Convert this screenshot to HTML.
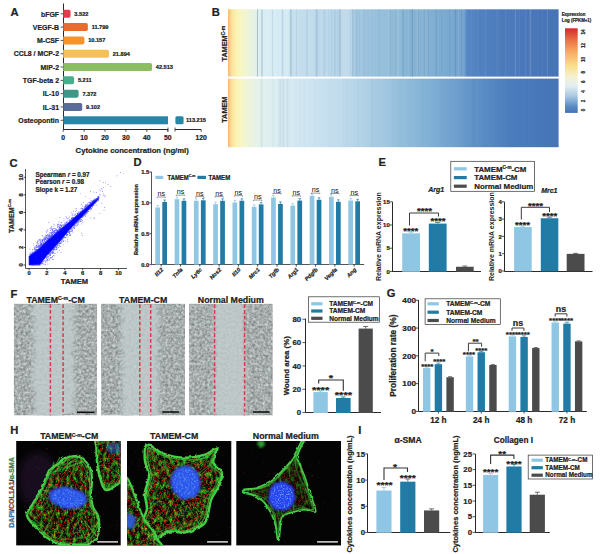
<!DOCTYPE html>
<html><head><meta charset="utf-8"><style>
html,body{margin:0;padding:0;background:#fff;}
svg{display:block;}
text{font-family:"Liberation Sans", sans-serif;}
text[font-weight=bold]{stroke:#222;stroke-width:0.22px;}
</style></head><body>
<svg width="600" height="554" viewBox="0 0 600 554" font-family='"Liberation Sans", sans-serif'>
<rect width="600" height="554" fill="#fff"/>
<text x="10.40" y="15.80" font-size="11.2" text-anchor="start" font-weight="bold" fill="#222">A</text>
<line x1="63.50" y1="3.50" x2="63.50" y2="129.50" stroke="#2a2a2a" stroke-width="1.0"/>
<line x1="63.20" y1="129.50" x2="168.00" y2="129.50" stroke="#2a2a2a" stroke-width="1.0"/>
<line x1="175.00" y1="129.50" x2="201.20" y2="129.50" stroke="#2a2a2a" stroke-width="1.0"/>
<line x1="168.00" y1="127.50" x2="168.00" y2="131.50" stroke="#2a2a2a" stroke-width="0.8"/>
<line x1="175.00" y1="127.50" x2="175.00" y2="131.50" stroke="#2a2a2a" stroke-width="0.8"/>
<line x1="63.20" y1="129.50" x2="63.20" y2="131.80" stroke="#2a2a2a" stroke-width="0.8"/>
<text x="63.20" y="140.00" font-size="6.8" text-anchor="middle" font-weight="bold" fill="#222">0</text>
<line x1="84.10" y1="129.50" x2="84.10" y2="131.80" stroke="#2a2a2a" stroke-width="0.8"/>
<text x="84.10" y="140.00" font-size="6.8" text-anchor="middle" font-weight="bold" fill="#222">10</text>
<line x1="105.00" y1="129.50" x2="105.00" y2="131.80" stroke="#2a2a2a" stroke-width="0.8"/>
<text x="105.00" y="140.00" font-size="6.8" text-anchor="middle" font-weight="bold" fill="#222">20</text>
<line x1="125.90" y1="129.50" x2="125.90" y2="131.80" stroke="#2a2a2a" stroke-width="0.8"/>
<text x="125.90" y="140.00" font-size="6.8" text-anchor="middle" font-weight="bold" fill="#222">30</text>
<line x1="146.80" y1="129.50" x2="146.80" y2="131.80" stroke="#2a2a2a" stroke-width="0.8"/>
<text x="146.80" y="140.00" font-size="6.8" text-anchor="middle" font-weight="bold" fill="#222">40</text>
<line x1="167.70" y1="129.50" x2="167.70" y2="131.80" stroke="#2a2a2a" stroke-width="0.8"/>
<text x="167.70" y="140.00" font-size="6.8" text-anchor="middle" font-weight="bold" fill="#222">50</text>
<line x1="201.20" y1="129.50" x2="201.20" y2="131.80" stroke="#2a2a2a" stroke-width="0.8"/>
<text x="201.20" y="140.00" font-size="6.8" text-anchor="middle" font-weight="bold" fill="#222">120</text>
<text x="132.20" y="153.20" font-size="7.7" text-anchor="middle" font-weight="bold" fill="#222">Cytokine concentration (ng/ml)</text>
<path d="M63.2 9.80H68.76Q70.56 9.80 70.56 11.60V16.00Q70.56 17.80 68.76 17.80H63.2Z" fill="#e8384c"/>
<line x1="60.60" y1="13.80" x2="63.20" y2="13.80" stroke="#2a2a2a" stroke-width="0.8"/>
<text transform="translate(59.00 16.56) scale(0.9 1)" font-size="7.7" text-anchor="end" font-weight="bold" fill="#222">bFGF</text>
<text x="74.36" y="15.80" font-size="5.6" text-anchor="start" font-weight="bold" fill="#222">3.522</text>
<path d="M63.2 23.11H86.06Q87.86 23.11 87.86 24.91V29.31Q87.86 31.11 86.06 31.11H63.2Z" fill="#ec6a2b"/>
<line x1="60.60" y1="27.11" x2="63.20" y2="27.11" stroke="#2a2a2a" stroke-width="0.8"/>
<text transform="translate(59.00 29.87) scale(0.9 1)" font-size="7.7" text-anchor="end" font-weight="bold" fill="#222">VEGF-B</text>
<text x="91.66" y="29.11" font-size="5.6" text-anchor="start" font-weight="bold" fill="#222">11.799</text>
<path d="M63.2 36.42H82.63Q84.43 36.42 84.43 38.22V42.62Q84.43 44.42 82.63 44.42H63.2Z" fill="#f3952a"/>
<line x1="60.60" y1="40.42" x2="63.20" y2="40.42" stroke="#2a2a2a" stroke-width="0.8"/>
<text transform="translate(59.00 43.18) scale(0.9 1)" font-size="7.7" text-anchor="end" font-weight="bold" fill="#222">M-CSF</text>
<text x="88.23" y="42.42" font-size="5.6" text-anchor="start" font-weight="bold" fill="#222">10.157</text>
<path d="M63.2 49.73H107.16Q108.96 49.73 108.96 51.53V55.93Q108.96 57.73 107.16 57.73H63.2Z" fill="#f6c056"/>
<line x1="60.60" y1="53.73" x2="63.20" y2="53.73" stroke="#2a2a2a" stroke-width="0.8"/>
<text transform="translate(59.00 56.49) scale(0.9 1)" font-size="7.7" text-anchor="end" font-weight="bold" fill="#222">CCL8 / MCP-2</text>
<text x="112.76" y="55.73" font-size="5.6" text-anchor="start" font-weight="bold" fill="#222">21.894</text>
<path d="M63.2 63.04H150.25Q152.05 63.04 152.05 64.84V69.24Q152.05 71.04 150.25 71.04H63.2Z" fill="#8bbe62"/>
<line x1="60.60" y1="67.04" x2="63.20" y2="67.04" stroke="#2a2a2a" stroke-width="0.8"/>
<text transform="translate(59.00 69.80) scale(0.9 1)" font-size="7.7" text-anchor="end" font-weight="bold" fill="#222">MIP-2</text>
<text x="155.85" y="69.04" font-size="5.6" text-anchor="start" font-weight="bold" fill="#222">42.513</text>
<path d="M63.2 76.35H72.29Q74.09 76.35 74.09 78.15V82.55Q74.09 84.35 72.29 84.35H63.2Z" fill="#49ae8c"/>
<line x1="60.60" y1="80.35" x2="63.20" y2="80.35" stroke="#2a2a2a" stroke-width="0.8"/>
<text transform="translate(59.00 83.11) scale(0.9 1)" font-size="7.7" text-anchor="end" font-weight="bold" fill="#222">TGF-beta 2</text>
<text x="77.89" y="82.35" font-size="5.6" text-anchor="start" font-weight="bold" fill="#222">5.211</text>
<path d="M63.2 89.66H76.81Q78.61 89.66 78.61 91.46V95.86Q78.61 97.66 76.81 97.66H63.2Z" fill="#3e9786"/>
<line x1="60.60" y1="93.66" x2="63.20" y2="93.66" stroke="#2a2a2a" stroke-width="0.8"/>
<text transform="translate(59.00 96.42) scale(0.9 1)" font-size="7.7" text-anchor="end" font-weight="bold" fill="#222">IL-10</text>
<text x="82.41" y="95.66" font-size="5.6" text-anchor="start" font-weight="bold" fill="#222">7.372</text>
<path d="M63.2 102.97H80.42Q82.22 102.97 82.22 104.77V109.17Q82.22 110.97 80.42 110.97H63.2Z" fill="#586d9a"/>
<line x1="60.60" y1="106.97" x2="63.20" y2="106.97" stroke="#2a2a2a" stroke-width="0.8"/>
<text transform="translate(59.00 109.73) scale(0.9 1)" font-size="7.7" text-anchor="end" font-weight="bold" fill="#222">IL-31</text>
<text x="86.02" y="108.97" font-size="5.6" text-anchor="start" font-weight="bold" fill="#222">9.102</text>
<rect x="63.20" y="116.28" width="104.80" height="8.00" fill="#2586a8"/>
<rect x="175.40" y="116.28" width="8.20" height="8.00" fill="#2586a8" rx="1.5"/>
<line x1="60.60" y1="120.28" x2="63.20" y2="120.28" stroke="#2a2a2a" stroke-width="0.8"/>
<text transform="translate(59.00 123.04) scale(0.9 1)" font-size="7.7" text-anchor="end" font-weight="bold" fill="#222">Osteopontin</text>
<text x="186.00" y="122.28" font-size="5.6" text-anchor="start" font-weight="bold" fill="#222">113.215</text>
<text x="211.80" y="16.20" font-size="11.2" text-anchor="start" font-weight="bold" fill="#222">B</text>
<defs><linearGradient id="hgl" x1="0" x2="1" y1="0" y2="0"><stop offset="0.0000" stop-color="#f2b274"/><stop offset="0.0048" stop-color="#f7cc8a"/><stop offset="0.0121" stop-color="#fbe39c"/><stop offset="0.0242" stop-color="#fbf2b0"/><stop offset="0.0393" stop-color="#f7f6c4"/><stop offset="0.0605" stop-color="#eef4d8"/><stop offset="0.0907" stop-color="#e4f2ec"/><stop offset="0.1422" stop-color="#dcedf2"/><stop offset="0.2178" stop-color="#d2e7f2"/><stop offset="0.3388" stop-color="#c0dbec"/><stop offset="0.4598" stop-color="#a6cae2"/><stop offset="0.5203" stop-color="#95bfdc"/><stop offset="0.6110" stop-color="#80b0d5"/><stop offset="0.7018" stop-color="#6c9ccc"/><stop offset="0.7713" stop-color="#5a8cc4"/><stop offset="0.8530" stop-color="#4b7dbe"/><stop offset="1.0000" stop-color="#4674b6"/></linearGradient></defs>
<defs><linearGradient id="hgu" x1="0" x2="1" y1="0" y2="0"><stop offset="0.0000" stop-color="#f2b274"/><stop offset="0.0048" stop-color="#f7cc8a"/><stop offset="0.0121" stop-color="#fbe39c"/><stop offset="0.0242" stop-color="#fbf2b0"/><stop offset="0.0393" stop-color="#f7f6c4"/><stop offset="0.0605" stop-color="#eef4d8"/><stop offset="0.0847" stop-color="#e2f0ea"/><stop offset="0.1059" stop-color="#daeef5"/><stop offset="0.1845" stop-color="#d4eaf3"/><stop offset="0.1906" stop-color="#c6dfee"/><stop offset="0.3327" stop-color="#b8d6ea"/><stop offset="0.3418" stop-color="#c2dbec"/><stop offset="0.3721" stop-color="#bcd8ea"/><stop offset="0.3811" stop-color="#a4c8e2"/><stop offset="0.5203" stop-color="#8ebad8"/><stop offset="0.6110" stop-color="#82b0d4"/><stop offset="0.7139" stop-color="#74a4cf"/><stop offset="0.7229" stop-color="#5686c2"/><stop offset="0.7925" stop-color="#4f7ebe"/><stop offset="0.8832" stop-color="#4a78ba"/><stop offset="1.0000" stop-color="#4674b6"/></linearGradient></defs>
<rect x="228.00" y="9.30" width="330.60" height="67.30" fill="url(#hgu)"/>
<rect x="228.00" y="78.60" width="330.60" height="68.60" fill="url(#hgl)"/>
<rect x="358.56" y="9.30" width="0.50" height="67.30" fill="#3f6f9f" opacity="0.05"/>
<rect x="503.81" y="9.30" width="0.40" height="67.30" fill="#3f6f9f" opacity="0.05"/>
<rect x="412.17" y="9.30" width="0.40" height="67.30" fill="#3f6f9f" opacity="0.10"/>
<rect x="334.27" y="9.30" width="1.20" height="67.30" fill="#3f6f9f" opacity="0.16"/>
<rect x="300.15" y="9.30" width="0.50" height="67.30" fill="#eaf4fa" opacity="0.14"/>
<rect x="282.06" y="9.30" width="1.20" height="67.30" fill="#3f6f9f" opacity="0.18"/>
<rect x="277.60" y="9.30" width="0.50" height="67.30" fill="#3f6f9f" opacity="0.06"/>
<rect x="298.40" y="9.30" width="0.70" height="67.30" fill="#eaf4fa" opacity="0.15"/>
<rect x="294.09" y="9.30" width="1.20" height="67.30" fill="#eaf4fa" opacity="0.11"/>
<rect x="423.94" y="9.30" width="0.40" height="67.30" fill="#eaf4fa" opacity="0.14"/>
<rect x="408.95" y="9.30" width="1.20" height="67.30" fill="#3f6f9f" opacity="0.08"/>
<rect x="434.98" y="9.30" width="0.90" height="67.30" fill="#3f6f9f" opacity="0.07"/>
<rect x="316.49" y="9.30" width="0.50" height="67.30" fill="#3f6f9f" opacity="0.08"/>
<rect x="408.57" y="9.30" width="0.70" height="67.30" fill="#eaf4fa" opacity="0.09"/>
<rect x="550.21" y="9.30" width="0.40" height="67.30" fill="#3f6f9f" opacity="0.06"/>
<rect x="363.88" y="9.30" width="0.90" height="67.30" fill="#3f6f9f" opacity="0.17"/>
<rect x="286.67" y="9.30" width="1.20" height="67.30" fill="#eaf4fa" opacity="0.18"/>
<rect x="355.61" y="9.30" width="1.60" height="67.30" fill="#3f6f9f" opacity="0.11"/>
<rect x="496.69" y="9.30" width="0.40" height="67.30" fill="#eaf4fa" opacity="0.19"/>
<rect x="402.44" y="9.30" width="1.60" height="67.30" fill="#3f6f9f" opacity="0.14"/>
<rect x="354.41" y="9.30" width="1.20" height="67.30" fill="#eaf4fa" opacity="0.17"/>
<rect x="347.10" y="9.30" width="0.90" height="67.30" fill="#eaf4fa" opacity="0.10"/>
<rect x="538.67" y="9.30" width="0.70" height="67.30" fill="#3f6f9f" opacity="0.06"/>
<rect x="281.21" y="9.30" width="0.70" height="67.30" fill="#3f6f9f" opacity="0.07"/>
<rect x="378.16" y="9.30" width="0.90" height="67.30" fill="#3f6f9f" opacity="0.10"/>
<rect x="424.44" y="9.30" width="0.50" height="67.30" fill="#eaf4fa" opacity="0.18"/>
<rect x="345.30" y="9.30" width="0.90" height="67.30" fill="#eaf4fa" opacity="0.15"/>
<rect x="375.09" y="9.30" width="0.50" height="67.30" fill="#3f6f9f" opacity="0.06"/>
<rect x="331.73" y="9.30" width="0.50" height="67.30" fill="#3f6f9f" opacity="0.16"/>
<rect x="317.24" y="9.30" width="0.70" height="67.30" fill="#3f6f9f" opacity="0.10"/>
<rect x="371.82" y="9.30" width="1.20" height="67.30" fill="#3f6f9f" opacity="0.06"/>
<rect x="514.89" y="9.30" width="1.20" height="67.30" fill="#eaf4fa" opacity="0.16"/>
<rect x="397.34" y="9.30" width="1.60" height="67.30" fill="#eaf4fa" opacity="0.11"/>
<rect x="380.50" y="9.30" width="0.40" height="67.30" fill="#3f6f9f" opacity="0.10"/>
<rect x="319.66" y="9.30" width="0.50" height="67.30" fill="#3f6f9f" opacity="0.06"/>
<rect x="439.41" y="9.30" width="0.40" height="67.30" fill="#3f6f9f" opacity="0.06"/>
<rect x="293.63" y="9.30" width="0.70" height="67.30" fill="#eaf4fa" opacity="0.06"/>
<rect x="324.72" y="9.30" width="0.90" height="67.30" fill="#3f6f9f" opacity="0.08"/>
<rect x="365.44" y="9.30" width="0.70" height="67.30" fill="#3f6f9f" opacity="0.06"/>
<rect x="406.52" y="9.30" width="0.90" height="67.30" fill="#3f6f9f" opacity="0.08"/>
<rect x="306.08" y="9.30" width="1.60" height="67.30" fill="#3f6f9f" opacity="0.08"/>
<rect x="506.03" y="9.30" width="0.50" height="67.30" fill="#3f6f9f" opacity="0.07"/>
<rect x="541.99" y="9.30" width="0.70" height="67.30" fill="#3f6f9f" opacity="0.12"/>
<rect x="271.90" y="9.30" width="1.20" height="67.30" fill="#3f6f9f" opacity="0.13"/>
<rect x="290.58" y="9.30" width="0.70" height="67.30" fill="#3f6f9f" opacity="0.17"/>
<rect x="367.86" y="9.30" width="0.50" height="67.30" fill="#3f6f9f" opacity="0.15"/>
<rect x="360.26" y="9.30" width="0.50" height="67.30" fill="#eaf4fa" opacity="0.17"/>
<rect x="485.43" y="9.30" width="0.50" height="67.30" fill="#eaf4fa" opacity="0.17"/>
<rect x="480.04" y="9.30" width="0.50" height="67.30" fill="#3f6f9f" opacity="0.11"/>
<rect x="477.45" y="9.30" width="0.40" height="67.30" fill="#eaf4fa" opacity="0.12"/>
<rect x="320.54" y="9.30" width="1.20" height="67.30" fill="#eaf4fa" opacity="0.12"/>
<rect x="537.61" y="9.30" width="0.70" height="67.30" fill="#eaf4fa" opacity="0.10"/>
<rect x="328.37" y="9.30" width="0.50" height="67.30" fill="#3f6f9f" opacity="0.09"/>
<rect x="404.93" y="9.30" width="1.20" height="67.30" fill="#eaf4fa" opacity="0.12"/>
<rect x="454.67" y="9.30" width="1.60" height="67.30" fill="#3f6f9f" opacity="0.13"/>
<rect x="529.65" y="9.30" width="1.60" height="67.30" fill="#eaf4fa" opacity="0.12"/>
<rect x="316.13" y="9.30" width="1.60" height="67.30" fill="#3f6f9f" opacity="0.15"/>
<rect x="547.72" y="9.30" width="0.90" height="67.30" fill="#3f6f9f" opacity="0.14"/>
<rect x="288.80" y="9.30" width="0.50" height="67.30" fill="#3f6f9f" opacity="0.06"/>
<rect x="308.14" y="9.30" width="0.90" height="67.30" fill="#eaf4fa" opacity="0.07"/>
<rect x="505.34" y="9.30" width="0.90" height="67.30" fill="#eaf4fa" opacity="0.10"/>
<rect x="424.21" y="9.30" width="0.50" height="67.30" fill="#3f6f9f" opacity="0.15"/>
<rect x="476.10" y="9.30" width="0.40" height="67.30" fill="#3f6f9f" opacity="0.17"/>
<rect x="390.67" y="9.30" width="0.50" height="67.30" fill="#eaf4fa" opacity="0.08"/>
<rect x="337.54" y="9.30" width="0.70" height="67.30" fill="#3f6f9f" opacity="0.15"/>
<rect x="359.19" y="9.30" width="1.20" height="67.30" fill="#3f6f9f" opacity="0.06"/>
<rect x="529.72" y="9.30" width="0.70" height="67.30" fill="#eaf4fa" opacity="0.15"/>
<rect x="501.99" y="9.30" width="1.20" height="67.30" fill="#3f6f9f" opacity="0.17"/>
<rect x="410.48" y="9.30" width="1.20" height="67.30" fill="#3f6f9f" opacity="0.11"/>
<rect x="518.86" y="9.30" width="0.50" height="67.30" fill="#eaf4fa" opacity="0.17"/>
<rect x="307.74" y="9.30" width="0.50" height="67.30" fill="#3f6f9f" opacity="0.14"/>
<rect x="426.49" y="9.30" width="0.70" height="67.30" fill="#eaf4fa" opacity="0.13"/>
<rect x="404.89" y="9.30" width="0.40" height="67.30" fill="#eaf4fa" opacity="0.06"/>
<rect x="319.86" y="9.30" width="0.40" height="67.30" fill="#eaf4fa" opacity="0.13"/>
<rect x="428.02" y="9.30" width="0.40" height="67.30" fill="#3f6f9f" opacity="0.13"/>
<rect x="411.62" y="9.30" width="1.20" height="67.30" fill="#3f6f9f" opacity="0.08"/>
<rect x="412.38" y="9.30" width="0.90" height="67.30" fill="#3f6f9f" opacity="0.07"/>
<rect x="416.78" y="9.30" width="0.70" height="67.30" fill="#eaf4fa" opacity="0.18"/>
<rect x="323.16" y="9.30" width="0.90" height="67.30" fill="#3f6f9f" opacity="0.06"/>
<rect x="393.10" y="9.30" width="0.40" height="67.30" fill="#eaf4fa" opacity="0.11"/>
<rect x="326.11" y="9.30" width="0.70" height="67.30" fill="#eaf4fa" opacity="0.18"/>
<rect x="309.10" y="9.30" width="1.60" height="67.30" fill="#eaf4fa" opacity="0.10"/>
<rect x="337.91" y="9.30" width="0.50" height="67.30" fill="#eaf4fa" opacity="0.08"/>
<rect x="542.13" y="9.30" width="0.90" height="67.30" fill="#eaf4fa" opacity="0.07"/>
<rect x="459.01" y="9.30" width="0.50" height="67.30" fill="#3f6f9f" opacity="0.10"/>
<rect x="414.56" y="9.30" width="0.70" height="67.30" fill="#3f6f9f" opacity="0.09"/>
<rect x="290.92" y="9.30" width="0.70" height="67.30" fill="#3f6f9f" opacity="0.12"/>
<rect x="392.61" y="9.30" width="0.40" height="67.30" fill="#3f6f9f" opacity="0.11"/>
<rect x="350.27" y="9.30" width="0.40" height="67.30" fill="#3f6f9f" opacity="0.17"/>
<rect x="330.74" y="9.30" width="0.40" height="67.30" fill="#3f6f9f" opacity="0.08"/>
<rect x="528.52" y="9.30" width="0.50" height="67.30" fill="#3f6f9f" opacity="0.06"/>
<rect x="387.30" y="9.30" width="1.60" height="67.30" fill="#eaf4fa" opacity="0.09"/>
<rect x="307.62" y="9.30" width="1.20" height="67.30" fill="#eaf4fa" opacity="0.16"/>
<rect x="290.12" y="9.30" width="0.40" height="67.30" fill="#eaf4fa" opacity="0.08"/>
<rect x="525.42" y="9.30" width="0.70" height="67.30" fill="#eaf4fa" opacity="0.15"/>
<rect x="498.08" y="9.30" width="0.40" height="67.30" fill="#eaf4fa" opacity="0.08"/>
<rect x="341.22" y="9.30" width="0.40" height="67.30" fill="#3f6f9f" opacity="0.09"/>
<rect x="425.49" y="9.30" width="0.70" height="67.30" fill="#eaf4fa" opacity="0.06"/>
<rect x="471.18" y="9.30" width="0.40" height="67.30" fill="#eaf4fa" opacity="0.09"/>
<rect x="316.89" y="9.30" width="0.70" height="67.30" fill="#eaf4fa" opacity="0.13"/>
<rect x="324.11" y="9.30" width="0.90" height="67.30" fill="#3f6f9f" opacity="0.06"/>
<rect x="365.32" y="9.30" width="0.40" height="67.30" fill="#eaf4fa" opacity="0.06"/>
<rect x="269.38" y="9.30" width="1.20" height="67.30" fill="#eaf4fa" opacity="0.08"/>
<rect x="402.63" y="9.30" width="0.90" height="67.30" fill="#3f6f9f" opacity="0.15"/>
<rect x="390.20" y="9.30" width="0.90" height="67.30" fill="#3f6f9f" opacity="0.16"/>
<rect x="547.33" y="9.30" width="0.70" height="67.30" fill="#eaf4fa" opacity="0.20"/>
<rect x="364.07" y="9.30" width="1.60" height="67.30" fill="#eaf4fa" opacity="0.07"/>
<rect x="552.92" y="9.30" width="0.40" height="67.30" fill="#eaf4fa" opacity="0.05"/>
<rect x="446.63" y="9.30" width="0.70" height="67.30" fill="#3f6f9f" opacity="0.05"/>
<rect x="458.25" y="9.30" width="0.90" height="67.30" fill="#eaf4fa" opacity="0.15"/>
<rect x="257.00" y="9.30" width="0.80" height="67.30" fill="#4a6f8a" opacity="0.45"/>
<rect x="261.60" y="9.30" width="0.80" height="67.30" fill="#4a6f8a" opacity="0.5"/>
<rect x="290.20" y="9.30" width="0.60" height="67.30" fill="#4a6f8a" opacity="0.25"/>
<rect x="296.00" y="9.30" width="0.60" height="67.30" fill="#4a6f8a" opacity="0.15"/>
<rect x="339.60" y="9.30" width="0.70" height="67.30" fill="#4a6f8a" opacity="0.5"/>
<rect x="352.50" y="9.30" width="0.60" height="67.30" fill="#4a6f8a" opacity="0.3"/>
<rect x="315.00" y="9.30" width="0.50" height="67.30" fill="#4a6f8a" opacity="0.15"/>
<rect x="395.00" y="9.30" width="0.60" height="67.30" fill="#4a6f8a" opacity="0.2"/>
<rect x="405.00" y="9.30" width="0.60" height="67.30" fill="#4a6f8a" opacity="0.2"/>
<rect x="412.00" y="9.30" width="0.80" height="67.30" fill="#4a6f8a" opacity="0.25"/>
<rect x="418.00" y="9.30" width="0.60" height="67.30" fill="#4a6f8a" opacity="0.25"/>
<rect x="424.00" y="9.30" width="0.60" height="67.30" fill="#4a6f8a" opacity="0.2"/>
<rect x="428.00" y="9.30" width="0.50" height="67.30" fill="#4a6f8a" opacity="0.2"/>
<rect x="436.00" y="9.30" width="0.90" height="67.30" fill="#4a6f8a" opacity="0.2"/>
<rect x="441.00" y="9.30" width="0.60" height="67.30" fill="#4a6f8a" opacity="0.2"/>
<rect x="449.00" y="9.30" width="0.70" height="67.30" fill="#4a6f8a" opacity="0.2"/>
<rect x="455.00" y="9.30" width="0.60" height="67.30" fill="#4a6f8a" opacity="0.25"/>
<rect x="461.00" y="9.30" width="0.80" height="67.30" fill="#4a6f8a" opacity="0.2"/>
<rect x="343.45" y="78.60" width="0.80" height="68.60" fill="#3f6f9f" opacity="0.04"/>
<rect x="273.39" y="78.60" width="0.80" height="68.60" fill="#3f6f9f" opacity="0.02"/>
<rect x="391.96" y="78.60" width="1.20" height="68.60" fill="#3f6f9f" opacity="0.03"/>
<rect x="357.36" y="78.60" width="1.20" height="68.60" fill="#3f6f9f" opacity="0.03"/>
<rect x="545.84" y="78.60" width="1.20" height="68.60" fill="#3f6f9f" opacity="0.03"/>
<rect x="314.16" y="78.60" width="1.20" height="68.60" fill="#3f6f9f" opacity="0.03"/>
<rect x="400.49" y="78.60" width="0.80" height="68.60" fill="#3f6f9f" opacity="0.03"/>
<rect x="489.77" y="78.60" width="0.50" height="68.60" fill="#3f6f9f" opacity="0.03"/>
<rect x="286.57" y="78.60" width="2.00" height="68.60" fill="#3f6f9f" opacity="0.04"/>
<rect x="376.62" y="78.60" width="1.20" height="68.60" fill="#3f6f9f" opacity="0.03"/>
<rect x="328.91" y="78.60" width="0.80" height="68.60" fill="#3f6f9f" opacity="0.04"/>
<rect x="471.93" y="78.60" width="2.00" height="68.60" fill="#3f6f9f" opacity="0.04"/>
<rect x="473.32" y="78.60" width="2.00" height="68.60" fill="#3f6f9f" opacity="0.02"/>
<rect x="474.35" y="78.60" width="0.80" height="68.60" fill="#3f6f9f" opacity="0.02"/>
<rect x="507.25" y="78.60" width="2.00" height="68.60" fill="#3f6f9f" opacity="0.04"/>
<rect x="500.42" y="78.60" width="0.80" height="68.60" fill="#3f6f9f" opacity="0.05"/>
<rect x="482.85" y="78.60" width="0.50" height="68.60" fill="#3f6f9f" opacity="0.04"/>
<rect x="432.88" y="78.60" width="0.80" height="68.60" fill="#3f6f9f" opacity="0.02"/>
<rect x="272.39" y="78.60" width="1.20" height="68.60" fill="#3f6f9f" opacity="0.05"/>
<rect x="371.48" y="78.60" width="2.00" height="68.60" fill="#3f6f9f" opacity="0.04"/>
<rect x="445.82" y="78.60" width="0.80" height="68.60" fill="#3f6f9f" opacity="0.03"/>
<rect x="260.98" y="78.60" width="0.50" height="68.60" fill="#3f6f9f" opacity="0.04"/>
<rect x="408.88" y="78.60" width="0.50" height="68.60" fill="#3f6f9f" opacity="0.04"/>
<rect x="279.55" y="78.60" width="2.00" height="68.60" fill="#3f6f9f" opacity="0.03"/>
<rect x="282.04" y="78.60" width="1.20" height="68.60" fill="#3f6f9f" opacity="0.03"/>
<rect x="483.91" y="78.60" width="0.80" height="68.60" fill="#3f6f9f" opacity="0.04"/>
<rect x="548.82" y="78.60" width="2.00" height="68.60" fill="#3f6f9f" opacity="0.05"/>
<rect x="282.72" y="78.60" width="1.20" height="68.60" fill="#3f6f9f" opacity="0.04"/>
<rect x="442.62" y="78.60" width="0.80" height="68.60" fill="#3f6f9f" opacity="0.02"/>
<rect x="303.64" y="78.60" width="1.20" height="68.60" fill="#3f6f9f" opacity="0.04"/>
<rect x="465.09" y="78.60" width="0.80" height="68.60" fill="#3f6f9f" opacity="0.02"/>
<rect x="277.96" y="78.60" width="1.20" height="68.60" fill="#3f6f9f" opacity="0.05"/>
<rect x="289.46" y="78.60" width="0.80" height="68.60" fill="#3f6f9f" opacity="0.04"/>
<rect x="346.09" y="78.60" width="1.20" height="68.60" fill="#3f6f9f" opacity="0.03"/>
<rect x="398.04" y="78.60" width="0.50" height="68.60" fill="#3f6f9f" opacity="0.05"/>
<rect x="422.53" y="78.60" width="1.20" height="68.60" fill="#3f6f9f" opacity="0.05"/>
<rect x="537.13" y="78.60" width="0.50" height="68.60" fill="#3f6f9f" opacity="0.03"/>
<rect x="282.63" y="78.60" width="2.00" height="68.60" fill="#3f6f9f" opacity="0.05"/>
<rect x="374.51" y="78.60" width="0.80" height="68.60" fill="#3f6f9f" opacity="0.02"/>
<rect x="286.73" y="78.60" width="1.20" height="68.60" fill="#3f6f9f" opacity="0.05"/>
<rect x="299.25" y="78.60" width="1.20" height="68.60" fill="#3f6f9f" opacity="0.05"/>
<rect x="468.19" y="78.60" width="0.80" height="68.60" fill="#3f6f9f" opacity="0.03"/>
<rect x="519.34" y="78.60" width="2.00" height="68.60" fill="#3f6f9f" opacity="0.02"/>
<rect x="261.06" y="78.60" width="2.00" height="68.60" fill="#3f6f9f" opacity="0.04"/>
<rect x="380.00" y="78.60" width="0.80" height="68.60" fill="#3f6f9f" opacity="0.03"/>
<rect x="371.33" y="78.60" width="0.50" height="68.60" fill="#3f6f9f" opacity="0.05"/>
<rect x="260.52" y="78.60" width="1.20" height="68.60" fill="#3f6f9f" opacity="0.05"/>
<rect x="295.53" y="78.60" width="0.80" height="68.60" fill="#3f6f9f" opacity="0.04"/>
<rect x="526.86" y="78.60" width="1.20" height="68.60" fill="#3f6f9f" opacity="0.03"/>
<rect x="279.23" y="78.60" width="2.00" height="68.60" fill="#3f6f9f" opacity="0.05"/>
<text transform="translate(227.2 61.4) rotate(-90)" font-size="7.2" font-weight="bold" fill="#222">TAMEM<tspan font-size="5.0" dy="-2.2">C-m</tspan></text>
<text transform="translate(227.0 122.8) rotate(-90)" font-size="7.3" font-weight="bold" fill="#222">TAMEM</text>
<text transform="translate(561.70 16.20) scale(0.88 1)" font-size="5.0" text-anchor="start" font-weight="bold" fill="#222">Expression</text>
<text transform="translate(561.70 21.80) scale(0.88 1)" font-size="5.0" text-anchor="start" font-weight="bold" fill="#222">Log (FPKM+1)</text>
<defs><linearGradient id="cbg" x1="0" x2="0" y1="0" y2="1"><stop offset="0" stop-color="#d22b2b"/><stop offset="0.16" stop-color="#ee7a48"/><stop offset="0.29" stop-color="#f8ae66"/><stop offset="0.45" stop-color="#f9e08e"/><stop offset="0.58" stop-color="#f4f2d4"/><stop offset="0.68" stop-color="#e2eef2"/><stop offset="0.8" stop-color="#a9c9e1"/><stop offset="0.92" stop-color="#5d8cc4"/><stop offset="1" stop-color="#4470b2"/></linearGradient></defs>
<rect x="565.00" y="28.30" width="12.70" height="84.60" fill="url(#cbg)"/>
<text transform="translate(585.4 110.00) rotate(-90) scale(0.9 1)" font-size="5.0" font-weight="bold" fill="#222" text-anchor="middle">0</text>
<text transform="translate(585.4 101.00) rotate(-90) scale(0.9 1)" font-size="5.0" font-weight="bold" fill="#222" text-anchor="middle">2</text>
<text transform="translate(585.4 91.50) rotate(-90) scale(0.9 1)" font-size="5.0" font-weight="bold" fill="#222" text-anchor="middle">4</text>
<text transform="translate(585.4 81.80) rotate(-90) scale(0.9 1)" font-size="5.0" font-weight="bold" fill="#222" text-anchor="middle">6</text>
<text transform="translate(585.4 72.20) rotate(-90) scale(0.9 1)" font-size="5.0" font-weight="bold" fill="#222" text-anchor="middle">8</text>
<text transform="translate(585.4 59.50) rotate(-90) scale(0.9 1)" font-size="5.0" font-weight="bold" fill="#222" text-anchor="middle">10</text>
<text transform="translate(585.4 45.40) rotate(-90) scale(0.9 1)" font-size="5.0" font-weight="bold" fill="#222" text-anchor="middle">12</text>
<text transform="translate(585.4 32.10) rotate(-90) scale(0.9 1)" font-size="5.0" font-weight="bold" fill="#222" text-anchor="middle">14</text>
<text x="9.40" y="166.50" font-size="11.2" text-anchor="start" font-weight="bold" fill="#222">C</text>
<line x1="25.50" y1="169.00" x2="25.50" y2="268.50" stroke="#555" stroke-width="1.0"/>
<line x1="25.50" y1="268.50" x2="127.00" y2="268.50" stroke="#555" stroke-width="1.0"/>
<line x1="29.10" y1="268.00" x2="29.10" y2="270.20" stroke="#2a2a2a" stroke-width="0.8"/>
<text x="29.10" y="275.00" font-size="5.8" text-anchor="middle" font-weight="bold" fill="#222">0</text>
<line x1="23.80" y1="265.00" x2="26.00" y2="265.00" stroke="#2a2a2a" stroke-width="0.8"/>
<text transform="translate(22.6 265.00) rotate(-90)" font-size="5.8" font-weight="bold" fill="#222" text-anchor="middle">0</text>
<line x1="46.96" y1="268.00" x2="46.96" y2="270.20" stroke="#2a2a2a" stroke-width="0.8"/>
<text x="46.96" y="275.00" font-size="5.8" text-anchor="middle" font-weight="bold" fill="#222">2</text>
<line x1="23.80" y1="247.46" x2="26.00" y2="247.46" stroke="#2a2a2a" stroke-width="0.8"/>
<text transform="translate(22.6 247.46) rotate(-90)" font-size="5.8" font-weight="bold" fill="#222" text-anchor="middle">2</text>
<line x1="64.82" y1="268.00" x2="64.82" y2="270.20" stroke="#2a2a2a" stroke-width="0.8"/>
<text x="64.82" y="275.00" font-size="5.8" text-anchor="middle" font-weight="bold" fill="#222">4</text>
<line x1="23.80" y1="229.92" x2="26.00" y2="229.92" stroke="#2a2a2a" stroke-width="0.8"/>
<text transform="translate(22.6 229.92) rotate(-90)" font-size="5.8" font-weight="bold" fill="#222" text-anchor="middle">4</text>
<line x1="82.68" y1="268.00" x2="82.68" y2="270.20" stroke="#2a2a2a" stroke-width="0.8"/>
<text x="82.68" y="275.00" font-size="5.8" text-anchor="middle" font-weight="bold" fill="#222">6</text>
<line x1="23.80" y1="212.38" x2="26.00" y2="212.38" stroke="#2a2a2a" stroke-width="0.8"/>
<text transform="translate(22.6 212.38) rotate(-90)" font-size="5.8" font-weight="bold" fill="#222" text-anchor="middle">6</text>
<line x1="100.54" y1="268.00" x2="100.54" y2="270.20" stroke="#2a2a2a" stroke-width="0.8"/>
<text x="100.54" y="275.00" font-size="5.8" text-anchor="middle" font-weight="bold" fill="#222">8</text>
<line x1="23.80" y1="194.84" x2="26.00" y2="194.84" stroke="#2a2a2a" stroke-width="0.8"/>
<text transform="translate(22.6 194.84) rotate(-90)" font-size="5.8" font-weight="bold" fill="#222" text-anchor="middle">8</text>
<line x1="118.40" y1="268.00" x2="118.40" y2="270.20" stroke="#2a2a2a" stroke-width="0.8"/>
<text x="118.40" y="275.00" font-size="5.8" text-anchor="middle" font-weight="bold" fill="#222">10</text>
<line x1="23.80" y1="177.30" x2="26.00" y2="177.30" stroke="#2a2a2a" stroke-width="0.8"/>
<text transform="translate(22.6 177.30) rotate(-90)" font-size="5.8" font-weight="bold" fill="#222" text-anchor="middle">10</text>
<text x="74.50" y="284.20" font-size="7.6" text-anchor="middle" font-weight="bold" fill="#222">TAMEM</text>
<text transform="translate(13.6 233.0) rotate(-90)" font-size="7.2" font-weight="bold" fill="#222">TAMEM<tspan font-size="4.2" dy="-2.9">C-m</tspan></text>
<text x="35.50" y="177.00" font-size="6.3" text-anchor="start" font-weight="bold" fill="#222">Spearman <tspan font-style="italic">r</tspan> = 0.97</text>
<text x="35.50" y="184.30" font-size="6.3" text-anchor="start" font-weight="bold" fill="#222">Pearson <tspan font-style="italic">r</tspan> = 0.98</text>
<text x="35.50" y="191.60" font-size="6.3" text-anchor="start" font-weight="bold" fill="#222">Slope k = 1.27</text>
<polygon points="29.10,256.23 38.03,249.65 46.96,240.88 59.46,230.36 71.96,219.83 85.36,208.43 94.29,200.54 98.31,198.17 98.31,199.23 94.29,203.61 85.36,213.26 71.96,226.85 59.46,241.76 46.96,255.35 39.82,264.56 29.10,265.00" fill="#0000ff" stroke="#0000ff" stroke-width="0.7"/>
<path d="M36.4 250.4h0.7v0.7h-0.7zM62.0 227.0h0.7v0.7h-0.7zM84.9 206.2h0.7v0.7h-0.7zM53.5 250.9h0.7v0.7h-0.7zM52.2 234.9h0.7v0.7h-0.7zM73.9 225.1h0.7v0.7h-0.7zM97.2 198.0h0.7v0.7h-0.7zM46.6 261.5h0.7v0.7h-0.7zM58.6 224.7h0.7v0.7h-0.7zM59.4 245.0h0.7v0.7h-0.7zM32.2 252.3h0.7v0.7h-0.7zM77.4 212.7h0.7v0.7h-0.7zM56.0 247.3h0.7v0.7h-0.7zM53.8 231.2h0.7v0.7h-0.7zM58.6 229.4h0.7v0.7h-0.7zM63.7 236.8h0.7v0.7h-0.7zM42.4 262.3h0.7v0.7h-0.7zM94.3 200.4h0.7v0.7h-0.7zM37.7 249.0h0.7v0.7h-0.7zM80.2 218.8h0.7v0.7h-0.7zM76.0 215.2h0.7v0.7h-0.7zM64.7 224.1h0.7v0.7h-0.7zM39.2 247.8h0.7v0.7h-0.7zM52.5 235.4h0.7v0.7h-0.7zM51.1 252.6h0.7v0.7h-0.7zM86.3 212.5h0.7v0.7h-0.7zM74.7 215.8h0.7v0.7h-0.7zM47.6 237.0h0.7v0.7h-0.7zM79.3 219.6h0.7v0.7h-0.7zM31.2 253.1h0.7v0.7h-0.7zM55.8 246.6h0.7v0.7h-0.7zM69.7 219.5h0.7v0.7h-0.7zM74.1 228.2h0.7v0.7h-0.7zM32.0 252.3h0.7v0.7h-0.7zM67.6 234.4h0.7v0.7h-0.7zM34.4 249.7h0.7v0.7h-0.7zM55.5 246.7h0.7v0.7h-0.7zM52.3 236.3h0.7v0.7h-0.7zM46.0 257.5h0.7v0.7h-0.7zM97.8 200.0h0.7v0.7h-0.7zM94.0 204.7h0.7v0.7h-0.7zM92.0 202.0h0.7v0.7h-0.7zM62.8 244.6h0.7v0.7h-0.7zM58.3 226.2h0.7v0.7h-0.7zM52.4 234.8h0.7v0.7h-0.7zM97.1 198.2h0.7v0.7h-0.7zM49.0 235.5h0.7v0.7h-0.7zM64.5 237.6h0.7v0.7h-0.7zM34.4 251.2h0.7v0.7h-0.7zM61.7 224.9h0.7v0.7h-0.7zM34.8 264.9h0.7v0.7h-0.7zM67.2 238.7h0.7v0.7h-0.7zM65.5 224.4h0.7v0.7h-0.7zM91.5 202.9h0.7v0.7h-0.7zM59.0 228.9h0.7v0.7h-0.7zM39.1 245.9h0.7v0.7h-0.7zM76.1 210.4h0.7v0.7h-0.7zM58.5 221.5h0.7v0.7h-0.7zM47.7 234.9h0.7v0.7h-0.7zM97.2 198.5h0.7v0.7h-0.7zM65.7 224.5h0.7v0.7h-0.7zM97.4 197.5h0.7v0.7h-0.7zM49.1 253.5h0.7v0.7h-0.7zM60.6 243.3h0.7v0.7h-0.7zM59.9 229.7h0.7v0.7h-0.7zM46.2 235.5h0.7v0.7h-0.7zM90.7 203.3h0.7v0.7h-0.7zM66.6 234.4h0.7v0.7h-0.7zM40.1 241.8h0.7v0.7h-0.7zM41.3 244.6h0.7v0.7h-0.7zM44.6 243.2h0.7v0.7h-0.7zM98.4 197.7h0.7v0.7h-0.7zM45.6 239.3h0.7v0.7h-0.7zM88.4 210.9h0.7v0.7h-0.7zM50.2 238.0h0.7v0.7h-0.7zM53.5 248.7h0.7v0.7h-0.7zM51.0 232.2h0.7v0.7h-0.7zM62.3 224.5h0.7v0.7h-0.7zM36.1 250.4h0.7v0.7h-0.7zM97.7 198.5h0.7v0.7h-0.7zM47.9 254.6h0.7v0.7h-0.7zM81.0 210.5h0.7v0.7h-0.7zM97.4 198.1h0.7v0.7h-0.7zM75.7 216.2h0.7v0.7h-0.7zM56.3 230.4h0.7v0.7h-0.7zM60.1 228.4h0.7v0.7h-0.7zM71.0 217.9h0.7v0.7h-0.7zM89.6 203.5h0.7v0.7h-0.7zM52.4 251.2h0.7v0.7h-0.7zM74.4 217.1h0.7v0.7h-0.7zM84.8 206.1h0.7v0.7h-0.7zM35.8 245.5h0.7v0.7h-0.7zM96.6 198.3h0.7v0.7h-0.7zM50.8 233.1h0.7v0.7h-0.7zM49.6 236.2h0.7v0.7h-0.7zM62.5 240.7h0.7v0.7h-0.7zM59.8 227.0h0.7v0.7h-0.7zM41.3 244.0h0.7v0.7h-0.7zM46.0 241.1h0.7v0.7h-0.7zM90.2 208.3h0.7v0.7h-0.7zM60.5 228.7h0.7v0.7h-0.7zM57.0 246.8h0.7v0.7h-0.7zM51.5 233.9h0.7v0.7h-0.7zM47.4 237.8h0.7v0.7h-0.7zM60.1 227.3h0.7v0.7h-0.7zM70.5 220.6h0.7v0.7h-0.7zM70.9 219.0h0.7v0.7h-0.7zM71.0 228.0h0.7v0.7h-0.7zM34.2 249.3h0.7v0.7h-0.7zM60.8 222.0h0.7v0.7h-0.7zM52.6 232.3h0.7v0.7h-0.7zM54.1 232.3h0.7v0.7h-0.7zM56.7 232.5h0.7v0.7h-0.7zM59.0 229.2h0.7v0.7h-0.7zM54.9 249.2h0.7v0.7h-0.7zM56.7 229.7h0.7v0.7h-0.7zM62.1 227.6h0.7v0.7h-0.7zM40.6 243.4h0.7v0.7h-0.7zM82.0 220.0h0.7v0.7h-0.7zM69.1 219.5h0.7v0.7h-0.7zM90.8 200.4h0.7v0.7h-0.7zM46.9 238.0h0.7v0.7h-0.7zM85.1 205.1h0.7v0.7h-0.7zM54.7 232.2h0.7v0.7h-0.7zM53.9 230.7h0.7v0.7h-0.7zM86.6 206.0h0.7v0.7h-0.7zM41.8 235.2h0.7v0.7h-0.7zM30.5 254.9h0.7v0.7h-0.7zM42.8 239.6h0.7v0.7h-0.7zM48.4 233.7h0.7v0.7h-0.7zM84.7 215.3h0.7v0.7h-0.7zM36.4 264.8h0.7v0.7h-0.7zM86.1 205.4h0.7v0.7h-0.7zM36.7 246.1h0.7v0.7h-0.7zM78.5 220.3h0.7v0.7h-0.7zM86.4 212.2h0.7v0.7h-0.7zM96.3 198.2h0.7v0.7h-0.7zM69.6 221.0h0.7v0.7h-0.7zM39.1 264.7h0.7v0.7h-0.7zM71.2 218.4h0.7v0.7h-0.7zM53.7 231.5h0.7v0.7h-0.7zM71.8 217.7h0.7v0.7h-0.7zM53.6 230.9h0.7v0.7h-0.7zM86.4 205.0h0.7v0.7h-0.7zM42.4 244.7h0.7v0.7h-0.7zM53.4 259.1h0.7v0.7h-0.7zM88.7 204.5h0.7v0.7h-0.7zM92.6 200.0h0.7v0.7h-0.7zM64.7 222.5h0.7v0.7h-0.7zM34.7 248.2h0.7v0.7h-0.7zM29.6 248.7h0.7v0.7h-0.7zM88.4 205.2h0.7v0.7h-0.7zM31.6 251.4h0.7v0.7h-0.7zM95.9 199.4h0.7v0.7h-0.7zM94.6 200.1h0.7v0.7h-0.7zM64.2 225.3h0.7v0.7h-0.7zM83.9 208.5h0.7v0.7h-0.7zM42.7 241.4h0.7v0.7h-0.7zM35.1 249.7h0.7v0.7h-0.7zM55.3 230.2h0.7v0.7h-0.7zM64.5 222.7h0.7v0.7h-0.7zM98.5 196.4h0.7v0.7h-0.7zM95.3 198.5h0.7v0.7h-0.7zM92.8 201.8h0.7v0.7h-0.7zM70.3 221.1h0.7v0.7h-0.7zM57.2 230.5h0.7v0.7h-0.7zM68.7 232.1h0.7v0.7h-0.7zM50.2 236.7h0.7v0.7h-0.7zM85.6 207.7h0.7v0.7h-0.7zM42.3 241.5h0.7v0.7h-0.7zM98.6 197.5h0.7v0.7h-0.7zM85.2 214.1h0.7v0.7h-0.7zM49.2 236.9h0.7v0.7h-0.7zM89.3 209.1h0.7v0.7h-0.7zM52.5 235.3h0.7v0.7h-0.7zM48.9 238.4h0.7v0.7h-0.7zM36.2 250.7h0.7v0.7h-0.7zM47.8 256.7h0.7v0.7h-0.7zM44.9 259.9h0.7v0.7h-0.7zM64.3 222.8h0.7v0.7h-0.7zM98.3 196.7h0.7v0.7h-0.7zM57.1 231.4h0.7v0.7h-0.7zM53.6 248.8h0.7v0.7h-0.7zM67.4 222.8h0.7v0.7h-0.7zM70.3 229.3h0.7v0.7h-0.7zM78.6 212.5h0.7v0.7h-0.7zM54.2 228.0h0.7v0.7h-0.7zM53.6 231.4h0.7v0.7h-0.7zM55.7 246.6h0.7v0.7h-0.7zM78.6 220.3h0.7v0.7h-0.7zM81.9 217.6h0.7v0.7h-0.7zM46.0 240.0h0.7v0.7h-0.7zM59.3 228.8h0.7v0.7h-0.7zM38.2 241.4h0.7v0.7h-0.7zM85.3 216.0h0.7v0.7h-0.7zM46.6 241.2h0.7v0.7h-0.7zM57.3 245.2h0.7v0.7h-0.7zM66.2 234.0h0.7v0.7h-0.7zM75.6 208.5h0.7v0.7h-0.7zM95.2 199.6h0.7v0.7h-0.7zM63.6 220.4h0.7v0.7h-0.7zM52.4 235.3h0.7v0.7h-0.7zM97.2 198.0h0.7v0.7h-0.7zM50.4 255.0h0.7v0.7h-0.7zM58.9 249.7h0.7v0.7h-0.7zM94.9 200.0h0.7v0.7h-0.7zM51.5 251.5h0.7v0.7h-0.7zM59.9 225.1h0.7v0.7h-0.7zM59.5 243.3h0.7v0.7h-0.7zM88.0 205.6h0.7v0.7h-0.7zM93.3 205.3h0.7v0.7h-0.7zM34.0 248.4h0.7v0.7h-0.7zM46.9 239.9h0.7v0.7h-0.7zM97.2 197.3h0.7v0.7h-0.7zM88.0 205.5h0.7v0.7h-0.7zM65.3 225.4h0.7v0.7h-0.7zM49.7 238.4h0.7v0.7h-0.7zM59.3 229.7h0.7v0.7h-0.7zM94.7 200.1h0.7v0.7h-0.7zM47.4 238.6h0.7v0.7h-0.7zM42.3 239.9h0.7v0.7h-0.7zM59.9 224.1h0.7v0.7h-0.7zM43.9 237.1h0.7v0.7h-0.7zM72.7 217.2h0.7v0.7h-0.7zM42.2 241.1h0.7v0.7h-0.7zM87.3 205.3h0.7v0.7h-0.7zM55.5 229.5h0.7v0.7h-0.7zM52.5 252.6h0.7v0.7h-0.7zM87.8 205.5h0.7v0.7h-0.7zM88.7 202.0h0.7v0.7h-0.7zM50.4 236.0h0.7v0.7h-0.7zM40.8 242.7h0.7v0.7h-0.7zM41.4 245.3h0.7v0.7h-0.7zM70.4 220.4h0.7v0.7h-0.7zM53.4 252.1h0.7v0.7h-0.7zM52.9 233.6h0.7v0.7h-0.7zM83.0 209.8h0.7v0.7h-0.7zM78.2 214.3h0.7v0.7h-0.7zM49.6 254.2h0.7v0.7h-0.7zM59.9 229.4h0.7v0.7h-0.7zM33.4 251.8h0.7v0.7h-0.7zM51.8 250.8h0.7v0.7h-0.7zM52.6 233.2h0.7v0.7h-0.7zM89.9 204.3h0.7v0.7h-0.7zM83.4 209.4h0.7v0.7h-0.7zM92.1 201.7h0.7v0.7h-0.7zM61.4 225.5h0.7v0.7h-0.7zM52.4 230.8h0.7v0.7h-0.7zM50.8 231.7h0.7v0.7h-0.7zM52.3 252.0h0.7v0.7h-0.7zM97.6 198.2h0.7v0.7h-0.7zM53.2 232.8h0.7v0.7h-0.7zM56.1 229.9h0.7v0.7h-0.7zM49.2 255.1h0.7v0.7h-0.7zM89.6 208.8h0.7v0.7h-0.7zM73.4 227.7h0.7v0.7h-0.7zM51.6 250.7h0.7v0.7h-0.7zM95.3 199.6h0.7v0.7h-0.7zM78.7 213.5h0.7v0.7h-0.7zM53.3 250.1h0.7v0.7h-0.7zM90.5 208.3h0.7v0.7h-0.7zM53.7 230.5h0.7v0.7h-0.7zM43.9 243.4h0.7v0.7h-0.7zM57.6 231.3h0.7v0.7h-0.7zM90.8 202.8h0.7v0.7h-0.7zM42.4 240.6h0.7v0.7h-0.7zM57.3 244.9h0.7v0.7h-0.7zM91.8 206.8h0.7v0.7h-0.7zM45.0 262.0h0.7v0.7h-0.7zM33.9 250.9h0.7v0.7h-0.7zM47.4 239.6h0.7v0.7h-0.7zM51.4 257.1h0.7v0.7h-0.7zM46.9 238.4h0.7v0.7h-0.7zM43.8 243.3h0.7v0.7h-0.7zM41.7 245.4h0.7v0.7h-0.7zM98.4 197.8h0.7v0.7h-0.7zM87.4 203.5h0.7v0.7h-0.7zM66.2 222.1h0.7v0.7h-0.7zM49.7 254.3h0.7v0.7h-0.7zM40.6 243.0h0.7v0.7h-0.7zM98.0 199.7h0.7v0.7h-0.7zM41.1 243.3h0.7v0.7h-0.7zM94.7 203.3h0.7v0.7h-0.7zM60.8 241.1h0.7v0.7h-0.7zM58.6 229.5h0.7v0.7h-0.7zM30.7 253.6h0.7v0.7h-0.7zM43.4 261.3h0.7v0.7h-0.7zM91.2 203.2h0.7v0.7h-0.7zM71.2 218.9h0.7v0.7h-0.7zM95.1 199.6h0.7v0.7h-0.7zM54.7 232.5h0.7v0.7h-0.7zM85.4 207.8h0.7v0.7h-0.7zM47.3 259.3h0.7v0.7h-0.7zM54.3 232.0h0.7v0.7h-0.7zM50.0 235.6h0.7v0.7h-0.7zM95.1 199.4h0.7v0.7h-0.7zM54.2 249.4h0.7v0.7h-0.7zM29.5 254.1h0.7v0.7h-0.7zM44.0 241.6h0.7v0.7h-0.7zM97.4 198.4h0.7v0.7h-0.7zM98.5 197.6h0.7v0.7h-0.7zM40.8 242.2h0.7v0.7h-0.7zM52.2 233.8h0.7v0.7h-0.7zM41.5 245.0h0.7v0.7h-0.7zM82.4 210.3h0.7v0.7h-0.7zM50.4 227.4h0.7v0.7h-0.7zM70.7 229.7h0.7v0.7h-0.7zM89.4 202.4h0.7v0.7h-0.7zM79.8 221.4h0.7v0.7h-0.7zM41.2 263.5h0.7v0.7h-0.7zM58.4 245.4h0.7v0.7h-0.7zM41.8 244.2h0.7v0.7h-0.7zM89.2 203.6h0.7v0.7h-0.7zM52.5 251.9h0.7v0.7h-0.7zM35.7 247.3h0.7v0.7h-0.7zM50.7 235.9h0.7v0.7h-0.7zM32.1 252.8h0.7v0.7h-0.7zM55.9 232.3h0.7v0.7h-0.7zM89.8 201.4h0.7v0.7h-0.7zM48.4 238.4h0.7v0.7h-0.7zM60.3 227.4h0.7v0.7h-0.7zM47.4 258.8h0.7v0.7h-0.7zM53.3 252.7h0.7v0.7h-0.7zM73.5 217.1h0.7v0.7h-0.7zM37.6 245.9h0.7v0.7h-0.7zM84.7 207.4h0.7v0.7h-0.7zM94.7 203.6h0.7v0.7h-0.7zM63.3 225.6h0.7v0.7h-0.7zM50.5 234.6h0.7v0.7h-0.7zM78.7 213.2h0.7v0.7h-0.7zM86.5 206.3h0.7v0.7h-0.7zM78.1 214.0h0.7v0.7h-0.7zM43.8 264.6h0.7v0.7h-0.7zM48.6 237.9h0.7v0.7h-0.7zM53.1 255.0h0.7v0.7h-0.7zM54.4 233.4h0.7v0.7h-0.7zM43.7 240.0h0.7v0.7h-0.7zM72.1 218.2h0.7v0.7h-0.7zM77.9 221.1h0.7v0.7h-0.7zM35.2 251.5h0.7v0.7h-0.7zM48.9 237.4h0.7v0.7h-0.7zM48.2 239.2h0.7v0.7h-0.7zM89.4 203.4h0.7v0.7h-0.7zM83.7 207.9h0.7v0.7h-0.7zM44.5 242.9h0.7v0.7h-0.7zM92.7 201.8h0.7v0.7h-0.7zM53.5 223.7h0.7v0.7h-0.7zM86.9 204.0h0.7v0.7h-0.7zM51.1 235.2h0.7v0.7h-0.7zM50.7 237.3h0.7v0.7h-0.7zM93.9 199.4h0.7v0.7h-0.7zM31.8 253.2h0.7v0.7h-0.7zM98.3 197.4h0.7v0.7h-0.7zM59.4 228.2h0.7v0.7h-0.7zM40.9 241.1h0.7v0.7h-0.7zM59.0 230.2h0.7v0.7h-0.7zM69.5 231.2h0.7v0.7h-0.7zM58.7 229.5h0.7v0.7h-0.7zM43.5 239.1h0.7v0.7h-0.7zM94.4 200.2h0.7v0.7h-0.7zM61.3 222.5h0.7v0.7h-0.7zM60.3 228.1h0.7v0.7h-0.7zM96.6 201.2h0.7v0.7h-0.7zM64.2 226.2h0.7v0.7h-0.7zM80.6 220.6h0.7v0.7h-0.7zM92.0 200.7h0.7v0.7h-0.7zM74.1 228.3h0.7v0.7h-0.7zM52.0 234.1h0.7v0.7h-0.7zM54.3 231.7h0.7v0.7h-0.7zM46.4 241.1h0.7v0.7h-0.7zM83.8 215.0h0.7v0.7h-0.7zM65.7 225.0h0.7v0.7h-0.7zM42.3 244.1h0.7v0.7h-0.7zM86.2 206.7h0.7v0.7h-0.7zM50.1 252.4h0.7v0.7h-0.7zM50.4 252.3h0.7v0.7h-0.7zM43.9 240.2h0.7v0.7h-0.7zM83.8 206.5h0.7v0.7h-0.7zM46.4 241.4h0.7v0.7h-0.7zM46.1 258.6h0.7v0.7h-0.7zM97.5 197.9h0.7v0.7h-0.7zM98.3 198.0h0.7v0.7h-0.7zM73.0 217.5h0.7v0.7h-0.7zM47.3 238.8h0.7v0.7h-0.7zM32.0 252.5h0.7v0.7h-0.7zM69.3 231.7h0.7v0.7h-0.7zM85.4 205.3h0.7v0.7h-0.7zM32.8 252.1h0.7v0.7h-0.7zM98.3 199.2h0.7v0.7h-0.7zM48.6 258.3h0.7v0.7h-0.7zM47.5 239.8h0.7v0.7h-0.7zM85.4 206.3h0.7v0.7h-0.7zM54.6 247.5h0.7v0.7h-0.7zM33.0 253.3h0.7v0.7h-0.7zM86.4 206.5h0.7v0.7h-0.7zM77.1 214.9h0.7v0.7h-0.7zM35.3 264.9h0.7v0.7h-0.7zM71.0 218.7h0.7v0.7h-0.7zM78.2 222.9h0.7v0.7h-0.7zM58.6 228.7h0.7v0.7h-0.7zM77.3 213.8h0.7v0.7h-0.7zM39.5 245.0h0.7v0.7h-0.7zM58.0 247.1h0.7v0.7h-0.7zM51.2 233.3h0.7v0.7h-0.7zM36.0 242.4h0.7v0.7h-0.7zM45.4 236.9h0.7v0.7h-0.7zM42.0 238.9h0.7v0.7h-0.7zM92.9 200.8h0.7v0.7h-0.7zM43.3 242.8h0.7v0.7h-0.7zM36.3 249.6h0.7v0.7h-0.7zM91.1 207.9h0.7v0.7h-0.7zM67.8 218.0h0.7v0.7h-0.7zM86.7 211.9h0.7v0.7h-0.7zM42.9 242.3h0.7v0.7h-0.7zM46.3 236.8h0.7v0.7h-0.7zM49.7 253.5h0.7v0.7h-0.7zM37.4 241.8h0.7v0.7h-0.7zM97.9 198.0h0.7v0.7h-0.7zM38.9 240.4h0.7v0.7h-0.7zM60.3 242.6h0.7v0.7h-0.7zM39.8 240.7h0.7v0.7h-0.7zM97.5 198.4h0.7v0.7h-0.7zM47.4 230.6h0.7v0.7h-0.7zM57.1 225.7h0.7v0.7h-0.7zM35.6 249.8h0.7v0.7h-0.7zM73.8 225.1h0.7v0.7h-0.7zM96.2 199.3h0.7v0.7h-0.7zM81.4 208.0h0.7v0.7h-0.7zM46.6 241.2h0.7v0.7h-0.7zM50.2 230.0h0.7v0.7h-0.7zM70.4 231.3h0.7v0.7h-0.7zM29.9 255.6h0.7v0.7h-0.7zM60.8 224.8h0.7v0.7h-0.7zM44.2 241.8h0.7v0.7h-0.7zM35.1 249.1h0.7v0.7h-0.7zM46.3 235.1h0.7v0.7h-0.7zM38.4 243.5h0.7v0.7h-0.7zM37.3 242.6h0.7v0.7h-0.7zM87.1 211.7h0.7v0.7h-0.7zM41.6 245.5h0.7v0.7h-0.7zM79.8 211.8h0.7v0.7h-0.7zM36.3 246.0h0.7v0.7h-0.7zM50.4 257.6h0.7v0.7h-0.7zM74.6 214.3h0.7v0.7h-0.7zM30.4 254.1h0.7v0.7h-0.7zM84.7 214.2h0.7v0.7h-0.7zM53.3 249.2h0.7v0.7h-0.7zM50.2 252.2h0.7v0.7h-0.7zM87.9 205.5h0.7v0.7h-0.7zM35.9 244.8h0.7v0.7h-0.7zM52.7 226.4h0.7v0.7h-0.7zM59.0 229.9h0.7v0.7h-0.7zM52.7 235.3h0.7v0.7h-0.7zM74.7 224.5h0.7v0.7h-0.7zM77.2 214.1h0.7v0.7h-0.7zM85.3 208.2h0.7v0.7h-0.7zM56.6 230.3h0.7v0.7h-0.7zM75.7 226.2h0.7v0.7h-0.7zM46.8 239.9h0.7v0.7h-0.7zM77.9 214.8h0.7v0.7h-0.7zM52.0 250.9h0.7v0.7h-0.7zM83.7 209.8h0.7v0.7h-0.7zM43.7 241.9h0.7v0.7h-0.7zM55.6 229.0h0.7v0.7h-0.7zM98.1 200.5h0.7v0.7h-0.7zM72.2 230.6h0.7v0.7h-0.7zM52.1 228.6h0.7v0.7h-0.7zM73.8 217.3h0.7v0.7h-0.7zM44.4 239.5h0.7v0.7h-0.7zM97.9 196.1h0.7v0.7h-0.7zM88.1 205.0h0.7v0.7h-0.7zM77.5 213.0h0.7v0.7h-0.7zM61.2 228.5h0.7v0.7h-0.7zM67.9 217.8h0.7v0.7h-0.7zM43.0 243.1h0.7v0.7h-0.7zM52.8 249.3h0.7v0.7h-0.7zM84.2 207.3h0.7v0.7h-0.7zM39.9 246.1h0.7v0.7h-0.7zM68.9 231.2h0.7v0.7h-0.7zM74.0 227.5h0.7v0.7h-0.7zM98.0 198.1h0.7v0.7h-0.7zM55.2 247.4h0.7v0.7h-0.7zM49.7 253.1h0.7v0.7h-0.7zM52.9 234.9h0.7v0.7h-0.7zM87.5 205.0h0.7v0.7h-0.7zM97.3 198.7h0.7v0.7h-0.7zM57.5 244.9h0.7v0.7h-0.7zM43.2 242.7h0.7v0.7h-0.7zM39.1 247.3h0.7v0.7h-0.7zM41.7 243.0h0.7v0.7h-0.7zM57.4 224.1h0.7v0.7h-0.7zM97.6 196.5h0.7v0.7h-0.7zM81.9 208.0h0.7v0.7h-0.7zM85.4 207.1h0.7v0.7h-0.7zM81.1 211.0h0.7v0.7h-0.7zM96.2 198.7h0.7v0.7h-0.7zM43.3 242.8h0.7v0.7h-0.7zM58.9 242.8h0.7v0.7h-0.7zM96.4 199.2h0.7v0.7h-0.7zM46.4 237.5h0.7v0.7h-0.7zM61.4 226.7h0.7v0.7h-0.7zM38.5 265.0h0.7v0.7h-0.7zM95.7 198.3h0.7v0.7h-0.7zM75.2 213.9h0.7v0.7h-0.7zM42.4 262.8h0.7v0.7h-0.7zM47.5 263.7h0.7v0.7h-0.7zM98.1 198.1h0.7v0.7h-0.7zM77.6 213.1h0.7v0.7h-0.7zM38.8 264.8h0.7v0.7h-0.7zM90.3 202.1h0.7v0.7h-0.7zM37.7 240.2h0.7v0.7h-0.7zM54.4 249.0h0.7v0.7h-0.7zM59.4 229.2h0.7v0.7h-0.7zM58.7 226.8h0.7v0.7h-0.7zM56.4 231.6h0.7v0.7h-0.7zM83.0 215.8h0.7v0.7h-0.7zM41.7 239.1h0.7v0.7h-0.7zM86.4 207.3h0.7v0.7h-0.7zM77.2 214.9h0.7v0.7h-0.7zM40.7 244.2h0.7v0.7h-0.7zM71.2 217.5h0.7v0.7h-0.7zM37.9 245.2h0.7v0.7h-0.7zM80.9 210.7h0.7v0.7h-0.7zM60.5 246.3h0.7v0.7h-0.7zM49.4 235.7h0.7v0.7h-0.7zM79.9 208.8h0.7v0.7h-0.7zM76.6 222.8h0.7v0.7h-0.7zM63.1 237.7h0.7v0.7h-0.7zM86.9 206.6h0.7v0.7h-0.7zM62.3 238.5h0.7v0.7h-0.7zM69.9 233.9h0.7v0.7h-0.7zM48.9 236.7h0.7v0.7h-0.7zM92.7 201.1h0.7v0.7h-0.7zM83.7 209.8h0.7v0.7h-0.7zM57.2 245.1h0.7v0.7h-0.7zM45.3 264.0h0.7v0.7h-0.7zM52.4 256.8h0.7v0.7h-0.7zM98.4 198.0h0.7v0.7h-0.7zM76.7 215.4h0.7v0.7h-0.7zM41.2 245.8h0.7v0.7h-0.7zM78.3 213.7h0.7v0.7h-0.7zM32.9 252.2h0.7v0.7h-0.7zM52.0 230.2h0.7v0.7h-0.7zM90.4 210.4h0.7v0.7h-0.7zM96.8 198.9h0.7v0.7h-0.7zM39.4 248.3h0.7v0.7h-0.7zM48.4 238.9h0.7v0.7h-0.7zM44.9 241.5h0.7v0.7h-0.7zM98.2 196.2h0.7v0.7h-0.7zM59.1 230.5h0.7v0.7h-0.7zM64.4 236.5h0.7v0.7h-0.7zM98.7 196.4h0.7v0.7h-0.7zM72.4 219.0h0.7v0.7h-0.7zM77.4 214.5h0.7v0.7h-0.7zM69.8 220.8h0.7v0.7h-0.7zM59.8 227.7h0.7v0.7h-0.7zM71.8 212.9h0.7v0.7h-0.7zM45.6 258.6h0.7v0.7h-0.7zM97.9 196.2h0.7v0.7h-0.7zM45.5 237.4h0.7v0.7h-0.7zM66.9 235.5h0.7v0.7h-0.7zM95.1 202.8h0.7v0.7h-0.7zM56.2 249.2h0.7v0.7h-0.7zM52.4 249.8h0.7v0.7h-0.7zM74.7 215.5h0.7v0.7h-0.7zM69.2 231.1h0.7v0.7h-0.7zM59.3 243.6h0.7v0.7h-0.7zM38.3 249.1h0.7v0.7h-0.7zM95.3 199.8h0.7v0.7h-0.7zM66.9 220.7h0.7v0.7h-0.7zM43.7 238.6h0.7v0.7h-0.7zM97.6 196.7h0.7v0.7h-0.7zM36.2 249.7h0.7v0.7h-0.7zM91.4 202.5h0.7v0.7h-0.7zM85.4 213.5h0.7v0.7h-0.7zM48.9 237.5h0.7v0.7h-0.7zM52.0 253.1h0.7v0.7h-0.7zM55.7 231.6h0.7v0.7h-0.7zM40.7 246.3h0.7v0.7h-0.7zM73.6 215.2h0.7v0.7h-0.7zM49.5 232.2h0.7v0.7h-0.7zM96.4 199.1h0.7v0.7h-0.7zM96.6 198.1h0.7v0.7h-0.7zM70.9 220.1h0.7v0.7h-0.7zM53.5 234.9h0.7v0.7h-0.7zM85.9 207.6h0.7v0.7h-0.7zM57.9 246.8h0.7v0.7h-0.7zM47.5 235.2h0.7v0.7h-0.7zM46.9 259.8h0.7v0.7h-0.7zM96.3 199.3h0.7v0.7h-0.7zM37.1 240.9h0.7v0.7h-0.7zM59.0 243.1h0.7v0.7h-0.7zM98.4 197.6h0.7v0.7h-0.7zM58.4 231.1h0.7v0.7h-0.7zM78.6 221.9h0.7v0.7h-0.7zM50.7 232.3h0.7v0.7h-0.7zM96.5 198.6h0.7v0.7h-0.7zM69.1 231.9h0.7v0.7h-0.7zM86.1 207.1h0.7v0.7h-0.7zM49.8 236.9h0.7v0.7h-0.7zM56.8 248.0h0.7v0.7h-0.7zM41.7 242.8h0.7v0.7h-0.7zM85.5 207.7h0.7v0.7h-0.7zM96.8 198.2h0.7v0.7h-0.7zM86.9 207.0h0.7v0.7h-0.7zM58.7 221.4h0.7v0.7h-0.7zM51.2 235.8h0.7v0.7h-0.7zM59.2 229.8h0.7v0.7h-0.7zM92.2 206.9h0.7v0.7h-0.7zM55.6 232.9h0.7v0.7h-0.7zM52.7 235.3h0.7v0.7h-0.7zM42.4 263.6h0.7v0.7h-0.7zM45.0 238.7h0.7v0.7h-0.7zM54.9 249.6h0.7v0.7h-0.7zM98.5 196.8h0.7v0.7h-0.7zM36.1 248.7h0.7v0.7h-0.7zM42.5 235.8h0.7v0.7h-0.7zM76.9 214.6h0.7v0.7h-0.7zM36.7 248.9h0.7v0.7h-0.7zM89.9 203.6h0.7v0.7h-0.7zM58.9 230.5h0.7v0.7h-0.7zM42.6 261.1h0.7v0.7h-0.7zM49.2 254.0h0.7v0.7h-0.7zM63.0 241.1h0.7v0.7h-0.7zM35.2 251.2h0.7v0.7h-0.7zM56.7 230.6h0.7v0.7h-0.7zM56.7 230.2h0.7v0.7h-0.7zM37.3 246.9h0.7v0.7h-0.7zM57.1 227.1h0.7v0.7h-0.7zM39.4 246.0h0.7v0.7h-0.7zM39.2 246.8h0.7v0.7h-0.7zM36.4 250.5h0.7v0.7h-0.7zM61.5 227.5h0.7v0.7h-0.7zM41.7 239.5h0.7v0.7h-0.7zM59.2 229.2h0.7v0.7h-0.7zM46.3 240.7h0.7v0.7h-0.7zM77.3 214.1h0.7v0.7h-0.7zM80.2 211.6h0.7v0.7h-0.7zM69.4 233.1h0.7v0.7h-0.7zM51.8 236.1h0.7v0.7h-0.7zM48.5 256.5h0.7v0.7h-0.7zM73.2 218.0h0.7v0.7h-0.7zM59.3 227.1h0.7v0.7h-0.7zM58.3 226.3h0.7v0.7h-0.7zM94.9 199.7h0.7v0.7h-0.7zM74.8 212.9h0.7v0.7h-0.7zM49.5 253.0h0.7v0.7h-0.7zM79.0 212.7h0.7v0.7h-0.7zM98.7 197.6h0.7v0.7h-0.7zM97.3 198.3h0.7v0.7h-0.7zM90.7 203.0h0.7v0.7h-0.7zM44.2 243.2h0.7v0.7h-0.7zM42.6 244.5h0.7v0.7h-0.7zM86.4 213.0h0.7v0.7h-0.7zM72.2 214.5h0.7v0.7h-0.7zM33.8 252.7h0.7v0.7h-0.7zM63.3 240.7h0.7v0.7h-0.7zM58.6 243.1h0.7v0.7h-0.7zM52.1 256.1h0.7v0.7h-0.7zM57.2 244.3h0.7v0.7h-0.7zM37.0 249.8h0.7v0.7h-0.7zM40.1 247.6h0.7v0.7h-0.7zM93.9 200.0h0.7v0.7h-0.7zM40.4 238.7h0.7v0.7h-0.7zM92.2 206.1h0.7v0.7h-0.7zM42.7 243.4h0.7v0.7h-0.7zM40.7 240.4h0.7v0.7h-0.7zM39.6 242.5h0.7v0.7h-0.7zM73.0 217.7h0.7v0.7h-0.7zM85.1 203.9h0.7v0.7h-0.7zM95.5 199.3h0.7v0.7h-0.7zM38.1 247.3h0.7v0.7h-0.7zM80.9 207.8h0.7v0.7h-0.7zM39.9 244.2h0.7v0.7h-0.7zM47.3 235.8h0.7v0.7h-0.7zM36.7 242.9h0.7v0.7h-0.7zM55.6 246.6h0.7v0.7h-0.7zM84.5 208.6h0.7v0.7h-0.7zM33.6 245.5h0.7v0.7h-0.7zM75.6 216.3h0.7v0.7h-0.7zM56.4 228.8h0.7v0.7h-0.7zM83.3 215.4h0.7v0.7h-0.7zM50.7 236.5h0.7v0.7h-0.7zM57.1 229.9h0.7v0.7h-0.7zM63.5 224.9h0.7v0.7h-0.7zM93.7 199.5h0.7v0.7h-0.7zM45.2 237.7h0.7v0.7h-0.7zM30.4 252.1h0.7v0.7h-0.7zM82.2 216.8h0.7v0.7h-0.7zM32.4 249.6h0.7v0.7h-0.7zM77.9 224.1h0.7v0.7h-0.7zM81.1 212.0h0.7v0.7h-0.7zM64.4 223.9h0.7v0.7h-0.7zM96.8 197.7h0.7v0.7h-0.7zM83.6 209.6h0.7v0.7h-0.7zM66.3 235.6h0.7v0.7h-0.7zM71.5 220.2h0.7v0.7h-0.7zM73.6 227.1h0.7v0.7h-0.7zM45.5 238.1h0.7v0.7h-0.7zM74.2 225.6h0.7v0.7h-0.7zM79.0 213.0h0.7v0.7h-0.7zM81.9 208.7h0.7v0.7h-0.7zM47.9 255.9h0.7v0.7h-0.7zM51.0 234.4h0.7v0.7h-0.7zM43.4 237.7h0.7v0.7h-0.7zM51.3 252.9h0.7v0.7h-0.7zM69.2 220.4h0.7v0.7h-0.7zM92.1 201.5h0.7v0.7h-0.7zM41.9 240.2h0.7v0.7h-0.7zM54.9 232.6h0.7v0.7h-0.7zM39.9 243.7h0.7v0.7h-0.7zM86.3 204.3h0.7v0.7h-0.7zM54.3 234.0h0.7v0.7h-0.7zM54.3 233.5h0.7v0.7h-0.7zM90.1 204.0h0.7v0.7h-0.7zM57.7 243.8h0.7v0.7h-0.7zM35.4 246.6h0.7v0.7h-0.7zM80.9 220.7h0.7v0.7h-0.7zM48.3 233.9h0.7v0.7h-0.7zM58.9 230.0h0.7v0.7h-0.7zM59.3 242.7h0.7v0.7h-0.7zM80.4 210.9h0.7v0.7h-0.7zM68.3 232.0h0.7v0.7h-0.7zM42.2 244.4h0.7v0.7h-0.7zM53.9 235.0h0.7v0.7h-0.7zM62.1 238.6h0.7v0.7h-0.7zM84.7 214.2h0.7v0.7h-0.7zM51.2 226.2h0.7v0.7h-0.7zM65.2 237.3h0.7v0.7h-0.7zM54.3 247.7h0.7v0.7h-0.7zM45.4 236.8h0.7v0.7h-0.7zM64.4 237.0h0.7v0.7h-0.7zM50.0 252.8h0.7v0.7h-0.7zM60.8 226.1h0.7v0.7h-0.7zM38.5 245.7h0.7v0.7h-0.7zM89.9 208.7h0.7v0.7h-0.7zM97.5 197.1h0.7v0.7h-0.7zM98.7 196.3h0.7v0.7h-0.7zM90.9 203.2h0.7v0.7h-0.7zM59.4 229.0h0.7v0.7h-0.7zM72.8 217.1h0.7v0.7h-0.7zM54.7 232.8h0.7v0.7h-0.7zM76.9 222.8h0.7v0.7h-0.7zM37.1 250.1h0.7v0.7h-0.7zM44.2 238.8h0.7v0.7h-0.7zM38.2 249.0h0.7v0.7h-0.7zM65.7 237.3h0.7v0.7h-0.7zM59.4 246.0h0.7v0.7h-0.7zM66.3 224.5h0.7v0.7h-0.7zM72.3 216.7h0.7v0.7h-0.7zM49.0 235.1h0.7v0.7h-0.7zM76.9 214.5h0.7v0.7h-0.7zM33.0 252.3h0.7v0.7h-0.7zM45.7 236.6h0.7v0.7h-0.7zM56.5 232.7h0.7v0.7h-0.7zM45.0 242.4h0.7v0.7h-0.7zM59.7 227.9h0.7v0.7h-0.7zM52.5 234.3h0.7v0.7h-0.7zM62.7 240.3h0.7v0.7h-0.7zM58.2 230.4h0.7v0.7h-0.7zM52.4 235.9h0.7v0.7h-0.7zM87.5 205.8h0.7v0.7h-0.7zM37.0 249.6h0.7v0.7h-0.7zM51.7 252.6h0.7v0.7h-0.7zM29.8 252.9h0.7v0.7h-0.7zM50.6 232.0h0.7v0.7h-0.7zM47.7 236.5h0.7v0.7h-0.7zM90.0 202.4h0.7v0.7h-0.7zM96.1 201.6h0.7v0.7h-0.7zM49.8 238.1h0.7v0.7h-0.7zM72.9 218.6h0.7v0.7h-0.7zM47.4 234.9h0.7v0.7h-0.7zM71.1 231.1h0.7v0.7h-0.7zM41.5 246.0h0.7v0.7h-0.7zM50.6 228.2h0.7v0.7h-0.7zM58.7 243.4h0.7v0.7h-0.7zM60.3 228.7h0.7v0.7h-0.7zM51.4 227.7h0.7v0.7h-0.7zM81.6 210.6h0.7v0.7h-0.7zM72.3 227.4h0.7v0.7h-0.7zM86.3 212.4h0.7v0.7h-0.7zM40.2 246.5h0.7v0.7h-0.7zM34.5 247.8h0.7v0.7h-0.7zM48.3 236.4h0.7v0.7h-0.7zM61.7 226.1h0.7v0.7h-0.7zM96.1 199.1h0.7v0.7h-0.7zM55.7 246.8h0.7v0.7h-0.7zM46.6 257.5h0.7v0.7h-0.7zM39.3 245.3h0.7v0.7h-0.7zM71.8 218.6h0.7v0.7h-0.7zM82.2 209.8h0.7v0.7h-0.7zM41.5 262.8h0.7v0.7h-0.7zM46.1 232.2h0.7v0.7h-0.7zM50.3 252.7h0.7v0.7h-0.7zM96.1 198.8h0.7v0.7h-0.7zM59.6 230.2h0.7v0.7h-0.7zM54.4 252.9h0.7v0.7h-0.7zM40.2 244.9h0.7v0.7h-0.7zM98.1 197.5h0.7v0.7h-0.7zM94.3 200.4h0.7v0.7h-0.7zM65.0 223.8h0.7v0.7h-0.7zM71.7 214.8h0.7v0.7h-0.7zM76.8 213.1h0.7v0.7h-0.7zM93.4 199.3h0.7v0.7h-0.7zM58.7 228.2h0.7v0.7h-0.7zM55.7 246.1h0.7v0.7h-0.7zM89.7 204.0h0.7v0.7h-0.7zM96.9 197.7h0.7v0.7h-0.7zM76.9 214.8h0.7v0.7h-0.7zM70.3 235.2h0.7v0.7h-0.7zM85.6 213.4h0.7v0.7h-0.7zM46.8 229.6h0.7v0.7h-0.7zM66.0 235.0h0.7v0.7h-0.7zM43.6 263.5h0.7v0.7h-0.7zM77.3 213.2h0.7v0.7h-0.7zM58.0 230.9h0.7v0.7h-0.7zM59.6 224.8h0.7v0.7h-0.7zM75.7 225.2h0.7v0.7h-0.7zM59.2 229.1h0.7v0.7h-0.7zM67.6 237.4h0.7v0.7h-0.7zM64.8 240.5h0.7v0.7h-0.7zM78.0 221.0h0.7v0.7h-0.7zM56.5 232.7h0.7v0.7h-0.7zM69.7 221.2h0.7v0.7h-0.7zM37.6 246.7h0.7v0.7h-0.7zM65.3 224.2h0.7v0.7h-0.7zM50.2 254.5h0.7v0.7h-0.7zM69.9 221.3h0.7v0.7h-0.7zM50.9 236.8h0.7v0.7h-0.7zM76.6 222.4h0.7v0.7h-0.7zM92.0 202.0h0.7v0.7h-0.7zM49.0 234.2h0.7v0.7h-0.7zM37.4 243.7h0.7v0.7h-0.7zM55.5 232.3h0.7v0.7h-0.7zM44.8 238.2h0.7v0.7h-0.7zM52.2 229.2h0.7v0.7h-0.7zM58.9 243.5h0.7v0.7h-0.7zM91.0 202.4h0.7v0.7h-0.7zM36.5 249.4h0.7v0.7h-0.7zM58.6 230.0h0.7v0.7h-0.7zM58.7 226.0h0.7v0.7h-0.7zM82.9 209.7h0.7v0.7h-0.7zM50.7 252.6h0.7v0.7h-0.7zM80.8 210.9h0.7v0.7h-0.7zM80.6 212.2h0.7v0.7h-0.7zM60.1 225.0h0.7v0.7h-0.7zM73.5 216.9h0.7v0.7h-0.7zM59.0 227.2h0.7v0.7h-0.7zM52.1 259.1h0.7v0.7h-0.7zM46.4 239.6h0.7v0.7h-0.7zM33.8 264.9h0.7v0.7h-0.7zM95.3 199.0h0.7v0.7h-0.7zM69.0 233.3h0.7v0.7h-0.7zM43.6 243.8h0.7v0.7h-0.7zM56.4 246.8h0.7v0.7h-0.7zM48.1 238.1h0.7v0.7h-0.7zM80.7 211.8h0.7v0.7h-0.7zM96.6 198.7h0.7v0.7h-0.7zM51.9 235.8h0.7v0.7h-0.7zM59.5 217.3h0.7v0.7h-0.7zM79.2 212.8h0.7v0.7h-0.7zM60.7 225.8h0.7v0.7h-0.7zM30.2 254.1h0.7v0.7h-0.7zM89.5 204.7h0.7v0.7h-0.7zM84.5 209.1h0.7v0.7h-0.7zM88.4 202.0h0.7v0.7h-0.7zM68.5 220.4h0.7v0.7h-0.7zM80.5 221.3h0.7v0.7h-0.7zM63.5 224.9h0.7v0.7h-0.7zM40.3 244.1h0.7v0.7h-0.7zM65.8 223.3h0.7v0.7h-0.7zM60.4 225.0h0.7v0.7h-0.7zM90.1 203.5h0.7v0.7h-0.7zM89.2 204.1h0.7v0.7h-0.7zM43.9 237.8h0.7v0.7h-0.7zM93.4 204.8h0.7v0.7h-0.7zM69.4 221.8h0.7v0.7h-0.7zM60.7 228.7h0.7v0.7h-0.7zM49.3 259.8h0.7v0.7h-0.7zM48.1 254.1h0.7v0.7h-0.7zM83.1 209.9h0.7v0.7h-0.7zM62.3 227.4h0.7v0.7h-0.7zM69.5 235.2h0.7v0.7h-0.7zM98.2 198.1h0.7v0.7h-0.7zM79.2 220.7h0.7v0.7h-0.7zM37.3 249.0h0.7v0.7h-0.7zM57.1 231.7h0.7v0.7h-0.7zM49.9 257.7h0.7v0.7h-0.7zM36.3 250.2h0.7v0.7h-0.7zM56.2 248.6h0.7v0.7h-0.7zM66.6 234.5h0.7v0.7h-0.7zM45.1 234.7h0.7v0.7h-0.7zM51.3 237.1h0.7v0.7h-0.7zM49.9 253.3h0.7v0.7h-0.7zM77.9 221.6h0.7v0.7h-0.7zM46.5 256.2h0.7v0.7h-0.7zM82.6 208.6h0.7v0.7h-0.7zM51.8 232.1h0.7v0.7h-0.7zM45.9 239.6h0.7v0.7h-0.7zM49.2 238.1h0.7v0.7h-0.7zM92.4 201.7h0.7v0.7h-0.7zM53.2 248.7h0.7v0.7h-0.7zM53.6 248.5h0.7v0.7h-0.7zM81.2 219.1h0.7v0.7h-0.7zM93.1 200.5h0.7v0.7h-0.7zM52.3 234.8h0.7v0.7h-0.7zM56.3 246.6h0.7v0.7h-0.7zM40.6 242.4h0.7v0.7h-0.7zM36.2 264.8h0.7v0.7h-0.7zM55.2 229.7h0.7v0.7h-0.7zM38.3 248.1h0.7v0.7h-0.7zM48.7 258.8h0.7v0.7h-0.7zM43.8 243.2h0.7v0.7h-0.7zM97.7 197.6h0.7v0.7h-0.7zM69.2 216.6h0.7v0.7h-0.7zM93.5 204.8h0.7v0.7h-0.7zM83.3 215.8h0.7v0.7h-0.7zM56.2 232.3h0.7v0.7h-0.7zM51.5 234.6h0.7v0.7h-0.7zM49.2 238.4h0.7v0.7h-0.7zM38.4 243.9h0.7v0.7h-0.7zM75.3 215.9h0.7v0.7h-0.7zM77.6 221.4h0.7v0.7h-0.7zM62.4 239.2h0.7v0.7h-0.7zM71.9 228.3h0.7v0.7h-0.7zM47.5 239.9h0.7v0.7h-0.7zM77.8 211.8h0.7v0.7h-0.7zM53.2 228.2h0.7v0.7h-0.7zM73.5 225.5h0.7v0.7h-0.7zM37.0 264.7h0.7v0.7h-0.7zM80.5 219.4h0.7v0.7h-0.7zM38.4 246.3h0.7v0.7h-0.7zM60.9 242.5h0.7v0.7h-0.7zM85.7 206.6h0.7v0.7h-0.7zM53.5 249.8h0.7v0.7h-0.7zM44.0 243.2h0.7v0.7h-0.7zM48.3 236.8h0.7v0.7h-0.7zM44.9 261.3h0.7v0.7h-0.7zM86.7 212.5h0.7v0.7h-0.7zM63.6 218.4h0.7v0.7h-0.7zM64.4 225.8h0.7v0.7h-0.7zM64.5 225.9h0.7v0.7h-0.7zM63.2 224.5h0.7v0.7h-0.7zM73.2 227.0h0.7v0.7h-0.7zM80.6 211.6h0.7v0.7h-0.7zM48.2 236.2h0.7v0.7h-0.7zM53.8 248.2h0.7v0.7h-0.7zM39.1 239.2h0.7v0.7h-0.7zM63.9 236.9h0.7v0.7h-0.7zM69.3 220.7h0.7v0.7h-0.7zM55.6 229.1h0.7v0.7h-0.7zM77.4 224.6h0.7v0.7h-0.7zM49.9 236.7h0.7v0.7h-0.7zM98.5 197.5h0.7v0.7h-0.7zM67.9 232.1h0.7v0.7h-0.7zM86.3 207.4h0.7v0.7h-0.7zM48.4 222.2h0.7v0.7h-0.7zM53.4 252.7h0.7v0.7h-0.7zM61.0 240.3h0.7v0.7h-0.7zM50.4 256.9h0.7v0.7h-0.7zM38.6 248.2h0.7v0.7h-0.7zM55.7 231.3h0.7v0.7h-0.7zM97.1 198.9h0.7v0.7h-0.7zM53.6 248.7h0.7v0.7h-0.7zM51.4 229.1h0.7v0.7h-0.7zM42.7 243.9h0.7v0.7h-0.7zM36.0 249.1h0.7v0.7h-0.7zM66.6 221.3h0.7v0.7h-0.7zM75.0 215.4h0.7v0.7h-0.7zM76.8 225.2h0.7v0.7h-0.7zM58.9 230.8h0.7v0.7h-0.7zM93.4 199.8h0.7v0.7h-0.7zM35.0 251.3h0.7v0.7h-0.7zM51.2 234.4h0.7v0.7h-0.7zM87.9 211.3h0.7v0.7h-0.7zM36.5 250.6h0.7v0.7h-0.7zM54.4 230.0h0.7v0.7h-0.7zM87.1 206.6h0.7v0.7h-0.7zM54.4 224.7h0.7v0.7h-0.7zM77.2 222.2h0.7v0.7h-0.7zM53.5 248.4h0.7v0.7h-0.7zM97.9 197.1h0.7v0.7h-0.7zM47.6 260.1h0.7v0.7h-0.7zM91.7 201.6h0.7v0.7h-0.7zM52.6 229.9h0.7v0.7h-0.7zM32.4 253.6h0.7v0.7h-0.7zM52.3 231.8h0.7v0.7h-0.7zM45.0 241.8h0.7v0.7h-0.7zM82.0 209.9h0.7v0.7h-0.7zM67.1 234.4h0.7v0.7h-0.7zM66.2 217.6h0.7v0.7h-0.7zM85.7 213.5h0.7v0.7h-0.7zM35.2 250.8h0.7v0.7h-0.7zM95.9 198.8h0.7v0.7h-0.7zM34.2 252.0h0.7v0.7h-0.7zM46.0 260.0h0.7v0.7h-0.7zM72.5 217.7h0.7v0.7h-0.7zM50.6 234.8h0.7v0.7h-0.7zM49.7 228.5h0.7v0.7h-0.7zM53.6 231.8h0.7v0.7h-0.7zM69.2 221.9h0.7v0.7h-0.7zM42.2 262.9h0.7v0.7h-0.7zM71.2 219.1h0.7v0.7h-0.7zM65.6 216.2h0.7v0.7h-0.7zM88.0 205.5h0.7v0.7h-0.7zM50.0 255.4h0.7v0.7h-0.7zM52.4 235.2h0.7v0.7h-0.7zM71.3 228.7h0.7v0.7h-0.7zM38.7 239.3h0.7v0.7h-0.7zM75.3 224.4h0.7v0.7h-0.7zM72.2 229.9h0.7v0.7h-0.7zM93.4 200.2h0.7v0.7h-0.7zM29.6 254.5h0.7v0.7h-0.7zM44.6 240.7h0.7v0.7h-0.7zM98.2 199.3h0.7v0.7h-0.7zM55.9 248.8h0.7v0.7h-0.7zM57.7 228.7h0.7v0.7h-0.7zM62.9 237.8h0.7v0.7h-0.7zM55.0 247.6h0.7v0.7h-0.7zM52.0 236.2h0.7v0.7h-0.7zM69.6 232.5h0.7v0.7h-0.7zM43.9 259.9h0.7v0.7h-0.7zM84.0 208.5h0.7v0.7h-0.7zM86.9 205.7h0.7v0.7h-0.7zM37.3 247.1h0.7v0.7h-0.7zM46.1 241.3h0.7v0.7h-0.7zM47.7 237.7h0.7v0.7h-0.7zM61.5 241.5h0.7v0.7h-0.7zM83.2 215.7h0.7v0.7h-0.7zM33.1 242.9h0.7v0.7h-0.7zM88.6 204.1h0.7v0.7h-0.7zM98.2 196.2h0.7v0.7h-0.7zM51.8 234.3h0.7v0.7h-0.7zM97.9 198.3h0.7v0.7h-0.7zM44.9 239.3h0.7v0.7h-0.7zM98.6 196.3h0.7v0.7h-0.7zM40.1 246.7h0.7v0.7h-0.7zM81.3 219.0h0.7v0.7h-0.7zM45.9 239.6h0.7v0.7h-0.7zM96.4 198.8h0.7v0.7h-0.7zM54.9 232.9h0.7v0.7h-0.7zM96.1 201.8h0.7v0.7h-0.7zM76.8 215.2h0.7v0.7h-0.7zM92.6 200.9h0.7v0.7h-0.7zM40.8 243.8h0.7v0.7h-0.7zM78.8 211.6h0.7v0.7h-0.7zM59.3 229.0h0.7v0.7h-0.7zM80.1 220.5h0.7v0.7h-0.7zM40.2 245.4h0.7v0.7h-0.7zM96.2 199.2h0.7v0.7h-0.7zM42.7 241.8h0.7v0.7h-0.7zM87.2 203.5h0.7v0.7h-0.7zM65.9 222.6h0.7v0.7h-0.7zM33.9 247.0h0.7v0.7h-0.7zM85.0 207.5h0.7v0.7h-0.7zM76.8 213.9h0.7v0.7h-0.7zM52.7 249.5h0.7v0.7h-0.7zM88.3 205.0h0.7v0.7h-0.7zM45.1 241.0h0.7v0.7h-0.7zM33.1 265.0h0.7v0.7h-0.7zM56.3 232.3h0.7v0.7h-0.7zM58.6 230.5h0.7v0.7h-0.7zM36.5 245.6h0.7v0.7h-0.7zM31.8 265.0h0.7v0.7h-0.7zM41.4 263.0h0.7v0.7h-0.7zM77.7 214.7h0.7v0.7h-0.7zM71.4 219.8h0.7v0.7h-0.7zM36.5 247.3h0.7v0.7h-0.7zM90.7 208.9h0.7v0.7h-0.7zM60.0 242.8h0.7v0.7h-0.7zM34.6 249.5h0.7v0.7h-0.7zM67.6 222.1h0.7v0.7h-0.7zM47.1 234.1h0.7v0.7h-0.7zM69.3 221.9h0.7v0.7h-0.7zM57.6 230.0h0.7v0.7h-0.7zM53.1 231.3h0.7v0.7h-0.7zM69.9 220.0h0.7v0.7h-0.7zM63.0 226.5h0.7v0.7h-0.7zM41.4 246.1h0.7v0.7h-0.7zM49.5 233.2h0.7v0.7h-0.7zM84.3 208.3h0.7v0.7h-0.7zM91.2 208.5h0.7v0.7h-0.7zM70.3 221.1h0.7v0.7h-0.7zM48.4 235.1h0.7v0.7h-0.7zM40.6 245.1h0.7v0.7h-0.7zM77.5 222.2h0.7v0.7h-0.7zM80.8 211.5h0.7v0.7h-0.7zM73.7 226.2h0.7v0.7h-0.7zM93.9 198.7h0.7v0.7h-0.7zM55.4 246.5h0.7v0.7h-0.7zM91.3 200.8h0.7v0.7h-0.7zM66.3 222.3h0.7v0.7h-0.7zM50.5 235.1h0.7v0.7h-0.7zM93.4 200.4h0.7v0.7h-0.7zM66.5 233.8h0.7v0.7h-0.7zM90.1 203.8h0.7v0.7h-0.7zM57.0 224.7h0.7v0.7h-0.7zM87.6 211.1h0.7v0.7h-0.7zM33.6 264.9h0.7v0.7h-0.7zM98.3 198.1h0.7v0.7h-0.7zM54.5 255.5h0.7v0.7h-0.7zM56.7 232.1h0.7v0.7h-0.7zM63.7 224.5h0.7v0.7h-0.7zM41.0 244.2h0.7v0.7h-0.7zM76.0 223.6h0.7v0.7h-0.7zM37.4 249.3h0.7v0.7h-0.7zM40.5 264.1h0.7v0.7h-0.7zM65.8 224.2h0.7v0.7h-0.7zM73.3 218.1h0.7v0.7h-0.7zM78.5 214.3h0.7v0.7h-0.7zM49.6 254.6h0.7v0.7h-0.7zM70.8 230.5h0.7v0.7h-0.7zM39.8 264.7h0.7v0.7h-0.7zM47.1 256.9h0.7v0.7h-0.7zM40.4 245.1h0.7v0.7h-0.7zM83.3 209.9h0.7v0.7h-0.7zM98.6 198.0h0.7v0.7h-0.7zM59.4 229.5h0.7v0.7h-0.7zM35.5 251.0h0.7v0.7h-0.7zM88.5 205.3h0.7v0.7h-0.7zM66.9 233.7h0.7v0.7h-0.7zM64.4 225.6h0.7v0.7h-0.7zM51.8 236.2h0.7v0.7h-0.7zM82.6 216.2h0.7v0.7h-0.7zM56.2 235.1h0.7v0.7h-0.7zM103.7 209.7h0.7v0.7h-0.7zM35.2 256.3h0.7v0.7h-0.7zM93.6 191.7h0.7v0.7h-0.7zM60.7 252.3h0.7v0.7h-0.7zM61.8 227.5h0.7v0.7h-0.7zM36.3 259.2h0.7v0.7h-0.7zM32.5 253.7h0.7v0.7h-0.7zM88.9 202.0h0.7v0.7h-0.7zM58.3 224.2h0.7v0.7h-0.7zM77.5 213.5h0.7v0.7h-0.7zM73.6 218.4h0.7v0.7h-0.7zM99.7 194.5h0.7v0.7h-0.7zM90.9 208.8h0.7v0.7h-0.7zM101.5 202.7h0.7v0.7h-0.7zM104.4 196.2h0.7v0.7h-0.7zM57.8 233.8h0.7v0.7h-0.7zM83.3 202.1h0.7v0.7h-0.7zM42.3 253.4h0.7v0.7h-0.7zM57.3 251.7h0.7v0.7h-0.7zM39.8 239.8h0.7v0.7h-0.7zM49.4 251.1h0.7v0.7h-0.7zM72.3 230.8h0.7v0.7h-0.7zM81.3 232.8h0.7v0.7h-0.7zM103.2 187.3h0.7v0.7h-0.7zM55.2 242.5h0.7v0.7h-0.7zM38.5 263.1h0.7v0.7h-0.7zM82.1 205.8h0.7v0.7h-0.7zM89.6 205.9h0.7v0.7h-0.7zM99.6 213.1h0.7v0.7h-0.7zM93.6 217.6h0.7v0.7h-0.7zM69.2 234.6h0.7v0.7h-0.7zM46.1 231.1h0.7v0.7h-0.7zM49.3 237.9h0.7v0.7h-0.7zM57.6 223.5h0.7v0.7h-0.7zM81.2 223.5h0.7v0.7h-0.7zM102.1 189.4h0.7v0.7h-0.7zM50.9 257.9h0.7v0.7h-0.7zM89.7 197.9h0.7v0.7h-0.7zM99.5 180.6h0.7v0.7h-0.7zM46.4 250.2h0.7v0.7h-0.7zM90.3 191.2h0.7v0.7h-0.7zM72.2 229.6h0.7v0.7h-0.7zM38.5 245.2h0.7v0.7h-0.7zM46.7 253.6h0.7v0.7h-0.7zM73.5 225.5h0.7v0.7h-0.7zM93.8 218.6h0.7v0.7h-0.7zM90.1 206.6h0.7v0.7h-0.7zM80.9 204.2h0.7v0.7h-0.7zM81.3 217.1h0.7v0.7h-0.7zM102.7 195.5h0.7v0.7h-0.7zM54.8 228.3h0.7v0.7h-0.7zM69.5 226.6h0.7v0.7h-0.7zM32.4 249.0h0.7v0.7h-0.7zM103.3 182.3h0.7v0.7h-0.7zM58.2 236.9h0.7v0.7h-0.7zM76.3 208.4h0.7v0.7h-0.7zM78.8 216.7h0.7v0.7h-0.7zM41.7 255.2h0.7v0.7h-0.7zM71.3 211.9h0.7v0.7h-0.7zM101.2 188.1h0.7v0.7h-0.7zM61.6 226.7h0.7v0.7h-0.7zM75.3 211.0h0.7v0.7h-0.7zM72.6 231.9h0.7v0.7h-0.7zM89.6 202.3h0.7v0.7h-0.7zM54.8 240.0h0.7v0.7h-0.7zM54.8 253.2h0.7v0.7h-0.7zM73.1 210.8h0.7v0.7h-0.7zM82.1 216.3h0.7v0.7h-0.7zM57.3 239.0h0.7v0.7h-0.7zM90.5 217.5h0.7v0.7h-0.7zM93.4 199.8h0.7v0.7h-0.7zM103.3 193.7h0.7v0.7h-0.7zM43.4 244.6h0.7v0.7h-0.7zM98.5 196.2h0.7v0.7h-0.7zM52.4 236.5h0.7v0.7h-0.7zM96.2 192.2h0.7v0.7h-0.7zM45.2 246.4h0.7v0.7h-0.7zM104.1 207.1h0.7v0.7h-0.7zM99.5 193.9h0.7v0.7h-0.7zM43.5 248.5h0.7v0.7h-0.7zM44.7 236.2h0.7v0.7h-0.7zM63.0 237.5h0.7v0.7h-0.7zM100.5 190.5h0.7v0.7h-0.7zM57.4 239.2h0.7v0.7h-0.7zM74.4 224.0h0.7v0.7h-0.7zM88.9 207.6h0.7v0.7h-0.7zM47.0 255.7h0.7v0.7h-0.7zM92.4 205.4h0.7v0.7h-0.7zM96.5 204.7h0.7v0.7h-0.7zM87.0 209.4h0.7v0.7h-0.7zM92.3 202.0h0.7v0.7h-0.7zM67.1 233.8h0.7v0.7h-0.7zM81.9 235.3h0.7v0.7h-0.7zM67.3 241.3h0.7v0.7h-0.7zM57.3 230.8h0.7v0.7h-0.7zM72.5 217.7h0.7v0.7h-0.7zM79.9 192.9h0.7v0.7h-0.7zM40.3 260.9h0.7v0.7h-0.7zM36.1 256.8h0.7v0.7h-0.7zM58.5 230.1h0.7v0.7h-0.7zM36.1 259.2h0.7v0.7h-0.7zM67.2 218.4h0.7v0.7h-0.7zM41.6 252.6h0.7v0.7h-0.7zM82.5 221.7h0.7v0.7h-0.7zM104.7 195.1h0.7v0.7h-0.7zM85.2 196.4h0.7v0.7h-0.7zM52.1 242.3h0.7v0.7h-0.7zM116.6 175.5h0.7v0.7h-0.7zM120.2 172.0h0.7v0.7h-0.7zM105.0 182.6h0.7v0.7h-0.7zM107.7 184.3h0.7v0.7h-0.7zM122.9 172.9h0.7v0.7h-0.7zM102.3 191.3h0.7v0.7h-0.7zM98.8 189.6h0.7v0.7h-0.7zM110.4 186.1h0.7v0.7h-0.7z" fill="#2a2aff" opacity="0.8"/>
<text x="133.60" y="165.80" font-size="11.2" text-anchor="start" font-weight="bold" fill="#222">D</text>
<line x1="151.50" y1="171.80" x2="151.50" y2="264.60" stroke="#555" stroke-width="1.0"/>
<line x1="151.50" y1="264.50" x2="364.20" y2="264.50" stroke="#555" stroke-width="1.0"/>
<line x1="149.40" y1="264.60" x2="151.60" y2="264.60" stroke="#2a2a2a" stroke-width="0.8"/>
<text x="149.20" y="266.68" font-size="5.8" text-anchor="end" font-weight="bold" fill="#222">0.0</text>
<line x1="149.40" y1="233.75" x2="151.60" y2="233.75" stroke="#2a2a2a" stroke-width="0.8"/>
<text x="149.20" y="235.83" font-size="5.8" text-anchor="end" font-weight="bold" fill="#222">0.5</text>
<line x1="149.40" y1="202.90" x2="151.60" y2="202.90" stroke="#2a2a2a" stroke-width="0.8"/>
<text x="149.20" y="204.98" font-size="5.8" text-anchor="end" font-weight="bold" fill="#222">1.0</text>
<line x1="149.40" y1="172.05" x2="151.60" y2="172.05" stroke="#2a2a2a" stroke-width="0.8"/>
<text x="149.20" y="174.13" font-size="5.8" text-anchor="end" font-weight="bold" fill="#222">1.5</text>
<text transform="translate(138.2 219.5) rotate(-90)" font-size="5.6" font-weight="bold" fill="#222" text-anchor="middle">Relative mRNA expression</text>
<rect x="155.40" y="175.80" width="7.80" height="3.20" fill="#8fc6e4"/>
<text transform="translate(167.6 179.69) scale(0.92 1)" font-size="6.4" font-weight="bold" fill="#222">TAMEM<tspan font-size="3.8" dy="-2.6">C-m</tspan></text>
<rect x="197.40" y="175.80" width="8.60" height="3.20" fill="#217ba4"/>
<text transform="translate(208.40 179.69) scale(0.95 1)" font-size="6.4" text-anchor="start" font-weight="bold" fill="#222">TAMEM</text>
<rect x="155.30" y="207.50" width="4.70" height="57.10" fill="#8fc6e4"/>
<line x1="157.65" y1="205.50" x2="157.65" y2="207.50" stroke="#8fc6e4" stroke-width="0.7"/>
<line x1="156.35" y1="205.50" x2="158.95" y2="205.50" stroke="#8fc6e4" stroke-width="0.7"/>
<rect x="162.30" y="202.00" width="4.70" height="62.60" fill="#217ba4"/>
<line x1="164.65" y1="200.00" x2="164.65" y2="202.00" stroke="#217ba4" stroke-width="0.7"/>
<line x1="163.35" y1="200.00" x2="165.95" y2="200.00" stroke="#217ba4" stroke-width="0.7"/>
<line x1="161.20" y1="264.60" x2="161.20" y2="266.60" stroke="#2a2a2a" stroke-width="0.8"/>
<text transform="translate(163.70 270.10) rotate(-45)" font-size="5.6" font-weight="bold" font-style="italic" fill="#222" text-anchor="end">Il12</text>
<line x1="157.00" y1="197.00" x2="165.40" y2="197.00" stroke="#333" stroke-width="0.5"/>
<line x1="157.00" y1="197.00" x2="157.00" y2="197.90" stroke="#333" stroke-width="0.5"/>
<line x1="165.40" y1="197.00" x2="165.40" y2="197.90" stroke="#333" stroke-width="0.5"/>
<text x="161.20" y="196.20" font-size="7.2" text-anchor="middle" font-weight="normal" fill="#111">ns</text>
<rect x="174.60" y="199.20" width="4.70" height="65.40" fill="#8fc6e4"/>
<line x1="176.95" y1="197.20" x2="176.95" y2="199.20" stroke="#8fc6e4" stroke-width="0.7"/>
<line x1="175.65" y1="197.20" x2="178.25" y2="197.20" stroke="#8fc6e4" stroke-width="0.7"/>
<rect x="181.60" y="200.80" width="4.70" height="63.80" fill="#217ba4"/>
<line x1="183.95" y1="198.80" x2="183.95" y2="200.80" stroke="#217ba4" stroke-width="0.7"/>
<line x1="182.65" y1="198.80" x2="185.25" y2="198.80" stroke="#217ba4" stroke-width="0.7"/>
<line x1="180.50" y1="264.60" x2="180.50" y2="266.60" stroke="#2a2a2a" stroke-width="0.8"/>
<text transform="translate(183.00 270.10) rotate(-45)" font-size="5.6" font-weight="bold" font-style="italic" fill="#222" text-anchor="end">Tnfa</text>
<line x1="176.30" y1="195.10" x2="184.70" y2="195.10" stroke="#333" stroke-width="0.5"/>
<line x1="176.30" y1="195.10" x2="176.30" y2="196.00" stroke="#333" stroke-width="0.5"/>
<line x1="184.70" y1="195.10" x2="184.70" y2="196.00" stroke="#333" stroke-width="0.5"/>
<text x="180.50" y="194.30" font-size="7.2" text-anchor="middle" font-weight="normal" fill="#111">ns</text>
<rect x="193.90" y="200.80" width="4.70" height="63.80" fill="#8fc6e4"/>
<line x1="196.25" y1="198.80" x2="196.25" y2="200.80" stroke="#8fc6e4" stroke-width="0.7"/>
<line x1="194.95" y1="198.80" x2="197.55" y2="198.80" stroke="#8fc6e4" stroke-width="0.7"/>
<rect x="200.90" y="200.30" width="4.70" height="64.30" fill="#217ba4"/>
<line x1="203.25" y1="198.30" x2="203.25" y2="200.30" stroke="#217ba4" stroke-width="0.7"/>
<line x1="201.95" y1="198.30" x2="204.55" y2="198.30" stroke="#217ba4" stroke-width="0.7"/>
<line x1="199.80" y1="264.60" x2="199.80" y2="266.60" stroke="#2a2a2a" stroke-width="0.8"/>
<text transform="translate(202.30 270.10) rotate(-45)" font-size="5.6" font-weight="bold" font-style="italic" fill="#222" text-anchor="end">Ly6c</text>
<line x1="195.60" y1="196.60" x2="204.00" y2="196.60" stroke="#333" stroke-width="0.5"/>
<line x1="195.60" y1="196.60" x2="195.60" y2="197.50" stroke="#333" stroke-width="0.5"/>
<line x1="204.00" y1="196.60" x2="204.00" y2="197.50" stroke="#333" stroke-width="0.5"/>
<text x="199.80" y="195.80" font-size="7.2" text-anchor="middle" font-weight="normal" fill="#111">ns</text>
<rect x="213.20" y="204.20" width="4.70" height="60.40" fill="#8fc6e4"/>
<line x1="215.55" y1="202.20" x2="215.55" y2="204.20" stroke="#8fc6e4" stroke-width="0.7"/>
<line x1="214.25" y1="202.20" x2="216.85" y2="202.20" stroke="#8fc6e4" stroke-width="0.7"/>
<rect x="220.20" y="200.80" width="4.70" height="63.80" fill="#217ba4"/>
<line x1="222.55" y1="198.80" x2="222.55" y2="200.80" stroke="#217ba4" stroke-width="0.7"/>
<line x1="221.25" y1="198.80" x2="223.85" y2="198.80" stroke="#217ba4" stroke-width="0.7"/>
<line x1="219.10" y1="264.60" x2="219.10" y2="266.60" stroke="#2a2a2a" stroke-width="0.8"/>
<text transform="translate(221.60 270.10) rotate(-45)" font-size="5.6" font-weight="bold" font-style="italic" fill="#222" text-anchor="end">Nos2</text>
<line x1="214.90" y1="196.60" x2="223.30" y2="196.60" stroke="#333" stroke-width="0.5"/>
<line x1="214.90" y1="196.60" x2="214.90" y2="197.50" stroke="#333" stroke-width="0.5"/>
<line x1="223.30" y1="196.60" x2="223.30" y2="197.50" stroke="#333" stroke-width="0.5"/>
<text x="219.10" y="195.80" font-size="7.2" text-anchor="middle" font-weight="normal" fill="#111">ns</text>
<rect x="232.50" y="202.50" width="4.70" height="62.10" fill="#8fc6e4"/>
<line x1="234.85" y1="200.50" x2="234.85" y2="202.50" stroke="#8fc6e4" stroke-width="0.7"/>
<line x1="233.55" y1="200.50" x2="236.15" y2="200.50" stroke="#8fc6e4" stroke-width="0.7"/>
<rect x="239.50" y="200.80" width="4.70" height="63.80" fill="#217ba4"/>
<line x1="241.85" y1="198.80" x2="241.85" y2="200.80" stroke="#217ba4" stroke-width="0.7"/>
<line x1="240.55" y1="198.80" x2="243.15" y2="198.80" stroke="#217ba4" stroke-width="0.7"/>
<line x1="238.40" y1="264.60" x2="238.40" y2="266.60" stroke="#2a2a2a" stroke-width="0.8"/>
<text transform="translate(240.90 270.10) rotate(-45)" font-size="5.6" font-weight="bold" font-style="italic" fill="#222" text-anchor="end">Il10</text>
<line x1="234.20" y1="195.70" x2="242.60" y2="195.70" stroke="#333" stroke-width="0.5"/>
<line x1="234.20" y1="195.70" x2="234.20" y2="196.60" stroke="#333" stroke-width="0.5"/>
<line x1="242.60" y1="195.70" x2="242.60" y2="196.60" stroke="#333" stroke-width="0.5"/>
<text x="238.40" y="194.90" font-size="7.2" text-anchor="middle" font-weight="normal" fill="#111">ns</text>
<rect x="251.80" y="206.90" width="4.70" height="57.70" fill="#8fc6e4"/>
<line x1="254.15" y1="204.90" x2="254.15" y2="206.90" stroke="#8fc6e4" stroke-width="0.7"/>
<line x1="252.85" y1="204.90" x2="255.45" y2="204.90" stroke="#8fc6e4" stroke-width="0.7"/>
<rect x="258.80" y="204.40" width="4.70" height="60.20" fill="#217ba4"/>
<line x1="261.15" y1="202.40" x2="261.15" y2="204.40" stroke="#217ba4" stroke-width="0.7"/>
<line x1="259.85" y1="202.40" x2="262.45" y2="202.40" stroke="#217ba4" stroke-width="0.7"/>
<line x1="257.70" y1="264.60" x2="257.70" y2="266.60" stroke="#2a2a2a" stroke-width="0.8"/>
<text transform="translate(260.20 270.10) rotate(-45)" font-size="5.6" font-weight="bold" font-style="italic" fill="#222" text-anchor="end">Mrc1</text>
<line x1="253.50" y1="200.00" x2="261.90" y2="200.00" stroke="#333" stroke-width="0.5"/>
<line x1="253.50" y1="200.00" x2="253.50" y2="200.90" stroke="#333" stroke-width="0.5"/>
<line x1="261.90" y1="200.00" x2="261.90" y2="200.90" stroke="#333" stroke-width="0.5"/>
<text x="257.70" y="199.20" font-size="7.2" text-anchor="middle" font-weight="normal" fill="#111">ns</text>
<rect x="271.10" y="197.50" width="4.70" height="67.10" fill="#8fc6e4"/>
<line x1="273.45" y1="195.50" x2="273.45" y2="197.50" stroke="#8fc6e4" stroke-width="0.7"/>
<line x1="272.15" y1="195.50" x2="274.75" y2="195.50" stroke="#8fc6e4" stroke-width="0.7"/>
<rect x="278.10" y="203.90" width="4.70" height="60.70" fill="#217ba4"/>
<line x1="280.45" y1="201.90" x2="280.45" y2="203.90" stroke="#217ba4" stroke-width="0.7"/>
<line x1="279.15" y1="201.90" x2="281.75" y2="201.90" stroke="#217ba4" stroke-width="0.7"/>
<line x1="277.00" y1="264.60" x2="277.00" y2="266.60" stroke="#2a2a2a" stroke-width="0.8"/>
<text transform="translate(279.50 270.10) rotate(-45)" font-size="5.6" font-weight="bold" font-style="italic" fill="#222" text-anchor="end">Tgfb</text>
<line x1="272.80" y1="193.50" x2="281.20" y2="193.50" stroke="#333" stroke-width="0.5"/>
<line x1="272.80" y1="193.50" x2="272.80" y2="194.40" stroke="#333" stroke-width="0.5"/>
<line x1="281.20" y1="193.50" x2="281.20" y2="194.40" stroke="#333" stroke-width="0.5"/>
<text x="277.00" y="192.70" font-size="7.2" text-anchor="middle" font-weight="normal" fill="#111">ns</text>
<rect x="290.40" y="205.60" width="4.70" height="59.00" fill="#8fc6e4"/>
<line x1="292.75" y1="203.60" x2="292.75" y2="205.60" stroke="#8fc6e4" stroke-width="0.7"/>
<line x1="291.45" y1="203.60" x2="294.05" y2="203.60" stroke="#8fc6e4" stroke-width="0.7"/>
<rect x="297.40" y="200.60" width="4.70" height="64.00" fill="#217ba4"/>
<line x1="299.75" y1="198.60" x2="299.75" y2="200.60" stroke="#217ba4" stroke-width="0.7"/>
<line x1="298.45" y1="198.60" x2="301.05" y2="198.60" stroke="#217ba4" stroke-width="0.7"/>
<line x1="296.30" y1="264.60" x2="296.30" y2="266.60" stroke="#2a2a2a" stroke-width="0.8"/>
<text transform="translate(298.80 270.10) rotate(-45)" font-size="5.6" font-weight="bold" font-style="italic" fill="#222" text-anchor="end">Arg1</text>
<line x1="292.10" y1="195.80" x2="300.50" y2="195.80" stroke="#333" stroke-width="0.5"/>
<line x1="292.10" y1="195.80" x2="292.10" y2="196.70" stroke="#333" stroke-width="0.5"/>
<line x1="300.50" y1="195.80" x2="300.50" y2="196.70" stroke="#333" stroke-width="0.5"/>
<text x="296.30" y="195.00" font-size="7.2" text-anchor="middle" font-weight="normal" fill="#111">ns</text>
<rect x="309.70" y="196.00" width="4.70" height="68.60" fill="#8fc6e4"/>
<line x1="312.05" y1="194.00" x2="312.05" y2="196.00" stroke="#8fc6e4" stroke-width="0.7"/>
<line x1="310.75" y1="194.00" x2="313.35" y2="194.00" stroke="#8fc6e4" stroke-width="0.7"/>
<rect x="316.70" y="199.80" width="4.70" height="64.80" fill="#217ba4"/>
<line x1="319.05" y1="197.80" x2="319.05" y2="199.80" stroke="#217ba4" stroke-width="0.7"/>
<line x1="317.75" y1="197.80" x2="320.35" y2="197.80" stroke="#217ba4" stroke-width="0.7"/>
<line x1="315.60" y1="264.60" x2="315.60" y2="266.60" stroke="#2a2a2a" stroke-width="0.8"/>
<text transform="translate(318.10 270.10) rotate(-45)" font-size="5.6" font-weight="bold" font-style="italic" fill="#222" text-anchor="end">Pdgfb</text>
<line x1="311.40" y1="193.10" x2="319.80" y2="193.10" stroke="#333" stroke-width="0.5"/>
<line x1="311.40" y1="193.10" x2="311.40" y2="194.00" stroke="#333" stroke-width="0.5"/>
<line x1="319.80" y1="193.10" x2="319.80" y2="194.00" stroke="#333" stroke-width="0.5"/>
<text x="315.60" y="192.30" font-size="7.2" text-anchor="middle" font-weight="normal" fill="#111">ns</text>
<rect x="329.00" y="196.80" width="4.70" height="67.80" fill="#8fc6e4"/>
<line x1="331.35" y1="194.80" x2="331.35" y2="196.80" stroke="#8fc6e4" stroke-width="0.7"/>
<line x1="330.05" y1="194.80" x2="332.65" y2="194.80" stroke="#8fc6e4" stroke-width="0.7"/>
<rect x="336.00" y="201.80" width="4.70" height="62.80" fill="#217ba4"/>
<line x1="338.35" y1="199.80" x2="338.35" y2="201.80" stroke="#217ba4" stroke-width="0.7"/>
<line x1="337.05" y1="199.80" x2="339.65" y2="199.80" stroke="#217ba4" stroke-width="0.7"/>
<line x1="334.90" y1="264.60" x2="334.90" y2="266.60" stroke="#2a2a2a" stroke-width="0.8"/>
<text transform="translate(337.40 270.10) rotate(-45)" font-size="5.6" font-weight="bold" font-style="italic" fill="#222" text-anchor="end">Vegfa</text>
<line x1="330.70" y1="193.50" x2="339.10" y2="193.50" stroke="#333" stroke-width="0.5"/>
<line x1="330.70" y1="193.50" x2="330.70" y2="194.40" stroke="#333" stroke-width="0.5"/>
<line x1="339.10" y1="193.50" x2="339.10" y2="194.40" stroke="#333" stroke-width="0.5"/>
<text x="334.90" y="192.70" font-size="7.2" text-anchor="middle" font-weight="normal" fill="#111">ns</text>
<rect x="348.30" y="200.60" width="4.70" height="64.00" fill="#8fc6e4"/>
<line x1="350.65" y1="198.60" x2="350.65" y2="200.60" stroke="#8fc6e4" stroke-width="0.7"/>
<line x1="349.35" y1="198.60" x2="351.95" y2="198.60" stroke="#8fc6e4" stroke-width="0.7"/>
<rect x="355.30" y="201.30" width="4.70" height="63.30" fill="#217ba4"/>
<line x1="357.65" y1="199.30" x2="357.65" y2="201.30" stroke="#217ba4" stroke-width="0.7"/>
<line x1="356.35" y1="199.30" x2="358.95" y2="199.30" stroke="#217ba4" stroke-width="0.7"/>
<line x1="354.20" y1="264.60" x2="354.20" y2="266.60" stroke="#2a2a2a" stroke-width="0.8"/>
<text transform="translate(356.70 270.10) rotate(-45)" font-size="5.6" font-weight="bold" font-style="italic" fill="#222" text-anchor="end">Ang</text>
<line x1="350.00" y1="195.40" x2="358.40" y2="195.40" stroke="#333" stroke-width="0.5"/>
<line x1="350.00" y1="195.40" x2="350.00" y2="196.30" stroke="#333" stroke-width="0.5"/>
<line x1="358.40" y1="195.40" x2="358.40" y2="196.30" stroke="#333" stroke-width="0.5"/>
<text x="354.20" y="194.60" font-size="7.2" text-anchor="middle" font-weight="normal" fill="#111">ns</text>
<text x="378.60" y="165.80" font-size="11.2" text-anchor="start" font-weight="bold" fill="#222">E</text>
<rect x="450.80" y="161.30" width="83.80" height="30.00" fill="none" stroke="#333" stroke-width="0.7"/>
<rect x="453.90" y="167.20" width="12.80" height="3.20" fill="#8fc6e4"/>
<rect x="453.90" y="176.00" width="12.80" height="3.20" fill="#217ba4"/>
<rect x="453.90" y="184.60" width="12.80" height="3.20" fill="#4b4b4b"/>
<text x="474.2" y="171.63" font-size="7.9" font-weight="bold" fill="#222">TAMEM<tspan font-size="4.6" dy="-2.37">C-m</tspan><tspan dy="2.37">-CM</tspan></text>
<text x="474.20" y="180.43" font-size="7.9" text-anchor="start" font-weight="bold" fill="#222">TAMEM-CM</text>
<text x="474.20" y="189.03" font-size="7.9" text-anchor="start" font-weight="bold" fill="#222">Normal Medium</text>
<text x="436.30" y="191.81" font-size="7.0" text-anchor="middle" font-weight="bold" fill="#222" font-style="italic">Arg1</text>
<line x1="392.50" y1="201.60" x2="392.50" y2="271.40" stroke="#2a2a2a" stroke-width="1.0"/>
<line x1="392.00" y1="271.50" x2="481.00" y2="271.50" stroke="#2a2a2a" stroke-width="1.0"/>
<line x1="389.80" y1="271.40" x2="392.00" y2="271.40" stroke="#2a2a2a" stroke-width="0.8"/>
<text x="389.80" y="273.55" font-size="6.0" text-anchor="end" font-weight="bold" fill="#222">0</text>
<line x1="389.80" y1="248.20" x2="392.00" y2="248.20" stroke="#2a2a2a" stroke-width="0.8"/>
<text x="389.80" y="250.35" font-size="6.0" text-anchor="end" font-weight="bold" fill="#222">5</text>
<line x1="389.80" y1="225.00" x2="392.00" y2="225.00" stroke="#2a2a2a" stroke-width="0.8"/>
<text x="389.80" y="227.15" font-size="6.0" text-anchor="end" font-weight="bold" fill="#222">10</text>
<line x1="389.80" y1="201.80" x2="392.00" y2="201.80" stroke="#2a2a2a" stroke-width="0.8"/>
<text x="389.80" y="203.95" font-size="6.0" text-anchor="end" font-weight="bold" fill="#222">15</text>
<rect x="402.20" y="233.35" width="17.80" height="38.45" fill="#8fc6e4"/>
<line x1="411.10" y1="232.19" x2="411.10" y2="233.35" stroke="#8fc6e4" stroke-width="0.8"/>
<line x1="408.60" y1="232.19" x2="413.60" y2="232.19" stroke="#8fc6e4" stroke-width="0.8"/>
<rect x="428.80" y="223.61" width="17.80" height="48.19" fill="#217ba4"/>
<line x1="437.70" y1="222.45" x2="437.70" y2="223.61" stroke="#217ba4" stroke-width="0.8"/>
<line x1="435.20" y1="222.45" x2="440.20" y2="222.45" stroke="#217ba4" stroke-width="0.8"/>
<rect x="456.00" y="266.76" width="17.70" height="5.04" fill="#4b4b4b"/>
<line x1="464.85" y1="266.06" x2="464.85" y2="266.76" stroke="#4b4b4b" stroke-width="0.8"/>
<line x1="462.35" y1="266.06" x2="467.35" y2="266.06" stroke="#4b4b4b" stroke-width="0.8"/>
<text transform="translate(380.8 236.6) rotate(-90)" font-size="7.0" font-weight="700" fill="#222" text-anchor="middle">Relative mRNA expression</text>
<text transform="translate(410.80 234.02) scale(1.15 1)" font-size="8.4" text-anchor="middle" font-weight="bold" fill="#222">****</text>
<text transform="translate(438.00 224.22) scale(1.15 1)" font-size="8.4" text-anchor="middle" font-weight="bold" fill="#222">****</text>
<path d="M409.50 225.50V213.00H438.50V216.50" stroke="#333" stroke-width="0.95" fill="none"/>
<text transform="translate(424.50 214.02) scale(1.15 1)" font-size="8.4" text-anchor="middle" font-weight="bold" fill="#222">****</text>
<text x="549.30" y="192.51" font-size="7.0" text-anchor="middle" font-weight="bold" fill="#222" font-style="italic">Mrc1</text>
<line x1="504.50" y1="201.80" x2="504.50" y2="271.00" stroke="#2a2a2a" stroke-width="1.0"/>
<line x1="504.20" y1="271.50" x2="592.50" y2="271.50" stroke="#2a2a2a" stroke-width="1.0"/>
<line x1="502.00" y1="271.00" x2="504.20" y2="271.00" stroke="#2a2a2a" stroke-width="0.8"/>
<text x="501.80" y="273.15" font-size="6.0" text-anchor="end" font-weight="bold" fill="#222">0</text>
<line x1="502.00" y1="253.70" x2="504.20" y2="253.70" stroke="#2a2a2a" stroke-width="0.8"/>
<text x="501.80" y="255.85" font-size="6.0" text-anchor="end" font-weight="bold" fill="#222">1</text>
<line x1="502.00" y1="236.40" x2="504.20" y2="236.40" stroke="#2a2a2a" stroke-width="0.8"/>
<text x="501.80" y="238.55" font-size="6.0" text-anchor="end" font-weight="bold" fill="#222">2</text>
<line x1="502.00" y1="219.10" x2="504.20" y2="219.10" stroke="#2a2a2a" stroke-width="0.8"/>
<text x="501.80" y="221.25" font-size="6.0" text-anchor="end" font-weight="bold" fill="#222">3</text>
<line x1="502.00" y1="201.80" x2="504.20" y2="201.80" stroke="#2a2a2a" stroke-width="0.8"/>
<text x="501.80" y="203.95" font-size="6.0" text-anchor="end" font-weight="bold" fill="#222">4</text>
<rect x="514.10" y="227.06" width="17.60" height="44.34" fill="#8fc6e4"/>
<line x1="522.90" y1="226.19" x2="522.90" y2="227.06" stroke="#8fc6e4" stroke-width="0.8"/>
<line x1="520.40" y1="226.19" x2="525.40" y2="226.19" stroke="#8fc6e4" stroke-width="0.8"/>
<rect x="540.80" y="218.24" width="17.50" height="53.16" fill="#217ba4"/>
<line x1="549.55" y1="217.20" x2="549.55" y2="218.24" stroke="#217ba4" stroke-width="0.8"/>
<line x1="547.05" y1="217.20" x2="552.05" y2="217.20" stroke="#217ba4" stroke-width="0.8"/>
<rect x="566.70" y="253.87" width="17.80" height="17.53" fill="#4b4b4b"/>
<line x1="575.60" y1="253.35" x2="575.60" y2="253.87" stroke="#4b4b4b" stroke-width="0.8"/>
<line x1="573.10" y1="253.35" x2="578.10" y2="253.35" stroke="#4b4b4b" stroke-width="0.8"/>
<text transform="translate(494.4 236.6) rotate(-90)" font-size="7.0" font-weight="700" fill="#222" text-anchor="middle">Relative mRNA expression</text>
<text transform="translate(522.40 227.62) scale(1.15 1)" font-size="8.4" text-anchor="middle" font-weight="bold" fill="#222">****</text>
<text transform="translate(549.80 219.02) scale(1.15 1)" font-size="8.4" text-anchor="middle" font-weight="bold" fill="#222">****</text>
<path d="M521.30 219.50V207.30H549.50V212.00" stroke="#333" stroke-width="0.95" fill="none"/>
<text transform="translate(535.60 209.22) scale(1.15 1)" font-size="8.4" text-anchor="middle" font-weight="bold" fill="#222">****</text>
<text x="10.40" y="297.60" font-size="11.2" text-anchor="start" font-weight="bold" fill="#222">F</text>
<defs><filter id="wn1" x="0" y="0" width="100%" height="100%" color-interpolation-filters="sRGB"><feTurbulence type="fractalNoise" baseFrequency="0.38" numOctaves="3" seed="5" result="n"/><feColorMatrix in="n" type="matrix" values="0.48 0 0 0 0.41  0.48 0 0 0 0.435  0.48 0 0 0 0.435  0 0 0 0 1" result="c0"/><feGaussianBlur in="c0" stdDeviation="0.5" result="c"/><feComposite in="c" in2="SourceAlpha" operator="in"/></filter><filter id="wn2" x="0" y="0" width="100%" height="100%" color-interpolation-filters="sRGB"><feTurbulence type="fractalNoise" baseFrequency="0.38" numOctaves="3" seed="10" result="n"/><feColorMatrix in="n" type="matrix" values="0.48 0 0 0 0.41  0.48 0 0 0 0.435  0.48 0 0 0 0.435  0 0 0 0 1" result="c0"/><feGaussianBlur in="c0" stdDeviation="0.5" result="c"/><feComposite in="c" in2="SourceAlpha" operator="in"/></filter><filter id="wn3" x="0" y="0" width="100%" height="100%" color-interpolation-filters="sRGB"><feTurbulence type="fractalNoise" baseFrequency="0.38" numOctaves="3" seed="15" result="n"/><feColorMatrix in="n" type="matrix" values="0.48 0 0 0 0.41  0.48 0 0 0 0.435  0.48 0 0 0 0.435  0 0 0 0 1" result="c0"/><feGaussianBlur in="c0" stdDeviation="0.5" result="c"/><feComposite in="c" in2="SourceAlpha" operator="in"/></filter><filter id="wd" x="-5%" y="0" width="110%" height="100%"><feTurbulence type="fractalNoise" baseFrequency="0.05 0.12" numOctaves="2" seed="9" result="t"/><feDisplacementMap in="SourceGraphic" in2="t" scale="9" xChannelSelector="R" yChannelSelector="G"/></filter></defs>
<text x="55.6" y="302.88" font-size="8.8" font-weight="bold" fill="#222" text-anchor="middle">TAMEM<tspan font-size="5.2" dy="-2.6">C-m</tspan><tspan dy="2.6">-CM</tspan></text>
<text x="143.20" y="302.88" font-size="8.8" text-anchor="middle" font-weight="bold" fill="#222">TAMEM-CM</text>
<text x="230.80" y="302.88" font-size="8.8" text-anchor="middle" font-weight="bold" fill="#222">Normal Medium</text>
<rect x="13.90" y="303.80" width="83.15" height="111.50" fill="#b0b8b8" filter="url(#wn1)"/>
<defs><linearGradient id="wg1" x1="0" x2="1" y1="0" y2="0"><stop offset="0" stop-color="#c2cdcd" stop-opacity="0"/><stop offset="0.194" stop-color="#c2cdcd" stop-opacity="0"/><stop offset="0.278" stop-color="#c2cdcd" stop-opacity="0.8"/><stop offset="0.687" stop-color="#c2cdcd" stop-opacity="0.8"/><stop offset="0.771" stop-color="#c2cdcd" stop-opacity="0"/><stop offset="1" stop-color="#c2cdcd" stop-opacity="0"/></linearGradient></defs>
<rect x="13.90" y="303.80" width="83.15" height="111.50" fill="url(#wg1)" filter="url(#wd)"/>
<line x1="50.40" y1="304.30" x2="50.40" y2="415.30" stroke="#d43c4c" stroke-width="1.5" stroke-dasharray="3.6 2.2"/>
<line x1="63.10" y1="304.30" x2="63.10" y2="415.30" stroke="#d43c4c" stroke-width="1.5" stroke-dasharray="3.6 2.2"/>
<line x1="77.00" y1="412.30" x2="94.50" y2="412.30" stroke="#111" stroke-width="1.6"/>
<rect x="101.10" y="303.80" width="83.90" height="111.50" fill="#b0b8b8" filter="url(#wn2)"/>
<defs><linearGradient id="wg2" x1="0" x2="1" y1="0" y2="0"><stop offset="0" stop-color="#c2cdcd" stop-opacity="0"/><stop offset="0.201" stop-color="#c2cdcd" stop-opacity="0"/><stop offset="0.285" stop-color="#c2cdcd" stop-opacity="0.8"/><stop offset="0.642" stop-color="#c2cdcd" stop-opacity="0.8"/><stop offset="0.726" stop-color="#c2cdcd" stop-opacity="0"/><stop offset="1" stop-color="#c2cdcd" stop-opacity="0"/></linearGradient></defs>
<rect x="101.10" y="303.80" width="83.90" height="111.50" fill="url(#wg2)" filter="url(#wd)"/>
<line x1="139.80" y1="304.30" x2="139.80" y2="415.30" stroke="#d43c4c" stroke-width="1.5" stroke-dasharray="3.6 2.2"/>
<line x1="150.70" y1="304.30" x2="150.70" y2="415.30" stroke="#d43c4c" stroke-width="1.5" stroke-dasharray="3.6 2.2"/>
<line x1="162.30" y1="412.00" x2="179.10" y2="412.00" stroke="#111" stroke-width="1.6"/>
<rect x="189.00" y="303.80" width="83.70" height="111.50" fill="#b0b8b8" filter="url(#wn3)"/>
<defs><linearGradient id="wg3" x1="0" x2="1" y1="0" y2="0"><stop offset="0" stop-color="#c2cdcd" stop-opacity="0"/><stop offset="0.251" stop-color="#c2cdcd" stop-opacity="0"/><stop offset="0.335" stop-color="#c2cdcd" stop-opacity="0.8"/><stop offset="0.633" stop-color="#c2cdcd" stop-opacity="0.8"/><stop offset="0.717" stop-color="#c2cdcd" stop-opacity="0"/><stop offset="1" stop-color="#c2cdcd" stop-opacity="0"/></linearGradient></defs>
<rect x="189.00" y="303.80" width="83.70" height="111.50" fill="url(#wg3)" filter="url(#wd)"/>
<line x1="214.60" y1="304.30" x2="214.60" y2="415.30" stroke="#d43c4c" stroke-width="1.5" stroke-dasharray="3.6 2.2"/>
<line x1="244.60" y1="304.30" x2="244.60" y2="415.30" stroke="#d43c4c" stroke-width="1.5" stroke-dasharray="3.6 2.2"/>
<line x1="252.80" y1="412.00" x2="269.60" y2="412.00" stroke="#111" stroke-width="1.6"/>
<rect x="308.40" y="296.80" width="71.00" height="25.40" fill="none" stroke="#333" stroke-width="0.7"/>
<rect x="311.20" y="302.20" width="11.30" height="3.20" fill="#8fc6e4"/>
<rect x="311.20" y="309.40" width="11.30" height="3.20" fill="#217ba4"/>
<rect x="311.20" y="316.70" width="11.30" height="3.20" fill="#4b4b4b"/>
<text x="329.2" y="306.16" font-size="6.6" font-weight="bold" fill="#222">TAMEM<tspan font-size="3.9" dy="-1.98">C-m</tspan><tspan dy="1.98">-CM</tspan></text>
<text x="329.20" y="313.36" font-size="6.6" text-anchor="start" font-weight="bold" fill="#222">TAMEM-CM</text>
<text x="329.20" y="320.66" font-size="6.6" text-anchor="start" font-weight="bold" fill="#222">Normal Medium</text>
<line x1="305.50" y1="318.60" x2="305.50" y2="412.60" stroke="#2a2a2a" stroke-width="1.0"/>
<line x1="305.30" y1="412.50" x2="381.00" y2="412.50" stroke="#2a2a2a" stroke-width="1.0"/>
<line x1="302.50" y1="412.60" x2="305.30" y2="412.60" stroke="#2a2a2a" stroke-width="0.8"/>
<text x="301.20" y="415.39" font-size="7.8" text-anchor="end" font-weight="bold" fill="#222">0</text>
<line x1="302.50" y1="389.26" x2="305.30" y2="389.26" stroke="#2a2a2a" stroke-width="0.8"/>
<text x="301.20" y="392.05" font-size="7.8" text-anchor="end" font-weight="bold" fill="#222">20</text>
<line x1="302.50" y1="365.92" x2="305.30" y2="365.92" stroke="#2a2a2a" stroke-width="0.8"/>
<text x="301.20" y="368.71" font-size="7.8" text-anchor="end" font-weight="bold" fill="#222">40</text>
<line x1="302.50" y1="342.58" x2="305.30" y2="342.58" stroke="#2a2a2a" stroke-width="0.8"/>
<text x="301.20" y="345.37" font-size="7.8" text-anchor="end" font-weight="bold" fill="#222">60</text>
<line x1="302.50" y1="319.24" x2="305.30" y2="319.24" stroke="#2a2a2a" stroke-width="0.8"/>
<text x="301.20" y="322.03" font-size="7.8" text-anchor="end" font-weight="bold" fill="#222">80</text>
<rect x="313.40" y="392.06" width="14.40" height="20.94" fill="#8fc6e4"/>
<line x1="320.60" y1="391.01" x2="320.60" y2="392.06" stroke="#8fc6e4" stroke-width="0.8"/>
<line x1="318.10" y1="391.01" x2="323.10" y2="391.01" stroke="#8fc6e4" stroke-width="0.8"/>
<rect x="336.00" y="398.01" width="14.60" height="14.99" fill="#217ba4"/>
<line x1="343.30" y1="396.96" x2="343.30" y2="398.01" stroke="#217ba4" stroke-width="0.8"/>
<line x1="340.80" y1="396.96" x2="345.80" y2="396.96" stroke="#217ba4" stroke-width="0.8"/>
<rect x="358.60" y="328.58" width="14.20" height="84.42" fill="#4b4b4b"/>
<line x1="365.70" y1="326.48" x2="365.70" y2="328.58" stroke="#4b4b4b" stroke-width="0.8"/>
<line x1="363.20" y1="326.48" x2="368.20" y2="326.48" stroke="#4b4b4b" stroke-width="0.8"/>
<text transform="translate(288.8 365.8) rotate(-90)" font-size="7.85" font-weight="bold" fill="#222" text-anchor="middle">Wound area (%)</text>
<text transform="translate(320.60 392.77) scale(1.25 1)" font-size="8.9" text-anchor="middle" font-weight="bold" fill="#222">****</text>
<text transform="translate(343.40 398.47) scale(1.25 1)" font-size="8.9" text-anchor="middle" font-weight="bold" fill="#222">****</text>
<path d="M318.70 383.60V380.00H343.30V390.80" stroke="#333" stroke-width="1.1" fill="none"/>
<text transform="translate(330.80 381.27) scale(1.25 1)" font-size="8.9" text-anchor="middle" font-weight="bold" fill="#222">*</text>
<text x="386.80" y="297.40" font-size="11.2" text-anchor="start" font-weight="bold" fill="#222">G</text>
<rect x="425.10" y="298.80" width="75.20" height="25.70" fill="none" stroke="#333" stroke-width="0.7"/>
<rect x="427.50" y="302.20" width="11.30" height="3.20" fill="#8fc6e4"/>
<rect x="427.50" y="310.60" width="11.30" height="3.20" fill="#217ba4"/>
<rect x="427.50" y="318.90" width="11.30" height="3.20" fill="#4b4b4b"/>
<text x="446.2" y="306.16" font-size="6.6" font-weight="bold" fill="#222">TAMEM<tspan font-size="4.1" dy="-1.98">C-m</tspan><tspan dy="1.98">-CM</tspan></text>
<text x="446.20" y="314.56" font-size="6.6" text-anchor="start" font-weight="bold" fill="#222">TAMEM-CM</text>
<text x="446.20" y="322.86" font-size="6.6" text-anchor="start" font-weight="bold" fill="#222">Normal Medium</text>
<line x1="418.50" y1="300.00" x2="418.50" y2="411.40" stroke="#2a2a2a" stroke-width="1.0"/>
<line x1="418.30" y1="411.50" x2="586.80" y2="411.50" stroke="#2a2a2a" stroke-width="1.0"/>
<line x1="415.90" y1="411.40" x2="418.30" y2="411.40" stroke="#2a2a2a" stroke-width="0.8"/>
<text transform="translate(416.00 414.19) scale(1.05 1)" font-size="7.8" text-anchor="end" font-weight="bold" fill="#222">0</text>
<line x1="415.90" y1="383.62" x2="418.30" y2="383.62" stroke="#2a2a2a" stroke-width="0.8"/>
<text transform="translate(416.00 386.41) scale(1.05 1)" font-size="7.8" text-anchor="end" font-weight="bold" fill="#222">100</text>
<line x1="415.90" y1="355.84" x2="418.30" y2="355.84" stroke="#2a2a2a" stroke-width="0.8"/>
<text transform="translate(416.00 358.63) scale(1.05 1)" font-size="7.8" text-anchor="end" font-weight="bold" fill="#222">200</text>
<line x1="415.90" y1="328.06" x2="418.30" y2="328.06" stroke="#2a2a2a" stroke-width="0.8"/>
<text transform="translate(416.00 330.85) scale(1.05 1)" font-size="7.8" text-anchor="end" font-weight="bold" fill="#222">300</text>
<line x1="415.90" y1="300.28" x2="418.30" y2="300.28" stroke="#2a2a2a" stroke-width="0.8"/>
<text transform="translate(416.00 303.07) scale(1.05 1)" font-size="7.8" text-anchor="end" font-weight="bold" fill="#222">400</text>
<text transform="translate(396.0 355.6) rotate(-90)" font-size="8.4" font-weight="bold" fill="#222" text-anchor="middle">Proliferation rate (%)</text>
<rect x="423.00" y="368.06" width="7.40" height="43.74" fill="#8fc6e4"/>
<line x1="426.70" y1="367.23" x2="426.70" y2="368.06" stroke="#8fc6e4" stroke-width="0.7"/>
<line x1="424.60" y1="367.23" x2="428.80" y2="367.23" stroke="#8fc6e4" stroke-width="0.7"/>
<rect x="434.70" y="364.17" width="7.40" height="47.63" fill="#217ba4"/>
<line x1="438.40" y1="363.06" x2="438.40" y2="364.17" stroke="#217ba4" stroke-width="0.7"/>
<line x1="436.30" y1="363.06" x2="440.50" y2="363.06" stroke="#217ba4" stroke-width="0.7"/>
<rect x="446.40" y="377.23" width="7.40" height="34.57" fill="#4b4b4b"/>
<line x1="450.10" y1="376.67" x2="450.10" y2="377.23" stroke="#4b4b4b" stroke-width="0.7"/>
<line x1="448.00" y1="376.67" x2="452.20" y2="376.67" stroke="#4b4b4b" stroke-width="0.7"/>
<line x1="438.40" y1="411.40" x2="438.40" y2="413.60" stroke="#2a2a2a" stroke-width="0.8"/>
<text x="438.40" y="422.94" font-size="8.2" text-anchor="middle" font-weight="bold" fill="#222">12 h</text>
<rect x="465.85" y="356.40" width="7.40" height="55.40" fill="#8fc6e4"/>
<line x1="469.55" y1="355.56" x2="469.55" y2="356.40" stroke="#8fc6e4" stroke-width="0.7"/>
<line x1="467.45" y1="355.56" x2="471.65" y2="355.56" stroke="#8fc6e4" stroke-width="0.7"/>
<rect x="477.55" y="352.23" width="7.40" height="59.57" fill="#217ba4"/>
<line x1="481.25" y1="351.40" x2="481.25" y2="352.23" stroke="#217ba4" stroke-width="0.7"/>
<line x1="479.15" y1="351.40" x2="483.35" y2="351.40" stroke="#217ba4" stroke-width="0.7"/>
<rect x="489.25" y="365.01" width="7.40" height="46.79" fill="#4b4b4b"/>
<line x1="492.95" y1="364.45" x2="492.95" y2="365.01" stroke="#4b4b4b" stroke-width="0.7"/>
<line x1="490.85" y1="364.45" x2="495.05" y2="364.45" stroke="#4b4b4b" stroke-width="0.7"/>
<line x1="481.25" y1="411.40" x2="481.25" y2="413.60" stroke="#2a2a2a" stroke-width="0.8"/>
<text x="481.25" y="422.94" font-size="8.2" text-anchor="middle" font-weight="bold" fill="#222">24 h</text>
<rect x="508.70" y="336.39" width="7.40" height="75.41" fill="#8fc6e4"/>
<line x1="512.40" y1="335.28" x2="512.40" y2="336.39" stroke="#8fc6e4" stroke-width="0.7"/>
<line x1="510.30" y1="335.28" x2="514.50" y2="335.28" stroke="#8fc6e4" stroke-width="0.7"/>
<rect x="520.40" y="336.95" width="7.40" height="74.85" fill="#217ba4"/>
<line x1="524.10" y1="335.84" x2="524.10" y2="336.95" stroke="#217ba4" stroke-width="0.7"/>
<line x1="522.00" y1="335.84" x2="526.20" y2="335.84" stroke="#217ba4" stroke-width="0.7"/>
<rect x="532.10" y="348.06" width="7.40" height="63.74" fill="#4b4b4b"/>
<line x1="535.80" y1="347.51" x2="535.80" y2="348.06" stroke="#4b4b4b" stroke-width="0.7"/>
<line x1="533.70" y1="347.51" x2="537.90" y2="347.51" stroke="#4b4b4b" stroke-width="0.7"/>
<line x1="524.10" y1="411.40" x2="524.10" y2="413.60" stroke="#2a2a2a" stroke-width="0.8"/>
<text x="524.10" y="422.94" font-size="8.2" text-anchor="middle" font-weight="bold" fill="#222">48 h</text>
<rect x="551.55" y="322.50" width="7.40" height="89.30" fill="#8fc6e4"/>
<line x1="555.25" y1="321.39" x2="555.25" y2="322.50" stroke="#8fc6e4" stroke-width="0.7"/>
<line x1="553.15" y1="321.39" x2="557.35" y2="321.39" stroke="#8fc6e4" stroke-width="0.7"/>
<rect x="563.25" y="323.62" width="7.40" height="88.18" fill="#217ba4"/>
<line x1="566.95" y1="322.23" x2="566.95" y2="323.62" stroke="#217ba4" stroke-width="0.7"/>
<line x1="564.85" y1="322.23" x2="569.05" y2="322.23" stroke="#217ba4" stroke-width="0.7"/>
<rect x="574.95" y="341.39" width="7.40" height="70.41" fill="#4b4b4b"/>
<line x1="578.65" y1="340.84" x2="578.65" y2="341.39" stroke="#4b4b4b" stroke-width="0.7"/>
<line x1="576.55" y1="340.84" x2="580.75" y2="340.84" stroke="#4b4b4b" stroke-width="0.7"/>
<line x1="566.95" y1="411.40" x2="566.95" y2="413.60" stroke="#2a2a2a" stroke-width="0.8"/>
<text x="566.95" y="422.94" font-size="8.2" text-anchor="middle" font-weight="bold" fill="#222">72 h</text>
<text transform="translate(427.30 368.91) scale(1.1 1)" font-size="7.2" text-anchor="middle" font-weight="bold" fill="#222">****</text>
<text transform="translate(439.30 364.11) scale(1.1 1)" font-size="7.2" text-anchor="middle" font-weight="bold" fill="#222">****</text>
<path d="M425.20 361.30V353.10H438.80V356.00" stroke="#333" stroke-width="0.95" fill="none"/>
<text transform="translate(432.00 353.81) scale(1.1 1)" font-size="7.2" text-anchor="middle" font-weight="bold" fill="#222">*</text>
<text transform="translate(469.00 357.31) scale(1.1 1)" font-size="7.2" text-anchor="middle" font-weight="bold" fill="#222">****</text>
<text transform="translate(481.30 353.41) scale(1.1 1)" font-size="7.2" text-anchor="middle" font-weight="bold" fill="#222">****</text>
<path d="M468.40 351.30V343.20H481.60V346.70" stroke="#333" stroke-width="0.95" fill="none"/>
<text transform="translate(475.50 344.41) scale(1.1 1)" font-size="7.2" text-anchor="middle" font-weight="bold" fill="#222">**</text>
<text transform="translate(512.00 337.01) scale(1.1 1)" font-size="7.2" text-anchor="middle" font-weight="bold" fill="#222">****</text>
<text transform="translate(523.80 337.01) scale(1.1 1)" font-size="7.2" text-anchor="middle" font-weight="bold" fill="#222">****</text>
<path d="M512.00 330.80V328.00H523.90V330.80" stroke="#333" stroke-width="0.95" fill="none"/>
<text x="518.00" y="326.40" font-size="8.8" text-anchor="middle" font-weight="bold" fill="#222">ns</text>
<text transform="translate(555.20 323.01) scale(1.1 1)" font-size="7.2" text-anchor="middle" font-weight="bold" fill="#222">****</text>
<text transform="translate(566.90 323.01) scale(1.1 1)" font-size="7.2" text-anchor="middle" font-weight="bold" fill="#222">****</text>
<path d="M555.10 316.60V313.80H566.90V316.60" stroke="#333" stroke-width="0.95" fill="none"/>
<text x="561.00" y="312.40" font-size="8.8" text-anchor="middle" font-weight="bold" fill="#222">ns</text>
<text x="10.20" y="434.00" font-size="11.2" text-anchor="start" font-weight="bold" fill="#222">H</text>
<defs><filter id="cf1" x="0" y="0" width="100%" height="100%" color-interpolation-filters="sRGB"><feTurbulence type="fractalNoise" baseFrequency="0.7" numOctaves="2" seed="13" result="n1"/><feColorMatrix in="n1" type="matrix" values="4.1 0 0 0 -2.0  0 0.35 0 0 -0.18  0 0 0 0 0  0 0 0 0 1" result="red"/><feTurbulence type="fractalNoise" baseFrequency="0.3 0.18" numOctaves="3" seed="8" result="n2"/><feColorMatrix in="n2" type="matrix" values="0 0.2 0 0 -0.02  0 2.4 0 0 -0.98  0 0.2 0 0 -0.05  0 0 0 0 1" result="grn"/><feComposite in="red" in2="grn" operator="arithmetic" k1="0" k2="1" k3="1" k4="0" result="sum"/><feGaussianBlur in="sum" stdDeviation="0.4" result="b"/><feComposite in="b" in2="SourceAlpha" operator="in"/></filter><filter id="cf2" x="0" y="0" width="100%" height="100%" color-interpolation-filters="sRGB"><feTurbulence type="fractalNoise" baseFrequency="0.7" numOctaves="2" seed="26" result="n1"/><feColorMatrix in="n1" type="matrix" values="4.1 0 0 0 -2.0  0 0.35 0 0 -0.18  0 0 0 0 0  0 0 0 0 1" result="red"/><feTurbulence type="fractalNoise" baseFrequency="0.3 0.18" numOctaves="3" seed="15" result="n2"/><feColorMatrix in="n2" type="matrix" values="0 0.2 0 0 -0.02  0 2.4 0 0 -0.98  0 0.2 0 0 -0.05  0 0 0 0 1" result="grn"/><feComposite in="red" in2="grn" operator="arithmetic" k1="0" k2="1" k3="1" k4="0" result="sum"/><feGaussianBlur in="sum" stdDeviation="0.4" result="b"/><feComposite in="b" in2="SourceAlpha" operator="in"/></filter><filter id="cf3" x="0" y="0" width="100%" height="100%" color-interpolation-filters="sRGB"><feTurbulence type="fractalNoise" baseFrequency="0.7" numOctaves="2" seed="39" result="n1"/><feColorMatrix in="n1" type="matrix" values="4.1 0 0 0 -2.0  0 0.35 0 0 -0.18  0 0 0 0 0  0 0 0 0 1" result="red"/><feTurbulence type="fractalNoise" baseFrequency="0.3 0.18" numOctaves="3" seed="22" result="n2"/><feColorMatrix in="n2" type="matrix" values="0 0.2 0 0 -0.02  0 2.4 0 0 -0.98  0 0.2 0 0 -0.05  0 0 0 0 1" result="grn"/><feComposite in="red" in2="grn" operator="arithmetic" k1="0" k2="1" k3="1" k4="0" result="sum"/><feGaussianBlur in="sum" stdDeviation="0.4" result="b"/><feComposite in="b" in2="SourceAlpha" operator="in"/></filter><filter id="cf4" x="0" y="0" width="100%" height="100%" color-interpolation-filters="sRGB"><feTurbulence type="fractalNoise" baseFrequency="0.7" numOctaves="2" seed="52" result="n1"/><feColorMatrix in="n1" type="matrix" values="4.1 0 0 0 -2.0  0 0.35 0 0 -0.18  0 0 0 0 0  0 0 0 0 1" result="red"/><feTurbulence type="fractalNoise" baseFrequency="0.3 0.18" numOctaves="3" seed="29" result="n2"/><feColorMatrix in="n2" type="matrix" values="0 0.2 0 0 -0.02  0 2.4 0 0 -0.98  0 0.2 0 0 -0.05  0 0 0 0 1" result="grn"/><feComposite in="red" in2="grn" operator="arithmetic" k1="0" k2="1" k3="1" k4="0" result="sum"/><feGaussianBlur in="sum" stdDeviation="0.4" result="b"/><feComposite in="b" in2="SourceAlpha" operator="in"/></filter><filter id="cf5" x="0" y="0" width="100%" height="100%" color-interpolation-filters="sRGB"><feTurbulence type="fractalNoise" baseFrequency="0.7" numOctaves="2" seed="65" result="n1"/><feColorMatrix in="n1" type="matrix" values="4.1 0 0 0 -2.0  0 0.35 0 0 -0.18  0 0 0 0 0  0 0 0 0 1" result="red"/><feTurbulence type="fractalNoise" baseFrequency="0.3 0.18" numOctaves="3" seed="36" result="n2"/><feColorMatrix in="n2" type="matrix" values="0 0.2 0 0 -0.02  0 2.4 0 0 -0.98  0 0.2 0 0 -0.05  0 0 0 0 1" result="grn"/><feComposite in="red" in2="grn" operator="arithmetic" k1="0" k2="1" k3="1" k4="0" result="sum"/><feGaussianBlur in="sum" stdDeviation="0.4" result="b"/><feComposite in="b" in2="SourceAlpha" operator="in"/></filter><filter id="ge" x="-10%" y="-10%" width="120%" height="120%"><feTurbulence type="fractalNoise" baseFrequency="0.2" numOctaves="2" seed="5" result="t"/><feDisplacementMap in="SourceGraphic" in2="t" scale="3" xChannelSelector="R" yChannelSelector="G" result="d"/><feGaussianBlur in="d" stdDeviation="0.6"/></filter><filter id="gb" x="-10%" y="-10%" width="120%" height="120%"><feGaussianBlur stdDeviation="0.45"/></filter><filter id="nb" x="-30%" y="-30%" width="160%" height="160%"><feTurbulence type="fractalNoise" baseFrequency="0.3" numOctaves="2" seed="8" result="t"/><feDisplacementMap in="SourceGraphic" in2="t" scale="4" xChannelSelector="R" yChannelSelector="G" result="d"/><feGaussianBlur in="d" stdDeviation="0.9"/></filter><filter id="nt" x="-30%" y="-30%" width="160%" height="160%" color-interpolation-filters="sRGB"><feTurbulence type="fractalNoise" baseFrequency="0.7" numOctaves="2" seed="3" result="t"/><feColorMatrix in="t" type="matrix" values="0 0 0 0 0.4  0 0 0 0 0.72  0 0 0 0 1.0  3.2 0 0 0 -1.5" result="c"/><feComposite in="c" in2="SourceAlpha" operator="in" result="m"/><feGaussianBlur in="m" stdDeviation="0.5"/></filter><filter id="hz" x="-30%" y="-30%" width="160%" height="160%"><feGaussianBlur stdDeviation="4"/></filter><clipPath id="c1"><rect x="16.2" y="441.0" width="104.5" height="104.4"/></clipPath><clipPath id="c2"><rect x="127.0" y="441.0" width="104.3" height="104.4"/></clipPath><clipPath id="c3"><rect x="236.3" y="441.0" width="104.7" height="104.4"/></clipPath></defs>
<text x="69.3" y="439.28" font-size="8.8" font-weight="bold" fill="#222" text-anchor="middle">TAMEM<tspan font-size="5.2" dy="-2.6">C-m</tspan><tspan dy="2.6">-CM</tspan></text>
<text x="174.20" y="438.68" font-size="8.8" text-anchor="middle" font-weight="bold" fill="#222">TAMEM-CM</text>
<text x="285.80" y="438.68" font-size="8.8" text-anchor="middle" font-weight="bold" fill="#222">Normal Medium</text>
<text transform="translate(14.4 492.5) rotate(-90)" font-size="7.0" font-weight="bold" text-anchor="middle"><tspan fill="#3a8fd0">DAPI</tspan><tspan fill="#222">/</tspan><tspan fill="#e23030">COL1A1</tspan><tspan fill="#222">/</tspan><tspan fill="#3db84a">α-SMA</tspan></text>
<rect x="16.20" y="441.00" width="104.50" height="104.40" fill="#040404"/>
<g clip-path="url(#c1)">
<ellipse cx="38" cy="480" rx="20" ry="28" fill="#2a1238" opacity="0.55" filter="url(#hz)"/>
<path d="M63.0 498.9h0.8v0.8h-0.8zM111.9 489.1h0.8v0.8h-0.8zM68.8 501.7h0.8v0.8h-0.8zM35.3 493.9h0.8v0.8h-0.8zM81.4 523.0h0.8v0.8h-0.8zM25.9 472.4h0.8v0.8h-0.8zM25.6 524.7h0.8v0.8h-0.8zM88.0 445.3h0.8v0.8h-0.8zM117.9 540.8h0.8v0.8h-0.8zM83.9 504.6h0.8v0.8h-0.8zM32.5 442.6h0.8v0.8h-0.8zM70.9 447.2h0.8v0.8h-0.8zM35.9 466.0h0.8v0.8h-0.8zM19.3 489.0h0.8v0.8h-0.8zM61.8 528.1h0.8v0.8h-0.8zM69.9 507.2h0.8v0.8h-0.8zM67.9 509.5h0.8v0.8h-0.8zM63.5 469.8h0.8v0.8h-0.8zM119.5 544.0h0.8v0.8h-0.8zM103.2 514.2h0.8v0.8h-0.8zM48.8 464.7h0.8v0.8h-0.8zM46.1 448.3h0.8v0.8h-0.8zM95.5 482.4h0.8v0.8h-0.8zM103.8 481.0h0.8v0.8h-0.8zM115.4 528.6h0.8v0.8h-0.8zM16.3 462.7h0.8v0.8h-0.8zM110.4 489.6h0.8v0.8h-0.8zM117.7 482.1h0.8v0.8h-0.8zM23.8 506.1h0.8v0.8h-0.8zM96.8 468.9h0.8v0.8h-0.8zM25.2 475.4h0.8v0.8h-0.8zM116.0 519.4h0.8v0.8h-0.8zM28.4 466.5h0.8v0.8h-0.8zM26.7 447.2h0.8v0.8h-0.8zM98.7 459.4h0.8v0.8h-0.8zM74.1 487.3h0.8v0.8h-0.8zM35.9 516.7h0.8v0.8h-0.8zM29.8 507.6h0.8v0.8h-0.8zM28.3 484.5h0.8v0.8h-0.8zM38.2 468.9h0.8v0.8h-0.8zM116.7 524.1h0.8v0.8h-0.8zM47.7 532.5h0.8v0.8h-0.8zM38.0 481.8h0.8v0.8h-0.8zM104.6 507.4h0.8v0.8h-0.8zM26.6 543.3h0.8v0.8h-0.8zM38.3 467.7h0.8v0.8h-0.8zM96.2 475.0h0.8v0.8h-0.8zM46.9 448.6h0.8v0.8h-0.8zM25.5 501.3h0.8v0.8h-0.8zM41.4 503.2h0.8v0.8h-0.8zM54.7 487.9h0.8v0.8h-0.8zM115.5 491.0h0.8v0.8h-0.8zM75.7 530.6h0.8v0.8h-0.8zM35.1 456.9h0.8v0.8h-0.8zM110.2 525.6h0.8v0.8h-0.8zM42.0 460.6h0.8v0.8h-0.8zM92.7 538.2h0.8v0.8h-0.8zM36.5 539.2h0.8v0.8h-0.8zM107.5 503.4h0.8v0.8h-0.8zM59.8 451.7h0.8v0.8h-0.8z" fill="#a02020" opacity="0.55"/>
<path d="M26.6 513.9C26.9 510.8 30.4 507.6 32.8 503.5C35.2 499.4 38.9 493.5 41.1 489.0C43.4 484.5 44.7 480.0 46.3 476.5C47.9 473.0 48.6 470.3 50.5 468.2C52.4 466.1 55.6 465.7 57.7 464.1C59.8 462.6 60.8 460.1 62.9 458.9C65.0 457.7 67.6 457.3 70.2 456.8C72.8 456.3 76.1 455.3 78.5 455.8C80.9 456.3 82.6 457.5 84.7 459.9C86.8 462.3 89.8 466.5 91.0 470.3C92.2 474.1 92.0 478.6 92.0 482.7C92.0 486.8 90.8 491.2 91.0 495.2C91.2 499.2 91.8 503.1 93.0 506.6C94.2 510.1 97.2 512.7 98.2 516.0C99.2 519.3 99.5 522.8 99.3 526.3C99.1 529.8 98.9 533.8 97.2 536.7C95.5 539.7 93.1 542.6 88.9 544.0C84.8 545.4 77.8 545.2 72.3 545.0C66.8 544.8 60.6 544.7 55.7 543.0C50.9 541.3 47.4 538.1 43.2 534.6C39.1 531.1 33.6 525.7 30.8 522.2C28.0 518.8 26.3 517.0 26.6 513.9Z" fill="#fff" filter="url(#cf1)" opacity="0.7"/>
<defs><clipPath id="cc1"><path d="M26.6 513.9C26.9 510.8 30.4 507.6 32.8 503.5C35.2 499.4 38.9 493.5 41.1 489.0C43.4 484.5 44.7 480.0 46.3 476.5C47.9 473.0 48.6 470.3 50.5 468.2C52.4 466.1 55.6 465.7 57.7 464.1C59.8 462.6 60.8 460.1 62.9 458.9C65.0 457.7 67.6 457.3 70.2 456.8C72.8 456.3 76.1 455.3 78.5 455.8C80.9 456.3 82.6 457.5 84.7 459.9C86.8 462.3 89.8 466.5 91.0 470.3C92.2 474.1 92.0 478.6 92.0 482.7C92.0 486.8 90.8 491.2 91.0 495.2C91.2 499.2 91.8 503.1 93.0 506.6C94.2 510.1 97.2 512.7 98.2 516.0C99.2 519.3 99.5 522.8 99.3 526.3C99.1 529.8 98.9 533.8 97.2 536.7C95.5 539.7 93.1 542.6 88.9 544.0C84.8 545.4 77.8 545.2 72.3 545.0C66.8 544.8 60.6 544.7 55.7 543.0C50.9 541.3 47.4 538.1 43.2 534.6C39.1 531.1 33.6 525.7 30.8 522.2C28.0 518.8 26.3 517.0 26.6 513.9Z"/></clipPath></defs>
<g clip-path="url(#cc1)" filter="url(#gb)"><path d="M27.7 514.4C28.0 511.3 31.8 507.8 34.1 503.8C36.5 499.8 39.7 495.0 42.0 490.5C44.3 486.1 46.5 480.5 47.9 477.2C49.3 473.9 49.1 472.7 50.6 470.7C52.1 468.7 54.9 466.7 57.0 465.4C59.2 464.0 61.2 463.5 63.4 462.3C65.6 461.2 67.8 459.5 70.4 458.6C73.1 457.8 77.2 457.0 79.1 457.5C81.1 458.0 80.5 459.3 82.3 461.5C84.0 463.7 88.3 467.1 89.5 470.7C90.7 474.3 89.5 479.3 89.6 483.3C89.7 487.2 89.6 490.3 89.9 494.3C90.1 498.3 89.8 503.8 91.1 507.3C92.4 510.8 96.7 512.5 97.9 515.4C99.0 518.4 98.6 522.0 98.0 524.9C97.4 527.8 96.4 530.1 94.4 533.0C92.4 536.0 89.8 540.7 86.2 542.5C82.6 544.3 77.9 543.9 72.7 543.6C67.5 543.3 59.7 542.5 55.0 540.7C50.4 539.0 48.4 536.2 44.7 533.1C40.9 530.1 35.3 525.4 32.5 522.3C29.7 519.2 27.4 517.4 27.7 514.4Z" stroke="#3cc23c" stroke-width="1.5" opacity="0.65" fill="none"/><path d="M30.8 512.0C31.3 509.4 35.7 507.6 38.1 504.1C40.6 500.5 43.4 494.8 45.4 490.9C47.3 487.0 48.9 483.6 50.0 480.6C51.2 477.6 50.7 474.5 52.4 472.7C54.1 470.9 58.5 471.0 60.3 469.7C62.1 468.4 61.6 466.1 63.4 464.9C65.2 463.7 68.7 463.1 71.1 462.5C73.4 461.8 75.6 460.5 77.6 461.0C79.5 461.5 81.3 463.0 82.8 465.3C84.4 467.5 85.5 471.0 86.8 474.4C88.1 477.8 90.1 482.4 90.4 485.9C90.7 489.4 88.7 492.0 88.7 495.3C88.8 498.6 89.6 502.6 90.5 505.8C91.4 509.0 93.6 511.8 94.1 514.8C94.7 517.7 94.4 520.6 94.0 523.4C93.7 526.3 93.3 529.7 92.0 532.1C90.7 534.4 89.4 536.1 86.2 537.3C82.9 538.4 77.1 538.8 72.4 539.0C67.6 539.2 62.1 540.2 57.7 538.5C53.2 536.7 49.5 531.6 45.7 528.5C42.0 525.3 37.6 522.4 35.1 519.7C32.6 516.9 30.2 514.6 30.8 512.0Z" stroke="#3cc23c" stroke-width="1.1" opacity="0.45" fill="none"/><path d="M35.3 509.4C36.0 507.3 40.2 505.7 42.2 502.9C44.2 500.0 45.8 495.8 47.2 492.4C48.6 488.9 49.8 485.0 50.9 482.1C51.9 479.2 52.0 476.5 53.7 475.0C55.4 473.5 59.1 474.5 61.1 473.3C63.0 472.1 63.8 468.9 65.3 467.7C66.8 466.4 68.4 466.2 70.0 465.9C71.7 465.5 73.1 465.0 75.1 465.6C77.1 466.3 80.1 467.8 82.0 469.8C83.8 471.9 85.8 475.6 86.4 478.2C87.1 480.7 86.0 482.5 85.9 485.4C85.8 488.2 85.5 492.1 85.6 495.3C85.7 498.5 85.5 501.7 86.5 504.5C87.5 507.3 90.9 509.2 91.7 512.0C92.6 514.7 91.6 518.3 91.6 520.9C91.7 523.6 93.5 525.9 92.0 527.8C90.6 529.7 86.1 531.3 82.9 532.2C79.6 533.0 76.5 532.8 72.5 533.0C68.6 533.1 63.3 534.0 59.2 533.0C55.2 532.0 52.0 530.1 48.4 527.2C44.9 524.3 40.2 518.6 38.0 515.7C35.8 512.7 34.6 511.5 35.3 509.4Z" stroke="#3cc23c" stroke-width="0.9" opacity="0.3" fill="none"/><path d="M42.3 506.7C42.6 504.7 46.0 503.4 47.3 500.9C48.6 498.3 49.1 494.0 50.4 491.3C51.7 488.6 53.9 486.6 55.1 484.7C56.3 482.9 56.4 481.2 57.7 480.2C58.9 479.2 61.4 479.8 62.7 478.6C64.0 477.4 64.4 474.2 65.5 473.1C66.7 471.9 68.2 471.9 69.4 471.7C70.7 471.5 71.6 471.7 73.2 472.0C74.8 472.3 77.7 472.2 79.1 473.6C80.6 475.1 81.0 478.1 81.7 480.6C82.5 483.1 83.4 486.0 83.6 488.8C83.8 491.6 82.8 494.7 82.7 497.3C82.7 499.9 82.4 502.6 83.3 504.4C84.2 506.3 87.2 506.1 88.1 508.1C89.0 510.2 89.3 514.1 88.8 516.4C88.3 518.8 86.4 520.2 85.1 522.1C83.9 524.0 83.9 527.1 81.5 528.0C79.0 528.9 73.7 527.7 70.4 527.6C67.1 527.4 64.4 528.1 61.6 527.0C58.9 525.9 56.8 523.3 54.1 520.8C51.4 518.4 47.5 514.7 45.5 512.3C43.6 510.0 42.0 508.6 42.3 506.7Z" stroke="#3cc23c" stroke-width="0.8" opacity="0.2" fill="none"/><path d="M43.2 534.6L56.3 507.9M91.0 495.2L80.1 497.9M91.0 470.3L84.0 476.9M97.2 536.7L87.0 524.5M78.5 455.8L68.8 480.1M41.1 489.0L49.3 493.9M30.8 522.2L50.3 504.2M97.2 536.7L78.3 513.3M98.2 516.0L77.9 508.7M41.1 489.0L56.9 495.4M88.9 544.0L77.7 522.2M88.9 544.0L82.3 530.3M55.7 543.0L64.1 530.7" stroke="#3cc23c" stroke-width="1.0" opacity="0.5" fill="none"/></g>
<path d="M26.6 513.9C26.9 510.8 30.4 507.6 32.8 503.5C35.2 499.4 38.9 493.5 41.1 489.0C43.4 484.5 44.7 480.0 46.3 476.5C47.9 473.0 48.6 470.3 50.5 468.2C52.4 466.1 55.6 465.7 57.7 464.1C59.8 462.6 60.8 460.1 62.9 458.9C65.0 457.7 67.6 457.3 70.2 456.8C72.8 456.3 76.1 455.3 78.5 455.8C80.9 456.3 82.6 457.5 84.7 459.9C86.8 462.3 89.8 466.5 91.0 470.3C92.2 474.1 92.0 478.6 92.0 482.7C92.0 486.8 90.8 491.2 91.0 495.2C91.2 499.2 91.8 503.1 93.0 506.6C94.2 510.1 97.2 512.7 98.2 516.0C99.2 519.3 99.5 522.8 99.3 526.3C99.1 529.8 98.9 533.8 97.2 536.7C95.5 539.7 93.1 542.6 88.9 544.0C84.8 545.4 77.8 545.2 72.3 545.0C66.8 544.8 60.6 544.7 55.7 543.0C50.9 541.3 47.4 538.1 43.2 534.6C39.1 531.1 33.6 525.7 30.8 522.2C28.0 518.8 26.3 517.0 26.6 513.9Z" fill="none" stroke="#44d046" stroke-width="2.0" stroke-linejoin="round" opacity="1.0" filter="url(#ge)"/>
<path d="M97.2 439.0C101.5 437.6 117.9 432.8 122.0 439.0C126.1 445.2 123.4 468.5 122.0 476.5C120.6 484.5 116.5 484.6 113.8 486.9C111.0 489.1 107.6 490.7 105.5 490.0C103.4 489.3 102.7 486.7 101.3 482.7C99.9 478.7 98.0 472.0 97.2 466.1C96.4 460.2 96.2 452.0 96.2 447.5C96.2 443.0 92.9 440.4 97.2 439.0Z" fill="#fff" filter="url(#cf2)" opacity="0.7"/>
<defs><clipPath id="cc2"><path d="M97.2 439.0C101.5 437.6 117.9 432.8 122.0 439.0C126.1 445.2 123.4 468.5 122.0 476.5C120.6 484.5 116.5 484.6 113.8 486.9C111.0 489.1 107.6 490.7 105.5 490.0C103.4 489.3 102.7 486.7 101.3 482.7C99.9 478.7 98.0 472.0 97.2 466.1C96.4 460.2 96.2 452.0 96.2 447.5C96.2 443.0 92.9 440.4 97.2 439.0Z"/></clipPath></defs>
<g clip-path="url(#cc2)" filter="url(#gb)"><path d="M97.9 440.8C102.0 439.5 116.3 434.8 120.2 440.7C124.1 446.6 122.5 468.5 121.1 476.2C119.7 483.9 114.5 485.0 112.0 487.1C109.4 489.1 107.2 489.1 105.6 488.3C104.1 487.4 103.9 485.5 102.5 481.9C101.2 478.3 98.9 472.2 97.8 466.7C96.6 461.1 95.5 453.0 95.5 448.7C95.6 444.4 93.7 442.2 97.9 440.8Z" stroke="#3cc23c" stroke-width="1.5" opacity="0.65" fill="none"/><path d="M98.2 443.9C102.3 442.4 117.7 436.8 121.3 441.8C124.9 446.8 121.4 466.8 120.0 474.0C118.5 481.2 114.9 483.0 112.7 485.1C110.5 487.3 108.8 487.7 106.9 486.8C105.0 485.9 102.8 482.8 101.5 479.6C100.1 476.4 99.6 472.2 98.8 467.4C98.0 462.5 96.6 454.7 96.5 450.7C96.4 446.8 94.1 445.4 98.2 443.9Z" stroke="#3cc23c" stroke-width="1.1" opacity="0.45" fill="none"/><path d="M98.0 444.3C101.2 443.3 114.4 440.9 117.7 445.8C121.0 450.7 118.8 467.8 118.0 473.6C117.1 479.5 114.5 479.3 112.6 480.9C110.7 482.5 108.2 483.8 106.5 483.3C104.9 482.9 104.0 481.0 102.6 478.1C101.3 475.2 99.2 470.6 98.5 466.2C97.8 461.7 98.6 455.0 98.5 451.4C98.4 447.7 94.8 445.2 98.0 444.3Z" stroke="#3cc23c" stroke-width="0.9" opacity="0.3" fill="none"/><path d="M100.6 449.3C103.2 448.4 112.6 444.4 115.2 448.4C117.9 452.3 117.3 467.6 116.7 472.9C116.0 478.2 113.0 478.5 111.3 480.0C109.6 481.5 107.8 482.4 106.4 481.9C104.9 481.4 103.4 479.5 102.6 477.1C101.9 474.6 102.3 471.1 101.8 467.3C101.3 463.4 99.9 456.9 99.7 454.0C99.5 451.0 98.0 450.3 100.6 449.3Z" stroke="#3cc23c" stroke-width="0.8" opacity="0.2" fill="none"/><path d="M113.8 486.9L116.1 482.7M122.0 476.5L108.4 465.5M97.2 466.1L103.8 465.3M122.0 476.5L117.5 475.5" stroke="#3cc23c" stroke-width="1.0" opacity="0.5" fill="none"/></g>
<path d="M97.2 439.0C101.5 437.6 117.9 432.8 122.0 439.0C126.1 445.2 123.4 468.5 122.0 476.5C120.6 484.5 116.5 484.6 113.8 486.9C111.0 489.1 107.6 490.7 105.5 490.0C103.4 489.3 102.7 486.7 101.3 482.7C99.9 478.7 98.0 472.0 97.2 466.1C96.4 460.2 96.2 452.0 96.2 447.5C96.2 443.0 92.9 440.4 97.2 439.0Z" fill="none" stroke="#44d046" stroke-width="2.0" stroke-linejoin="round" opacity="1.0" filter="url(#ge)"/>
<path d="M48 476Q56 466 60 457M55 472Q63 462 70 455M62 470Q70 462 80 456M45 480Q52 470 54 462M66 468Q76 463 86 461" stroke="#44d046" stroke-width="1.4" opacity="0.55" fill="none" filter="url(#gb)"/>
<g transform="rotate(8 68 498)"><ellipse cx="68" cy="498" rx="19" ry="10.5" fill="#2c50e8" filter="url(#nb)"/><ellipse cx="68" cy="498" rx="16.15" ry="8.924999999999999" fill="#fff" filter="url(#nt)" opacity="0.85"/></g>
<ellipse cx="114" cy="448" rx="8" ry="6" fill="#3060d0" opacity="0.55" filter="url(#nb)"/>
</g>
<line x1="97.20" y1="541.90" x2="118.00" y2="541.90" stroke="#ffffff" stroke-width="1.3"/>
<rect x="127.00" y="441.00" width="104.30" height="104.40" fill="#040404"/>
<g clip-path="url(#c2)">
<path d="M136.9 499.9h0.8v0.8h-0.8zM163.9 525.9h0.8v0.8h-0.8zM164.3 513.9h0.8v0.8h-0.8zM192.6 476.5h0.8v0.8h-0.8zM230.2 527.1h0.8v0.8h-0.8zM209.9 490.8h0.8v0.8h-0.8zM129.5 519.8h0.8v0.8h-0.8zM190.4 534.6h0.8v0.8h-0.8zM176.7 460.6h0.8v0.8h-0.8zM138.9 458.8h0.8v0.8h-0.8zM143.3 470.3h0.8v0.8h-0.8zM196.5 500.9h0.8v0.8h-0.8zM140.9 511.4h0.8v0.8h-0.8zM135.0 451.0h0.8v0.8h-0.8zM167.4 485.1h0.8v0.8h-0.8zM163.6 462.7h0.8v0.8h-0.8zM165.5 506.6h0.8v0.8h-0.8zM131.2 461.7h0.8v0.8h-0.8zM169.1 478.2h0.8v0.8h-0.8zM165.2 536.3h0.8v0.8h-0.8zM189.5 450.8h0.8v0.8h-0.8zM208.8 474.5h0.8v0.8h-0.8zM135.8 528.1h0.8v0.8h-0.8zM217.5 535.0h0.8v0.8h-0.8zM224.1 499.9h0.8v0.8h-0.8zM146.7 501.4h0.8v0.8h-0.8zM162.2 519.8h0.8v0.8h-0.8zM155.9 453.0h0.8v0.8h-0.8zM203.7 457.5h0.8v0.8h-0.8zM223.5 454.8h0.8v0.8h-0.8zM161.1 496.7h0.8v0.8h-0.8zM165.2 485.6h0.8v0.8h-0.8zM145.8 462.4h0.8v0.8h-0.8zM146.1 523.4h0.8v0.8h-0.8zM158.2 451.4h0.8v0.8h-0.8zM218.7 543.4h0.8v0.8h-0.8zM220.2 446.1h0.8v0.8h-0.8zM155.2 540.4h0.8v0.8h-0.8zM157.9 463.3h0.8v0.8h-0.8zM169.0 459.8h0.8v0.8h-0.8zM134.9 494.2h0.8v0.8h-0.8zM178.4 463.0h0.8v0.8h-0.8zM139.4 481.9h0.8v0.8h-0.8zM186.4 452.9h0.8v0.8h-0.8zM138.2 465.5h0.8v0.8h-0.8zM172.8 493.2h0.8v0.8h-0.8zM205.6 508.0h0.8v0.8h-0.8zM128.1 467.7h0.8v0.8h-0.8zM155.5 476.2h0.8v0.8h-0.8zM182.8 484.0h0.8v0.8h-0.8z" fill="#a02020" opacity="0.55"/>
<path d="M146.9 444.3C150.0 443.3 157.3 451.4 163.5 453.7C169.7 455.9 177.4 457.6 184.3 457.8C191.2 458.0 199.5 456.4 205.0 454.7C210.5 453.0 216.1 446.3 217.5 447.5C218.9 448.7 212.6 457.9 213.3 462.0C214.0 466.1 220.6 468.6 221.6 472.4C222.6 476.2 221.3 480.3 219.6 484.8C217.9 489.3 213.4 493.9 211.3 499.4C209.2 504.9 208.8 513.5 207.1 518.0C205.4 522.5 204.7 523.9 200.9 526.3C197.1 528.7 189.5 531.7 184.3 532.6C179.1 533.5 174.5 530.5 169.7 531.5C164.8 532.5 159.3 538.6 155.2 538.8C151.0 539.0 147.1 535.4 144.8 532.6C142.6 529.8 141.3 526.0 141.7 522.2C142.0 518.4 146.4 514.5 146.9 509.7C147.4 504.8 144.5 498.6 144.8 493.1C145.2 487.6 149.0 482.0 149.0 476.5C149.0 471.0 145.2 465.3 144.8 459.9C144.5 454.5 143.8 445.3 146.9 444.3Z" fill="#fff" filter="url(#cf3)" opacity="0.7"/>
<defs><clipPath id="cc3"><path d="M146.9 444.3C150.0 443.3 157.3 451.4 163.5 453.7C169.7 455.9 177.4 457.6 184.3 457.8C191.2 458.0 199.5 456.4 205.0 454.7C210.5 453.0 216.1 446.3 217.5 447.5C218.9 448.7 212.6 457.9 213.3 462.0C214.0 466.1 220.6 468.6 221.6 472.4C222.6 476.2 221.3 480.3 219.6 484.8C217.9 489.3 213.4 493.9 211.3 499.4C209.2 504.9 208.8 513.5 207.1 518.0C205.4 522.5 204.7 523.9 200.9 526.3C197.1 528.7 189.5 531.7 184.3 532.6C179.1 533.5 174.5 530.5 169.7 531.5C164.8 532.5 159.3 538.6 155.2 538.8C151.0 539.0 147.1 535.4 144.8 532.6C142.6 529.8 141.3 526.0 141.7 522.2C142.0 518.4 146.4 514.5 146.9 509.7C147.4 504.8 144.5 498.6 144.8 493.1C145.2 487.6 149.0 482.0 149.0 476.5C149.0 471.0 145.2 465.3 144.8 459.9C144.5 454.5 143.8 445.3 146.9 444.3Z"/></clipPath></defs>
<g clip-path="url(#cc3)" filter="url(#gb)"><path d="M148.9 448.1C151.4 447.3 157.3 453.8 163.2 455.8C169.1 457.7 177.6 459.5 184.4 459.9C191.2 460.3 198.8 459.7 203.9 458.2C209.0 456.8 213.7 450.3 214.8 451.4C216.0 452.6 210.0 461.4 210.9 465.1C211.8 468.8 219.0 470.3 220.1 473.6C221.2 476.9 219.2 480.9 217.4 485.0C215.6 489.1 211.4 493.1 209.3 498.2C207.3 503.4 206.7 511.5 205.1 515.8C203.5 520.1 203.3 521.5 199.7 524.1C196.0 526.7 188.1 530.4 183.3 531.4C178.4 532.3 175.4 528.9 170.7 529.8C166.0 530.7 159.1 536.6 155.2 536.7C151.2 536.9 149.0 533.1 147.1 530.5C145.2 527.9 143.6 524.6 143.6 520.9C143.7 517.1 147.0 512.6 147.5 508.0C147.9 503.4 145.9 498.4 146.5 493.2C147.2 488.0 151.2 482.2 151.4 476.8C151.6 471.4 148.2 465.7 147.7 460.9C147.3 456.1 146.3 449.0 148.9 448.1Z" stroke="#3cc23c" stroke-width="1.5" opacity="0.65" fill="none"/><path d="M151.7 449.6C154.7 448.6 161.1 454.9 166.2 457.2C171.3 459.4 176.3 462.8 182.4 463.0C188.5 463.2 197.6 460.1 202.8 458.3C208.0 456.6 212.7 451.4 213.8 452.4C214.9 453.4 209.1 460.9 209.4 464.4C209.7 468.0 214.8 470.2 215.8 473.7C216.8 477.1 217.0 481.1 215.4 485.2C213.7 489.2 208.2 493.0 206.0 497.9C203.8 502.7 203.6 510.2 202.3 514.2C201.0 518.3 201.3 520.0 198.3 522.1C195.3 524.2 188.6 525.9 184.1 526.8C179.7 527.6 176.1 526.3 171.6 527.2C167.1 528.0 161.1 531.9 157.2 531.9C153.2 531.9 149.9 529.5 148.1 527.1C146.3 524.7 146.0 520.7 146.5 517.6C147.0 514.4 150.7 512.4 151.0 508.3C151.4 504.2 148.1 498.0 148.5 493.1C148.9 488.3 153.6 483.9 153.5 479.0C153.5 474.0 148.6 468.2 148.3 463.3C148.0 458.4 148.7 450.6 151.7 449.6Z" stroke="#3cc23c" stroke-width="1.1" opacity="0.45" fill="none"/><path d="M153.4 456.4C155.6 455.8 162.2 461.1 167.0 462.7C171.8 464.3 176.7 466.2 182.1 466.0C187.5 465.8 195.0 463.2 199.3 461.6C203.6 459.9 207.1 455.0 207.8 456.1C208.6 457.1 203.4 464.3 203.9 467.8C204.5 471.4 209.8 474.5 211.0 477.4C212.3 480.3 212.8 481.6 211.4 485.2C210.1 488.8 204.8 494.5 203.0 498.9C201.2 503.2 201.8 508.1 200.5 511.3C199.2 514.5 198.4 516.0 195.3 518.1C192.2 520.3 185.7 523.5 181.9 524.1C178.1 524.8 176.0 521.2 172.7 522.0C169.3 522.8 164.8 528.7 161.6 528.8C158.3 528.9 155.2 525.2 153.4 522.8C151.6 520.5 151.0 517.8 150.9 514.7C150.9 511.6 152.7 508.0 153.1 504.3C153.6 500.7 153.2 496.8 153.6 492.9C153.9 488.9 155.2 485.1 155.2 480.6C155.2 476.1 153.8 470.1 153.6 466.1C153.3 462.0 151.2 456.9 153.4 456.4Z" stroke="#3cc23c" stroke-width="0.9" opacity="0.3" fill="none"/><path d="M159.4 462.2C161.6 461.4 165.3 466.0 169.1 467.3C172.9 468.6 177.9 469.8 182.3 470.2C186.6 470.5 191.8 470.3 195.2 469.4C198.6 468.5 202.0 464.5 202.6 465.0C203.2 465.5 198.0 469.9 198.6 472.4C199.3 474.9 205.5 477.3 206.5 479.7C207.5 482.2 205.7 484.4 204.6 487.1C203.5 489.8 200.9 492.4 199.7 495.7C198.5 498.9 198.5 504.1 197.4 506.9C196.3 509.6 195.2 510.8 192.9 512.3C190.6 513.9 186.7 515.5 183.4 516.2C180.0 516.9 175.9 515.5 172.9 516.4C169.9 517.2 168.0 521.1 165.3 521.2C162.6 521.2 158.3 518.7 157.0 516.8C155.6 515.0 157.0 512.3 157.2 510.2C157.4 508.0 157.9 506.9 158.1 504.0C158.3 501.0 158.2 495.8 158.3 492.3C158.5 488.8 159.4 486.3 159.0 483.0C158.7 479.6 156.2 475.7 156.2 472.2C156.3 468.8 157.3 463.1 159.4 462.2Z" stroke="#3cc23c" stroke-width="0.8" opacity="0.2" fill="none"/><path d="M149.0 476.5L159.4 483.7M169.7 531.5L177.7 511.2M213.3 462.0L201.2 475.3M146.9 444.3L154.8 459.0M207.1 518.0L189.1 502.4M184.3 457.8L179.3 475.9M200.9 526.3L195.9 518.5M184.3 457.8L184.1 464.0M155.2 538.8L161.7 522.4M146.9 509.7L160.3 500.0M200.9 526.3L188.2 506.5M184.3 457.8L185.1 476.2M184.3 532.6L183.7 509.2M144.8 532.6L169.3 504.3M146.9 444.3L165.8 472.4M217.5 447.5L198.6 466.1M213.3 462.0L197.3 474.7M211.3 499.4L184.4 491.6M205.0 454.7L190.4 474.1M163.5 453.7L167.8 475.9" stroke="#3cc23c" stroke-width="1.0" opacity="0.5" fill="none"/></g>
<path d="M146.9 444.3C150.0 443.3 157.3 451.4 163.5 453.7C169.7 455.9 177.4 457.6 184.3 457.8C191.2 458.0 199.5 456.4 205.0 454.7C210.5 453.0 216.1 446.3 217.5 447.5C218.9 448.7 212.6 457.9 213.3 462.0C214.0 466.1 220.6 468.6 221.6 472.4C222.6 476.2 221.3 480.3 219.6 484.8C217.9 489.3 213.4 493.9 211.3 499.4C209.2 504.9 208.8 513.5 207.1 518.0C205.4 522.5 204.7 523.9 200.9 526.3C197.1 528.7 189.5 531.7 184.3 532.6C179.1 533.5 174.5 530.5 169.7 531.5C164.8 532.5 159.3 538.6 155.2 538.8C151.0 539.0 147.1 535.4 144.8 532.6C142.6 529.8 141.3 526.0 141.7 522.2C142.0 518.4 146.4 514.5 146.9 509.7C147.4 504.8 144.5 498.6 144.8 493.1C145.2 487.6 149.0 482.0 149.0 476.5C149.0 471.0 145.2 465.3 144.8 459.9C144.5 454.5 143.8 445.3 146.9 444.3Z" fill="none" stroke="#44d046" stroke-width="2.4" stroke-linejoin="round" opacity="1.0" filter="url(#ge)"/>
<path d="M125.0 481.0C126.3 471.5 130.4 484.9 133.0 490.0C135.6 495.1 138.6 506.5 140.8 511.8C143.0 517.1 144.0 519.0 146.0 522.0C148.0 525.0 151.0 527.0 153.0 530.0C155.0 533.0 156.8 537.2 158.0 540.0C159.2 542.8 165.5 545.8 160.0 547.0C154.5 548.2 130.8 558.0 125.0 547.0C119.2 536.0 123.7 490.5 125.0 481.0Z" fill="#fff" filter="url(#cf4)" opacity="0.7"/>
<defs><clipPath id="cc4"><path d="M125.0 481.0C126.3 471.5 130.4 484.9 133.0 490.0C135.6 495.1 138.6 506.5 140.8 511.8C143.0 517.1 144.0 519.0 146.0 522.0C148.0 525.0 151.0 527.0 153.0 530.0C155.0 533.0 156.8 537.2 158.0 540.0C159.2 542.8 165.5 545.8 160.0 547.0C154.5 548.2 130.8 558.0 125.0 547.0C119.2 536.0 123.7 490.5 125.0 481.0Z"/></clipPath></defs>
<g clip-path="url(#cc4)" filter="url(#gb)"><path d="M127.0 482.8C127.8 473.8 130.3 486.5 132.7 491.4C135.0 496.4 139.0 507.6 141.2 512.7C143.3 517.7 143.9 519.0 145.7 522.0C147.5 525.0 150.4 527.6 152.2 530.6C154.0 533.7 155.4 537.6 156.8 540.1C158.1 542.6 165.2 544.9 160.3 545.8C155.4 546.7 132.9 556.1 127.4 545.6C121.8 535.1 126.1 491.9 127.0 482.8Z" stroke="#3cc23c" stroke-width="1.5" opacity="0.65" fill="none"/><path d="M128.3 486.2C129.3 478.0 131.8 490.8 134.0 495.4C136.2 500.0 139.8 509.2 141.5 513.8C143.2 518.4 142.7 520.6 144.3 523.0C146.0 525.3 149.6 525.4 151.3 528.0C153.1 530.6 153.6 535.7 154.9 538.4C156.2 541.2 163.6 543.5 159.2 544.5C154.7 545.5 133.2 554.2 128.1 544.5C123.0 534.8 127.4 494.3 128.3 486.2Z" stroke="#3cc23c" stroke-width="1.1" opacity="0.45" fill="none"/><path d="M127.7 491.5C129.1 484.2 133.9 494.6 136.4 498.3C138.8 502.0 141.1 509.9 142.4 513.8C143.8 517.7 142.9 519.2 144.5 521.6C146.0 523.9 149.9 525.5 151.7 527.7C153.5 529.9 154.4 532.2 155.3 534.6C156.2 537.0 161.8 540.8 157.2 542.0C152.7 543.2 132.9 550.2 127.9 541.8C123.0 533.4 126.3 498.7 127.7 491.5Z" stroke="#3cc23c" stroke-width="0.9" opacity="0.3" fill="none"/><path d="M132.0 496.3C132.9 490.3 133.9 499.0 135.3 502.0C136.7 505.1 138.7 511.4 140.5 514.4C142.3 517.5 144.7 518.7 146.0 520.6C147.2 522.6 146.8 524.1 147.9 526.2C149.0 528.2 151.4 531.0 152.5 532.9C153.6 534.8 158.2 536.9 154.6 537.7C150.9 538.6 134.2 544.8 130.4 537.9C126.7 531.0 131.2 502.3 132.0 496.3Z" stroke="#3cc23c" stroke-width="0.8" opacity="0.2" fill="none"/><path d="M153.0 530.0L146.7 524.2M133.0 490.0L138.3 504.4M160.0 547.0L147.7 537.1" stroke="#3cc23c" stroke-width="1.0" opacity="0.5" fill="none"/></g>
<path d="M125.0 481.0C126.3 471.5 130.4 484.9 133.0 490.0C135.6 495.1 138.6 506.5 140.8 511.8C143.0 517.1 144.0 519.0 146.0 522.0C148.0 525.0 151.0 527.0 153.0 530.0C155.0 533.0 156.8 537.2 158.0 540.0C159.2 542.8 165.5 545.8 160.0 547.0C154.5 548.2 130.8 558.0 125.0 547.0C119.2 536.0 123.7 490.5 125.0 481.0Z" fill="none" stroke="#44d046" stroke-width="2.0" stroke-linejoin="round" opacity="1.0" filter="url(#ge)"/>
<g transform="rotate(-15 185.8 482.5)"><ellipse cx="185.8" cy="482.5" rx="15" ry="16.8" fill="#2c50e8" filter="url(#nb)"/><ellipse cx="185.8" cy="482.5" rx="12.75" ry="14.28" fill="#fff" filter="url(#nt)" opacity="0.85"/></g>
<ellipse cx="130" cy="521" rx="6" ry="7.5" fill="#2f5ee0" opacity="0.9" filter="url(#nb)"/>
</g>
<line x1="207.10" y1="541.90" x2="227.90" y2="541.90" stroke="#ffffff" stroke-width="1.3"/>
<rect x="236.30" y="441.00" width="104.70" height="104.40" fill="#040404"/>
<g clip-path="url(#c3)">
<path d="M268.6 473.1h0.8v0.8h-0.8zM244.2 472.6h0.8v0.8h-0.8zM284.8 514.9h0.8v0.8h-0.8zM273.6 512.0h0.8v0.8h-0.8zM247.3 481.8h0.8v0.8h-0.8zM284.2 541.0h0.8v0.8h-0.8zM322.3 508.6h0.8v0.8h-0.8zM237.6 480.0h0.8v0.8h-0.8zM309.9 465.6h0.8v0.8h-0.8zM294.8 488.4h0.8v0.8h-0.8zM237.4 543.5h0.8v0.8h-0.8zM319.2 462.4h0.8v0.8h-0.8zM300.2 471.0h0.8v0.8h-0.8zM275.3 496.8h0.8v0.8h-0.8zM267.2 475.9h0.8v0.8h-0.8zM277.0 509.9h0.8v0.8h-0.8zM262.9 461.7h0.8v0.8h-0.8zM312.2 475.1h0.8v0.8h-0.8zM334.3 499.2h0.8v0.8h-0.8zM311.4 475.3h0.8v0.8h-0.8zM322.0 450.5h0.8v0.8h-0.8zM250.9 450.8h0.8v0.8h-0.8zM306.6 514.2h0.8v0.8h-0.8zM255.0 482.6h0.8v0.8h-0.8zM323.1 502.3h0.8v0.8h-0.8z" fill="#a02020" opacity="0.55"/>
<path d="M302.6 439.0C304.4 436.3 305.9 436.2 305.0 439.0C304.1 441.8 298.2 451.5 297.5 456.0C296.8 460.5 299.3 462.7 300.5 466.1C301.7 469.5 303.3 472.7 304.7 476.5C306.1 480.3 307.4 484.9 308.8 489.0C310.2 493.1 311.9 497.6 313.0 501.4C314.1 505.2 316.9 510.6 315.5 512.0C314.1 513.4 308.2 509.7 304.7 509.7C301.2 509.7 297.8 510.8 294.3 511.8C290.8 512.9 286.2 513.6 283.9 516.0C281.6 518.4 281.3 522.5 280.5 526.3C279.7 530.1 279.7 536.9 279.2 539.0C278.7 541.1 278.1 541.1 277.5 539.0C276.9 536.9 276.6 530.5 275.6 526.3C274.6 522.1 273.5 518.0 271.4 513.9C269.3 509.8 266.2 504.5 263.1 501.4C260.0 498.3 256.1 496.6 252.8 495.2C249.5 493.8 244.8 493.8 243.4 492.8C242.0 491.8 242.2 490.2 244.5 489.4C246.8 488.6 252.7 489.3 256.9 488.0C261.0 486.7 265.6 484.1 269.4 481.7C273.2 479.3 276.2 476.7 279.7 473.4C283.1 470.1 287.6 465.1 290.1 462.0C292.6 458.9 292.4 458.8 294.5 455.0C296.6 451.2 300.9 441.7 302.6 439.0Z" fill="#fff" filter="url(#cf5)" opacity="0.38"/>
<defs><clipPath id="cc5"><path d="M302.6 439.0C304.4 436.3 305.9 436.2 305.0 439.0C304.1 441.8 298.2 451.5 297.5 456.0C296.8 460.5 299.3 462.7 300.5 466.1C301.7 469.5 303.3 472.7 304.7 476.5C306.1 480.3 307.4 484.9 308.8 489.0C310.2 493.1 311.9 497.6 313.0 501.4C314.1 505.2 316.9 510.6 315.5 512.0C314.1 513.4 308.2 509.7 304.7 509.7C301.2 509.7 297.8 510.8 294.3 511.8C290.8 512.9 286.2 513.6 283.9 516.0C281.6 518.4 281.3 522.5 280.5 526.3C279.7 530.1 279.7 536.9 279.2 539.0C278.7 541.1 278.1 541.1 277.5 539.0C276.9 536.9 276.6 530.5 275.6 526.3C274.6 522.1 273.5 518.0 271.4 513.9C269.3 509.8 266.2 504.5 263.1 501.4C260.0 498.3 256.1 496.6 252.8 495.2C249.5 493.8 244.8 493.8 243.4 492.8C242.0 491.8 242.2 490.2 244.5 489.4C246.8 488.6 252.7 489.3 256.9 488.0C261.0 486.7 265.6 484.1 269.4 481.7C273.2 479.3 276.2 476.7 279.7 473.4C283.1 470.1 287.6 465.1 290.1 462.0C292.6 458.9 292.4 458.8 294.5 455.0C296.6 451.2 300.9 441.7 302.6 439.0Z"/></clipPath></defs>
<g clip-path="url(#cc5)" filter="url(#gb)"><path d="M300.3 441.4C302.0 438.8 303.4 438.5 302.7 441.1C302.1 443.6 296.8 452.5 296.4 456.9C296.1 461.3 299.6 463.9 300.8 467.4C302.0 470.9 302.3 474.1 303.5 477.9C304.7 481.7 306.9 486.4 308.1 490.1C309.4 493.9 310.1 497.1 310.9 500.3C311.8 503.5 314.7 507.9 313.4 509.3C312.1 510.8 306.2 508.9 303.2 509.2C300.1 509.6 298.3 510.5 295.1 511.5C292.0 512.4 287.1 512.8 284.4 514.9C281.8 516.9 280.2 520.1 279.3 523.7C278.4 527.4 279.5 534.6 279.0 536.6C278.6 538.6 277.2 537.7 276.7 535.8C276.3 533.9 276.8 528.9 276.2 525.1C275.6 521.3 275.3 516.8 273.2 512.9C271.0 509.0 266.2 504.6 263.4 501.6C260.5 498.7 258.9 496.6 255.9 495.2C252.9 493.7 247.1 493.6 245.4 492.8C243.7 491.9 243.4 490.9 245.8 490.2C248.2 489.5 255.8 489.4 260.0 488.3C264.2 487.1 267.8 485.4 270.9 483.3C274.1 481.3 275.9 479.3 279.1 475.9C282.3 472.4 287.9 466.1 290.1 462.9C292.4 459.7 291.0 460.0 292.6 456.5C294.3 452.9 298.6 443.9 300.3 441.4Z" stroke="#3cc23c" stroke-width="1.5" opacity="0.65" fill="none"/><path d="M300.5 446.5C301.9 444.5 302.7 444.8 301.8 447.2C301.0 449.5 296.1 456.6 295.4 460.6C294.6 464.5 296.3 467.7 297.3 470.9C298.2 474.1 299.5 476.6 301.0 479.7C302.4 482.8 304.3 486.3 305.8 489.6C307.2 492.9 308.3 495.9 309.5 499.5C310.6 503.0 313.8 509.5 312.7 510.9C311.6 512.2 306.5 507.8 303.0 507.7C299.5 507.6 295.2 509.1 291.9 510.2C288.6 511.3 285.3 512.1 283.3 514.1C281.4 516.0 280.6 519.1 280.2 522.1C279.8 525.0 281.1 530.4 280.9 531.9C280.6 533.5 279.5 533.5 278.5 531.6C277.6 529.8 276.0 524.1 275.3 520.9C274.7 517.7 276.0 515.9 274.5 512.4C273.0 508.8 269.2 502.4 266.3 499.6C263.5 496.8 260.4 496.6 257.4 495.5C254.4 494.4 249.5 494.2 248.4 493.0C247.2 491.8 248.7 489.0 250.6 488.3C252.5 487.5 256.3 489.4 259.6 488.4C262.8 487.5 266.8 485.0 270.3 482.7C273.8 480.4 277.3 477.8 280.5 474.8C283.7 471.9 287.3 467.8 289.4 465.2C291.6 462.6 291.5 462.4 293.4 459.3C295.2 456.2 299.1 448.5 300.5 446.5Z" stroke="#3cc23c" stroke-width="1.1" opacity="0.45" fill="none"/><path d="M298.8 449.8C300.2 447.4 301.3 447.7 300.8 450.1C300.3 452.6 296.5 461.0 295.9 464.6C295.2 468.2 295.9 469.1 296.7 471.8C297.5 474.5 299.2 477.5 300.4 480.6C301.6 483.7 303.0 487.1 304.0 490.4C304.9 493.8 305.5 497.7 306.4 500.7C307.3 503.7 310.5 507.7 309.4 508.5C308.2 509.2 302.6 505.4 299.7 505.4C296.9 505.4 294.8 507.6 292.2 508.5C289.6 509.3 285.9 508.7 284.1 510.6C282.2 512.4 281.9 516.9 281.2 519.6C280.5 522.3 280.1 525.2 279.8 526.9C279.6 528.5 280.0 530.7 279.8 529.4C279.5 528.0 279.1 522.2 278.3 518.7C277.5 515.2 276.8 511.7 275.1 508.3C273.5 504.8 271.0 500.3 268.3 497.9C265.6 495.6 261.5 495.2 258.9 494.3C256.4 493.4 253.9 492.9 252.8 492.3C251.7 491.7 250.6 491.3 252.3 490.6C254.1 489.9 260.0 489.3 263.3 488.1C266.6 487.0 269.5 485.7 272.3 483.8C275.0 481.8 277.0 478.6 280.0 476.4C282.9 474.1 287.9 472.3 290.0 470.3C292.1 468.3 291.2 468.0 292.7 464.6C294.1 461.2 297.5 452.2 298.8 449.8Z" stroke="#3cc23c" stroke-width="0.9" opacity="0.3" fill="none"/><path d="M295.4 460.1C296.2 458.3 296.8 458.1 296.3 459.9C295.9 461.7 293.2 468.1 292.7 470.9C292.2 473.7 292.6 474.9 293.2 476.8C293.7 478.8 294.6 480.5 295.8 482.5C297.1 484.5 299.9 486.2 300.9 488.6C301.8 491.1 301.0 494.8 301.4 497.2C301.7 499.6 303.7 502.0 303.1 503.1C302.6 504.2 300.3 503.8 298.2 503.9C296.0 504.0 292.5 503.6 290.2 503.8C287.9 504.1 285.9 503.7 284.3 505.5C282.7 507.3 281.2 511.9 280.6 514.5C279.9 517.1 280.4 519.8 280.6 521.1C280.7 522.5 281.7 524.0 281.4 522.6C281.1 521.1 279.8 515.0 278.8 512.4C277.9 509.8 276.8 509.4 275.7 506.8C274.6 504.3 274.0 499.1 272.4 496.9C270.7 494.7 268.1 494.4 265.8 493.5C263.6 492.6 259.7 491.8 258.9 491.5C258.0 491.2 259.5 492.1 260.8 491.9C262.0 491.6 264.2 490.8 266.4 489.9C268.7 489.1 271.9 488.5 274.2 486.8C276.4 485.0 277.7 481.6 280.1 479.3C282.5 477.0 286.6 474.4 288.6 472.8C290.6 471.3 290.7 472.3 291.8 470.2C293.0 468.0 294.7 461.8 295.4 460.1Z" stroke="#3cc23c" stroke-width="0.8" opacity="0.2" fill="none"/><path d="M279.7 473.4L281.1 490.1M294.5 455.0L285.4 469.9M294.3 511.8L292.8 502.6M290.1 462.0L289.5 476.7" stroke="#3cc23c" stroke-width="1.0" opacity="0.5" fill="none"/></g>
<path d="M302.6 439.0C304.4 436.3 305.9 436.2 305.0 439.0C304.1 441.8 298.2 451.5 297.5 456.0C296.8 460.5 299.3 462.7 300.5 466.1C301.7 469.5 303.3 472.7 304.7 476.5C306.1 480.3 307.4 484.9 308.8 489.0C310.2 493.1 311.9 497.6 313.0 501.4C314.1 505.2 316.9 510.6 315.5 512.0C314.1 513.4 308.2 509.7 304.7 509.7C301.2 509.7 297.8 510.8 294.3 511.8C290.8 512.9 286.2 513.6 283.9 516.0C281.6 518.4 281.3 522.5 280.5 526.3C279.7 530.1 279.7 536.9 279.2 539.0C278.7 541.1 278.1 541.1 277.5 539.0C276.9 536.9 276.6 530.5 275.6 526.3C274.6 522.1 273.5 518.0 271.4 513.9C269.3 509.8 266.2 504.5 263.1 501.4C260.0 498.3 256.1 496.6 252.8 495.2C249.5 493.8 244.8 493.8 243.4 492.8C242.0 491.8 242.2 490.2 244.5 489.4C246.8 488.6 252.7 489.3 256.9 488.0C261.0 486.7 265.6 484.1 269.4 481.7C273.2 479.3 276.2 476.7 279.7 473.4C283.1 470.1 287.6 465.1 290.1 462.0C292.6 458.9 292.4 458.8 294.5 455.0C296.6 451.2 300.9 441.7 302.6 439.0Z" fill="none" stroke="#44d046" stroke-width="1.6" stroke-linejoin="round" opacity="1.0" filter="url(#ge)"/>
<ellipse cx="261" cy="444" rx="4" ry="3" fill="#3cc040" opacity="0.8" filter="url(#nb)"/>
<g transform="rotate(0 281.8 496.2)"><ellipse cx="281.8" cy="496.2" rx="13.5" ry="14.5" fill="#2a40f0" filter="url(#nb)"/><ellipse cx="281.8" cy="496.2" rx="11.475" ry="12.325" fill="#fff" filter="url(#nt)" opacity="0.85"/></g>
</g>
<line x1="317.10" y1="541.90" x2="337.90" y2="541.90" stroke="#ffffff" stroke-width="1.3"/>
<text x="358.20" y="434.40" font-size="11.2" text-anchor="start" font-weight="bold" fill="#222">I</text>
<text x="408.00" y="443.18" font-size="8.6" text-anchor="middle" font-weight="bold" fill="#222">α-SMA</text>
<line x1="367.50" y1="453.80" x2="367.50" y2="532.40" stroke="#2a2a2a" stroke-width="1.0"/>
<line x1="367.60" y1="532.50" x2="450.40" y2="532.50" stroke="#2a2a2a" stroke-width="1.0"/>
<line x1="365.20" y1="532.40" x2="367.60" y2="532.40" stroke="#2a2a2a" stroke-width="0.8"/>
<text x="365.00" y="535.19" font-size="7.8" text-anchor="end" font-weight="bold" fill="#222">0</text>
<line x1="365.20" y1="506.25" x2="367.60" y2="506.25" stroke="#2a2a2a" stroke-width="0.8"/>
<text x="365.00" y="509.04" font-size="7.8" text-anchor="end" font-weight="bold" fill="#222">5</text>
<line x1="365.20" y1="480.10" x2="367.60" y2="480.10" stroke="#2a2a2a" stroke-width="0.8"/>
<text x="365.00" y="482.89" font-size="7.8" text-anchor="end" font-weight="bold" fill="#222">10</text>
<line x1="365.20" y1="453.95" x2="367.60" y2="453.95" stroke="#2a2a2a" stroke-width="0.8"/>
<text x="365.00" y="456.74" font-size="7.8" text-anchor="end" font-weight="bold" fill="#222">15</text>
<rect x="376.40" y="490.56" width="15.10" height="42.24" fill="#8fc6e4"/>
<line x1="383.95" y1="487.42" x2="383.95" y2="490.56" stroke="#8fc6e4" stroke-width="0.8"/>
<line x1="381.45" y1="487.42" x2="386.45" y2="487.42" stroke="#8fc6e4" stroke-width="0.8"/>
<rect x="400.20" y="481.67" width="15.20" height="51.13" fill="#217ba4"/>
<line x1="407.80" y1="479.05" x2="407.80" y2="481.67" stroke="#217ba4" stroke-width="0.8"/>
<line x1="405.30" y1="479.05" x2="410.30" y2="479.05" stroke="#217ba4" stroke-width="0.8"/>
<rect x="424.00" y="510.43" width="15.20" height="22.37" fill="#4b4b4b"/>
<line x1="431.60" y1="508.86" x2="431.60" y2="510.43" stroke="#4b4b4b" stroke-width="0.8"/>
<line x1="429.10" y1="508.86" x2="434.10" y2="508.86" stroke="#4b4b4b" stroke-width="0.8"/>
<text transform="translate(351.8 494.0) rotate(-90)" font-size="7.5" font-weight="bold" fill="#222" text-anchor="middle">Cytokines concentration (ng/mL)</text>
<text transform="translate(384.50 488.02) scale(1.1 1)" font-size="9.4" text-anchor="middle" font-weight="bold" fill="#222">****</text>
<text transform="translate(407.80 481.02) scale(1.1 1)" font-size="9.4" text-anchor="middle" font-weight="bold" fill="#222">****</text>
<path d="M384.00 480.00V468.00H407.50V472.00" stroke="#333" stroke-width="1.1" fill="none"/>
<text transform="translate(395.00 469.72) scale(1.1 1)" font-size="9.4" text-anchor="middle" font-weight="bold" fill="#222">*</text>
<text x="513.40" y="443.04" font-size="8.2" text-anchor="middle" font-weight="bold" fill="#222">Collagen I</text>
<line x1="475.50" y1="453.80" x2="475.50" y2="532.40" stroke="#2a2a2a" stroke-width="1.0"/>
<line x1="475.00" y1="532.50" x2="549.80" y2="532.50" stroke="#2a2a2a" stroke-width="1.0"/>
<line x1="472.60" y1="532.40" x2="475.00" y2="532.40" stroke="#2a2a2a" stroke-width="0.8"/>
<text x="472.00" y="535.19" font-size="7.8" text-anchor="end" font-weight="bold" fill="#222">0</text>
<line x1="472.60" y1="516.70" x2="475.00" y2="516.70" stroke="#2a2a2a" stroke-width="0.8"/>
<text x="472.00" y="519.49" font-size="7.8" text-anchor="end" font-weight="bold" fill="#222">5</text>
<line x1="472.60" y1="501.00" x2="475.00" y2="501.00" stroke="#2a2a2a" stroke-width="0.8"/>
<text x="472.00" y="503.79" font-size="7.8" text-anchor="end" font-weight="bold" fill="#222">10</text>
<line x1="472.60" y1="485.30" x2="475.00" y2="485.30" stroke="#2a2a2a" stroke-width="0.8"/>
<text x="472.00" y="488.09" font-size="7.8" text-anchor="end" font-weight="bold" fill="#222">15</text>
<line x1="472.60" y1="469.60" x2="475.00" y2="469.60" stroke="#2a2a2a" stroke-width="0.8"/>
<text x="472.00" y="472.39" font-size="7.8" text-anchor="end" font-weight="bold" fill="#222">20</text>
<line x1="472.60" y1="453.90" x2="475.00" y2="453.90" stroke="#2a2a2a" stroke-width="0.8"/>
<text x="472.00" y="456.69" font-size="7.8" text-anchor="end" font-weight="bold" fill="#222">25</text>
<rect x="483.10" y="474.94" width="15.10" height="57.86" fill="#8fc6e4"/>
<line x1="490.65" y1="473.37" x2="490.65" y2="474.94" stroke="#8fc6e4" stroke-width="0.8"/>
<line x1="488.15" y1="473.37" x2="493.15" y2="473.37" stroke="#8fc6e4" stroke-width="0.8"/>
<rect x="506.40" y="466.46" width="15.20" height="66.34" fill="#217ba4"/>
<line x1="514.00" y1="464.26" x2="514.00" y2="466.46" stroke="#217ba4" stroke-width="0.8"/>
<line x1="511.50" y1="464.26" x2="516.50" y2="464.26" stroke="#217ba4" stroke-width="0.8"/>
<rect x="529.70" y="494.72" width="15.20" height="38.08" fill="#4b4b4b"/>
<line x1="537.30" y1="492.21" x2="537.30" y2="494.72" stroke="#4b4b4b" stroke-width="0.8"/>
<line x1="534.80" y1="492.21" x2="539.80" y2="492.21" stroke="#4b4b4b" stroke-width="0.8"/>
<text transform="translate(457.6 494.0) rotate(-90)" font-size="7.5" font-weight="bold" fill="#222" text-anchor="middle">Cytokines concentration (ng/mL)</text>
<text transform="translate(490.60 474.72) scale(1.05 1)" font-size="9.4" text-anchor="middle" font-weight="bold" fill="#222">****</text>
<text transform="translate(514.00 466.52) scale(1.05 1)" font-size="9.4" text-anchor="middle" font-weight="bold" fill="#222">****</text>
<path d="M490.60 463.90V455.10H513.90V458.90" stroke="#333" stroke-width="1.1" fill="none"/>
<text transform="translate(502.20 457.12) scale(1.05 1)" font-size="9.4" text-anchor="middle" font-weight="bold" fill="#222">**</text>
<rect x="528.20" y="455.10" width="64.30" height="23.90" fill="none" stroke="#333" stroke-width="0.7"/>
<rect x="531.50" y="458.60" width="11.30" height="3.20" fill="#8fc6e4"/>
<rect x="531.50" y="466.10" width="11.30" height="3.20" fill="#217ba4"/>
<rect x="531.50" y="473.60" width="11.30" height="3.20" fill="#4b4b4b"/>
<text x="545.3" y="462.46" font-size="6.3" font-weight="bold" fill="#222">TAMEM<tspan font-size="3.9" dy="-1.89">C-m</tspan><tspan dy="1.89">-CM</tspan></text>
<text x="545.30" y="469.96" font-size="6.3" text-anchor="start" font-weight="bold" fill="#222">TAMEM-CM</text>
<text x="545.30" y="477.46" font-size="6.3" text-anchor="start" font-weight="bold" fill="#222">Normal Medium</text>
</svg></body></html>
